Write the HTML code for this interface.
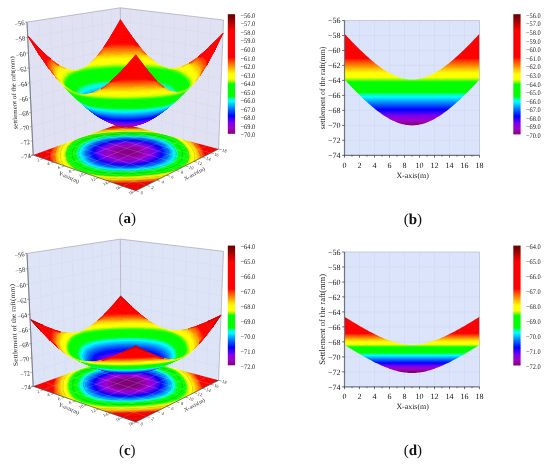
<!DOCTYPE html>
<html><head><meta charset="utf-8"><style>
html,body{margin:0;padding:0;background:#fff;}
svg{display:block;}
text{font-family:"Liberation Serif",serif;fill:#1e1e1e;text-rendering:geometricPrecision;}
.tl{font-size:8px;fill:#141414;}
.al{font-size:7.9px;}
.cl{font-size:7px;fill:#222;}
.t3{font-size:7px;}
.t4{font-size:4.5px;fill:#333;}
.t5{font-size:5.5px;}
.cap{font-size:15px;fill:#111;}
.s path{fill:currentColor;stroke:currentColor;stroke-width:.8;stroke-linejoin:round;}
</style></head><body>
<svg width="550" height="464" viewBox="0 0 550 464">
<rect width="550" height="464" fill="#fff"/>
<polygon points="27,22.1 120.3,7.8 121.1,123 33.2,155" fill="#e1e1f4"/>
<polygon points="120.3,7.8 223.5,20 218.6,149 121.1,123" fill="#e1e1f4"/>
<path d="M38.9 20.3L44.4 151M130.5 9.1L130.8 125.6M50.4 18.5L55.1 147M141.1 10.3L140.8 128.2M61.5 16.8L65.5 143.3M151.9 11.6L151.1 131M72.1 15.2L75.5 139.6M163 12.9L161.6 133.8M82.4 13.6L85.3 136.1M174.4 14.2L172.4 136.7M92.4 12.1L94.6 132.6M186.1 15.6L183.5 139.6M102 10.6L103.7 129.3M198.2 17L194.9 142.7M111.3 9.2L112.5 126.1M210.7 18.5L206.6 145.8M27.7 37.6L120.4 21.2 222.9 35.1M28.5 53L120.5 34.4 222.3 49.9M29.2 68.1L120.6 47.5 221.8 64.6M29.9 83.1L120.7 60.5 221.3 79.1M30.6 97.9L120.7 73.2 220.7 93.5M31.2 112.4L120.8 85.9 220.2 107.6M31.9 126.8L120.9 98.4 219.7 121.6M32.6 141L121 110.8 219.1 135.4" fill="none" stroke="#d6d6eb" stroke-width=".5"/>
<polyline points="33.2,155 27,22.1 120.3,7.8 223.5,20 218.6,149" fill="none" stroke="#9a9aae" stroke-width=".6"/>
<path d="M120.3 7.8L121.1 123" stroke="#9a9aae" stroke-width=".6"/>
<mask id="fca" maskUnits="userSpaceOnUse" x="0" y="0" width="550" height="464"><polygon points="33.2,155 121.1,123 218.6,149 135.8,190.7" fill="#fff"/></mask><g mask="url(#fca)">
<polygon points="26.9,155.2 120.7,121.3 224.6,148.8 136.5,193.7" fill="#ef0000"/>
<polygon points="169.4,134.2 176.3,136 183.5,137.9 191.4,140 200.4,142.4 211.1,145.2 217.5,149 215.9,153.2 208.5,157 202,160.3 196,163.4 190.2,166.3 184.6,169.2 178.7,172.2 172.6,175.3 165.7,178.8 157.9,182.8 148.5,187.6 135.7,190.1 121.9,188.6 110.4,184.6 100.9,181.2 92.5,178.3 84.8,175.6 77.6,173 70.5,170.6 63.2,168 55.7,165.4 47.4,162.5 38,159.2 34.5,155 39.4,150.7 49.3,147.1 57.5,144.1 64.7,141.5 71.3,139.2 77.5,136.9 83.6,134.7 89.7,132.5 96.2,130.2 103.3,127.6 111.2,124.7 121.1,123.3 131.5,124.2 140.6,126.6 148.5,128.7 155.8,130.6 162.6,132.4" fill="#ff0000"/>
<polygon points="169.4,134.2 176.3,136 183.5,137.9 191.4,140 200.4,142.4 211.1,145.2 216.3,149.1 215.9,153.2 208.5,157 202,160.3 196,163.4 190.2,166.3 184.6,169.2 178.7,172.2 172.6,175.3 165.7,178.8 157.9,182.8 148.5,187.6 135.5,189.5 121.9,188.6 110.4,184.6 100.9,181.2 92.5,178.3 84.8,175.6 77.6,173 70.5,170.6 63.2,168 55.7,165.4 47.4,162.5 38,159.2 35.7,155 39.4,150.7 49.3,147.1 57.5,144.1 64.7,141.5 71.3,139.2 77.5,136.9 83.6,134.7 89.7,132.5 96.2,130.2 103.3,127.6 111.2,124.7 121.2,123.7 131.5,124.2 140.6,126.6 148.5,128.7 155.8,130.6 162.6,132.4" fill="#ff0000"/>
<polygon points="169.4,134.2 176.3,136 183.5,137.9 191.4,140 200.4,142.4 211.1,145.2 215.1,149.1 215.9,153.2 208.5,157 202,160.3 196,163.4 190.2,166.3 184.6,169.2 178.7,172.2 172.6,175.3 165.7,178.8 157.9,182.8 148.5,187.6 135.4,188.9 121.9,188.6 110.4,184.6 100.9,181.2 92.5,178.3 84.8,175.6 77.6,173 70.5,170.6 63.2,168 55.7,165.4 47.4,162.5 38,159.2 37,154.9 39.4,150.7 49.3,147.1 57.5,144.1 64.7,141.5 71.3,139.2 77.5,136.9 83.6,134.7 89.7,132.5 96.2,130.2 103.3,127.6 111.2,124.7 121.3,124 131.5,124.2 140.6,126.6 148.5,128.7 155.8,130.6 162.6,132.4" fill="#ff0000"/>
<polygon points="169.4,134.2 176.3,136 183.5,137.9 191.4,140 200.4,142.4 211.1,145.2 213.9,149.1 215.9,153.2 208.5,157 202,160.3 196,163.4 190.2,166.3 184.6,169.2 178.7,172.2 172.6,175.3 165.7,178.8 157.9,182.8 148.5,187.6 135.3,188.3 121.9,188.6 110.4,184.6 100.9,181.2 92.5,178.3 84.8,175.6 77.6,173 70.5,170.6 63.2,168 55.7,165.4 47.4,162.5 38,159.2 38.3,154.9 39.4,150.7 49.3,147.1 57.5,144.1 64.7,141.5 71.3,139.2 77.5,136.9 83.6,134.7 89.7,132.5 96.2,130.2 103.3,127.6 111.2,124.7 121.4,124.3 131.5,124.2 140.6,126.6 148.5,128.7 155.8,130.6 162.6,132.4" fill="#ff0000"/>
<polygon points="169.4,134.2 176.3,136 183.5,137.9 191.4,140 200.4,142.4 210.1,145.3 212.7,149.2 214.8,153.2 208.5,157 202,160.3 196,163.4 190.2,166.3 184.6,169.2 178.7,172.2 172.6,175.3 165.7,178.8 157.9,182.8 148.2,187.1 135.2,187.7 122,188.1 110.4,184.6 100.9,181.2 92.5,178.3 84.8,175.6 77.6,173 70.5,170.6 63.2,168 55.7,165.4 47.4,162.5 39.2,159.1 39.5,154.8 40.5,150.7 49.3,147.1 57.5,144.1 64.7,141.5 71.3,139.2 77.5,136.9 83.6,134.7 89.7,132.5 96.2,130.2 103.3,127.6 111.4,125 121.4,124.7 131.5,124.5 140.6,126.6 148.5,128.7 155.8,130.6 162.6,132.4" fill="#ff0000"/>
<polygon points="169.4,134.2 176.3,136 183.5,137.9 191.4,140 200.4,142.4 209,145.4 211.5,149.2 213.5,153.2 208.5,157 202,160.3 196,163.4 190.2,166.3 184.6,169.2 178.7,172.2 172.6,175.3 165.7,178.8 157.9,182.8 147.8,186.5 135,187.1 122.1,187.5 110.4,184.6 100.9,181.2 92.5,178.3 84.8,175.6 77.6,173 70.5,170.6 63.2,168 55.7,165.4 47.4,162.5 40.5,159 40.8,154.8 41.7,150.7 49.3,147.1 57.5,144.1 64.7,141.5 71.3,139.2 77.5,136.9 83.6,134.7 89.7,132.5 96.2,130.2 103.3,127.6 111.6,125.4 121.5,125 131.4,124.8 140.6,126.6 148.5,128.7 155.8,130.6 162.6,132.4" fill="#ff0000"/>
<polygon points="169.4,134.2 176.3,136 183.5,137.9 191.4,140 200.4,142.4 207.8,145.5 210.3,149.3 212.3,153.2 208.5,157 202,160.3 196,163.4 190.2,166.3 184.6,169.2 178.7,172.2 172.6,175.3 165.7,178.8 157.9,182.8 147.5,185.9 134.9,186.5 122.2,186.9 110.4,184.6 100.9,181.2 92.5,178.3 84.8,175.6 77.6,173 70.5,170.6 63.2,168 55.7,165.4 47.4,162.5 41.8,158.9 42.1,154.7 43,150.8 49.3,147.1 57.5,144.1 64.7,141.5 71.3,139.2 77.5,136.9 83.6,134.7 89.7,132.5 96.2,130.2 103.3,127.6 111.8,125.7 121.6,125.4 131.4,125.2 140.6,126.6 148.5,128.7 155.8,130.6 162.6,132.4" fill="#ff0000"/>
<polygon points="169.4,134.2 176.3,136 183.5,137.9 191.4,140 200.4,142.4 206.6,145.6 209.1,149.3 211,153.2 208.5,157 202,160.3 196,163.4 190.2,166.3 184.6,169.2 178.7,172.2 172.6,175.3 165.7,178.8 157.9,182.8 147.2,185.3 134.8,186 122.3,186.3 110.4,184.6 100.9,181.2 92.5,178.3 84.8,175.6 77.6,173 70.5,170.6 63.2,168 55.7,165.4 47.4,162.5 43.1,158.8 43.4,154.7 44.3,150.8 49.3,147.1 57.5,144.1 64.7,141.5 71.3,139.2 77.5,136.9 83.6,134.7 89.7,132.5 96.2,130.2 103.3,127.6 112,126.1 121.7,125.7 131.3,125.5 140.6,126.6 148.5,128.7 155.8,130.6 162.6,132.4" fill="#ff0000"/>
<polygon points="169.4,134.2 176.3,136 183.5,137.9 191.4,140 200.4,142.4 205.4,145.7 207.8,149.3 209.7,153.1 208.5,157 202,160.3 196,163.4 190.2,166.3 184.6,169.2 178.7,172.2 172.6,175.3 165.7,178.8 157.9,182.8 146.8,184.8 134.6,185.4 122.4,185.7 110.4,184.6 100.9,181.2 92.5,178.3 84.8,175.6 77.6,173 70.5,170.6 63.2,168 55.7,165.4 47.4,162.5 44.4,158.6 44.7,154.7 45.5,150.8 49.3,147.1 57.5,144.1 64.7,141.5 71.3,139.2 77.5,136.9 83.6,134.7 89.7,132.5 96.2,130.2 103.3,127.6 112.2,126.4 121.7,126.1 131.3,125.9 140.6,126.6 148.5,128.7 155.8,130.6 162.6,132.4" fill="#ff0000"/>
<polygon points="169.4,134.2 176.3,136 183.5,137.9 191.4,140 200.4,142.4 204.3,145.8 206.6,149.4 208.4,153.1 208.5,157 202,160.3 196,163.4 190.2,166.3 184.6,169.2 178.7,172.2 172.6,175.3 165.7,178.8 157.9,182.8 146.5,184.2 134.5,184.8 122.4,185.1 110.4,184.6 100.9,181.2 92.5,178.3 84.8,175.6 77.6,173 70.5,170.6 63.2,168 55.7,165.4 47.4,162.5 45.8,158.5 46,154.6 46.8,150.8 49.3,147.1 57.5,144.1 64.7,141.5 71.3,139.2 77.5,136.9 83.6,134.7 89.7,132.5 96.2,130.2 103.3,127.6 112.4,126.8 121.8,126.4 131.2,126.3 140.6,126.6 148.5,128.7 155.8,130.6 162.6,132.4" fill="#ff0000"/>
<polygon points="169.4,134.2 176.3,136 183.5,137.9 191.4,140 200.2,142.4 203.1,145.9 205.3,149.4 207.1,153.1 208.3,157 202,160.3 196,163.4 190.2,166.3 184.6,169.2 178.7,172.2 172.6,175.3 165.7,178.8 157.8,182.7 146.1,183.6 134.4,184.2 122.5,184.5 110.5,184.5 100.9,181.2 92.5,178.3 84.8,175.6 77.6,173 70.5,170.6 63.2,168 55.7,165.4 47.6,162.4 47.1,158.4 47.3,154.6 48.1,150.8 49.5,147.1 57.5,144.1 64.7,141.5 71.3,139.2 77.5,136.9 83.6,134.7 89.7,132.5 96.2,130.2 103.3,127.7 112.7,127.1 121.9,126.8 131.1,126.6 140.5,126.6 148.5,128.7 155.8,130.6 162.6,132.4" fill="#ff0000"/>
<polygon points="169.4,134.2 176.3,136 183.5,137.9 191.4,140 199,142.6 201.9,146 204.1,149.5 205.8,153.1 206.9,156.9 202,160.3 196,163.4 190.2,166.3 184.6,169.2 178.7,172.2 172.6,175.3 165.7,178.8 157.2,182.1 145.8,183 134.3,183.6 122.6,183.9 110.8,183.9 100.9,181.2 92.5,178.3 84.8,175.6 77.6,173 70.5,170.6 63.2,168 55.7,165.4 49,162.2 48.5,158.3 48.6,154.5 49.4,150.8 50.8,147.2 57.5,144.1 64.7,141.5 71.3,139.2 77.5,136.9 83.6,134.7 89.7,132.5 96.2,130.2 103.7,128 112.9,127.5 122,127.2 131.1,127 140.3,127 148.5,128.7 155.8,130.6 162.6,132.4" fill="#ff0000"/>
<polygon points="169.4,134.2 176.3,136 183.5,137.9 191.4,140 197.9,142.7 200.6,146.1 202.8,149.5 204.5,153.1 205.6,156.8 202,160.3 196,163.4 190.2,166.3 184.6,169.2 178.7,172.2 172.6,175.3 165.7,178.8 156.7,181.5 145.4,182.4 134.1,183 122.7,183.3 111.1,183.3 100.9,181.2 92.5,178.3 84.8,175.6 77.6,173 70.5,170.6 63.2,168 55.7,165.4 50.4,162.1 49.8,158.2 50,154.5 50.7,150.9 52.1,147.3 57.5,144.1 64.7,141.5 71.3,139.2 77.5,136.9 83.6,134.7 89.7,132.5 96.2,130.2 104,128.4 113.1,127.9 122.1,127.5 131,127.4 140.1,127.4 148.5,128.7 155.8,130.6 162.6,132.4" fill="#ff1c00"/>
<polygon points="169.4,134.2 176.3,136 183.5,137.9 191.4,140 196.7,142.9 199.4,146.2 201.5,149.5 203.1,153.1 204.2,156.7 202,160.3 196,163.4 190.2,166.3 184.6,169.2 178.7,172.2 172.6,175.3 165.7,178.8 156.1,181 145.1,181.8 134,182.4 122.8,182.7 111.5,182.6 100.9,181.2 92.5,178.3 84.8,175.6 77.6,173 70.5,170.6 63.2,168 55.7,165.4 51.8,161.9 51.2,158.1 51.3,154.4 52,150.9 53.3,147.4 57.5,144.1 64.7,141.5 71.3,139.2 77.5,136.9 83.6,134.7 89.7,132.5 96.2,130.2 104.4,128.8 113.3,128.2 122.1,127.9 131,127.7 139.9,127.8 148.5,128.7 155.8,130.6 162.6,132.4" fill="#ff4100"/>
<polygon points="169.4,134.2 176.3,136 183.5,137.9 191.4,140 195.5,143 198.2,146.3 200.3,149.6 201.8,153 202.8,156.6 202,160.3 196,163.4 190.2,166.3 184.6,169.2 178.7,172.2 172.6,175.3 165.7,178.8 155.5,180.4 144.7,181.2 133.9,181.8 122.9,182 111.8,182 100.9,181.2 92.5,178.3 84.8,175.6 77.6,173 70.5,170.6 63.2,168 55.7,165.4 53.2,161.7 52.6,158 52.7,154.4 53.3,150.9 54.7,147.5 57.5,144.1 64.7,141.5 71.3,139.2 77.5,136.9 83.6,134.7 89.7,132.5 96.2,130.2 104.8,129.2 113.5,128.6 122.2,128.3 130.9,128.1 139.7,128.2 148.5,128.7 155.8,130.6 162.6,132.4" fill="#ff6200"/>
<polygon points="169.4,134.2 176.3,136 183.5,137.9 191,140.1 194.3,143.2 196.9,146.4 199,149.6 200.5,153 201.4,156.5 201.5,160.3 196,163.4 190.2,166.3 184.6,169.2 178.7,172.2 172.6,175.3 165.4,178.6 154.9,179.8 144.4,180.6 133.7,181.2 123,181.4 112.1,181.4 101.1,181 92.5,178.3 84.8,175.6 77.6,173 70.5,170.6 63.2,168 56.2,165.3 54.7,161.5 54,157.9 54,154.4 54.7,150.9 56,147.5 58,144.2 64.7,141.5 71.3,139.2 77.5,136.9 83.6,134.7 89.7,132.5 96.4,130.3 105.1,129.5 113.8,129 122.3,128.7 130.9,128.5 139.5,128.5 148.4,128.8 155.8,130.6 162.6,132.4" fill="#ff8200"/>
<polygon points="169.4,134.2 176.3,136 183.5,137.9 189.8,140.3 193.1,143.3 195.7,146.5 197.6,149.7 199.1,153 199.9,156.5 200,160.1 196,163.4 190.2,166.3 184.6,169.2 178.7,172.2 172.6,175.3 164.6,178 154.4,179.2 144,180 133.6,180.5 123.1,180.8 112.4,180.8 101.6,180.4 92.5,178.3 84.8,175.6 77.6,173 70.5,170.6 63.2,168 57.7,165 56.1,161.3 55.4,157.8 55.4,154.3 56,150.9 57.3,147.6 59.3,144.3 64.7,141.5 71.3,139.2 77.5,136.9 83.6,134.7 89.7,132.5 97,130.7 105.5,129.9 114,129.4 122.4,129.1 130.8,128.9 139.3,128.9 148,129.2 155.8,130.6 162.6,132.4" fill="#ffa400"/>
<polygon points="169.4,134.2 176.3,136 183.5,137.9 188.6,140.5 191.9,143.5 194.4,146.6 196.3,149.7 197.7,153 198.5,156.4 198.5,159.9 196,163.4 190.2,166.3 184.6,169.2 178.7,172.2 172.6,175.3 163.8,177.4 153.8,178.6 143.6,179.4 133.5,179.9 123.2,180.2 112.8,180.1 102.2,179.7 92.5,178.3 84.8,175.6 77.6,173 70.5,170.6 63.2,168 59.1,164.7 57.5,161.1 56.8,157.6 56.8,154.3 57.4,151 58.6,147.7 60.6,144.5 64.7,141.5 71.3,139.2 77.5,136.9 83.6,134.7 89.7,132.5 97.5,131.1 105.9,130.3 114.2,129.8 122.5,129.5 130.7,129.3 139.1,129.3 147.6,129.6 155.8,130.6 162.6,132.4" fill="#ffc400"/>
<polygon points="169.4,134.2 176.3,136 183.4,137.9 187.4,140.7 190.6,143.7 193.1,146.7 195,149.8 196.3,153 197.1,156.3 197,159.8 195.8,163.4 190.2,166.3 184.6,169.2 178.7,172.2 172.4,175.3 163,176.9 153.2,178 143.3,178.8 133.3,179.3 123.3,179.6 113.1,179.5 102.8,179.1 92.6,178.2 84.8,175.6 77.6,173 70.5,170.6 63.4,168 60.6,164.4 59,160.9 58.2,157.5 58.2,154.2 58.8,151 60,147.8 61.9,144.6 64.9,141.6 71.3,139.2 77.5,136.9 83.6,134.7 89.8,132.5 98.1,131.5 106.3,130.7 114.5,130.2 122.6,129.9 130.7,129.7 138.9,129.8 147.3,130 155.7,130.6 162.6,132.4" fill="#ffe100"/>
<polygon points="169.4,134.2 176.3,136 182.2,138.2 186.2,141 189.4,143.8 191.8,146.8 193.6,149.8 194.9,152.9 195.6,156.2 195.5,159.6 194.3,163.1 190.2,166.3 184.6,169.2 178.7,172.2 171.4,174.7 162.2,176.3 152.6,177.4 142.9,178.2 133.2,178.7 123.4,178.9 113.4,178.9 103.4,178.5 93.4,177.6 84.8,175.6 77.6,173 70.5,170.6 64.9,167.6 62.1,164.2 60.4,160.7 59.7,157.4 59.6,154.2 60.2,151 61.3,147.9 63.3,144.8 66.2,141.8 71.3,139.2 77.5,136.9 83.6,134.7 90.6,132.9 98.6,131.9 106.7,131.1 114.7,130.6 122.7,130.3 130.6,130.1 138.7,130.2 146.9,130.4 155.1,131 162.6,132.4" fill="#fffe00"/>
<polygon points="169.4,134.2 176,136.1 181.1,138.5 185,141.2 188.1,144 190.5,146.9 192.3,149.9 193.5,152.9 194.1,156.1 194,159.4 192.7,162.8 189.9,166.2 184.6,169.2 178.5,172.1 170.3,174.2 161.3,175.7 152,176.8 142.6,177.6 133.1,178.1 123.5,178.3 113.7,178.2 103.9,177.8 94.2,176.9 85,175.5 77.6,173 70.8,170.5 66.4,167.2 63.6,163.9 61.9,160.6 61.1,157.3 61,154.1 61.6,151 62.7,148 64.6,144.9 67.5,142 71.6,139.2 77.5,136.9 83.8,134.8 91.3,133.3 99.2,132.2 107.1,131.5 114.9,131 122.7,130.7 130.6,130.5 138.5,130.6 146.5,130.9 154.6,131.5 162.5,132.5" fill="#ffff00"/>
<polygon points="168.8,134.4 175,136.4 179.9,138.8 183.8,141.4 186.8,144.2 189.1,147 190.9,149.9 192.1,152.9 192.6,156 192.4,159.2 191.2,162.6 188.4,165.9 183.7,169 177.2,171.6 169.2,173.6 160.5,175.1 151.4,176.2 142.2,177 132.9,177.5 123.6,177.7 114.1,177.6 104.5,177.2 95.1,176.3 86.1,174.9 78.3,172.7 72.2,170 67.9,166.9 65.1,163.6 63.4,160.4 62.6,157.2 62.5,154.1 63,151 64.1,148 66,145.1 68.8,142.2 72.8,139.5 78.2,137.1 84.7,135.2 92.1,133.7 99.8,132.7 107.5,131.9 115.2,131.4 122.8,131.1 130.5,131 138.3,131 146.1,131.3 154,131.9 161.7,132.9" fill="#ffff00"/>
<polygon points="167.9,134.8 173.9,136.8 178.8,139.1 182.6,141.7 185.5,144.3 187.8,147.1 189.5,149.9 190.6,152.9 191.1,155.9 190.9,159.1 189.6,162.3 186.8,165.5 182.2,168.5 175.9,171 168.1,173 159.6,174.5 150.8,175.6 141.8,176.4 132.8,176.8 123.6,177 114.4,177 105.1,176.5 95.9,175.7 87.2,174.2 79.6,172.2 73.6,169.5 69.4,166.5 66.6,163.3 64.9,160.2 64.1,157.1 64,154 64.4,151.1 65.5,148.1 67.4,145.2 70.1,142.4 74.1,139.8 79.3,137.5 85.7,135.6 92.9,134.1 100.4,133.1 107.9,132.3 115.4,131.8 122.9,131.5 130.4,131.4 138,131.4 145.7,131.7 153.4,132.3 161,133.3" fill="#beff00"/>
<polygon points="167,135.2 172.8,137.1 177.6,139.4 181.3,141.9 184.2,144.5 186.4,147.2 188.1,150 189.1,152.9 189.6,155.8 189.3,158.9 188,162.1 185.2,165.2 180.7,168.1 174.5,170.5 167,172.5 158.8,173.9 150.2,175 141.5,175.7 132.6,176.2 123.7,176.4 114.7,176.3 105.7,175.9 96.8,175 88.3,173.6 80.9,171.6 75.1,169 70.9,166.1 68.1,163 66.4,160 65.6,156.9 65.4,154 65.9,151.1 67,148.2 68.8,145.4 71.5,142.7 75.3,140.1 80.4,137.8 86.7,135.9 93.6,134.5 100.9,133.5 108.3,132.7 115.7,132.2 123,131.9 130.4,131.8 137.8,131.9 145.3,132.2 152.8,132.8 160.2,133.8" fill="#53ff00"/>
<polygon points="166,135.6 171.7,137.5 176.4,139.7 180,142.1 182.9,144.7 185,147.3 186.6,150 187.6,152.8 188.1,155.7 187.7,158.7 186.4,161.8 183.6,164.8 179.3,167.6 173.2,170 166,171.9 158,173.4 149.6,174.4 141.1,175.1 132.5,175.6 123.8,175.7 115.1,175.7 106.3,175.2 97.6,174.4 89.4,173 82.3,171.1 76.5,168.6 72.4,165.7 69.6,162.7 68,159.8 67.1,156.8 66.9,153.9 67.4,151.1 68.4,148.3 70.2,145.6 72.9,142.9 76.6,140.4 81.6,138.2 87.7,136.3 94.4,134.9 101.6,133.9 108.8,133.2 115.9,132.7 123.1,132.4 130.3,132.3 137.6,132.3 144.9,132.6 152.2,133.2 159.4,134.2" fill="#00ff00"/>
<polygon points="165,136 170.6,137.9 175.1,140 178.7,142.4 181.5,144.9 183.6,147.4 185.2,150.1 186.1,152.8 186.5,155.6 186.1,158.5 184.8,161.5 182,164.4 177.8,167.2 171.9,169.5 164.9,171.3 157.1,172.8 149,173.8 140.7,174.5 132.4,174.9 123.9,175.1 115.4,175 106.9,174.6 98.5,173.7 90.6,172.4 83.6,170.5 78,168.1 73.9,165.3 71.2,162.5 69.5,159.6 68.7,156.7 68.5,153.9 68.9,151.1 69.9,148.4 71.6,145.7 74.2,143.1 77.9,140.7 82.8,138.5 88.7,136.7 95.2,135.3 102.2,134.3 109.2,133.6 116.2,133.1 123.2,132.8 130.2,132.7 137.3,132.8 144.5,133.1 151.6,133.7 158.6,134.6" fill="#00ff00"/>
<polygon points="164,136.5 169.4,138.2 173.9,140.3 177.4,142.6 180.1,145 182.2,147.6 183.7,150.1 184.6,152.8 184.9,155.5 184.5,158.4 183.1,161.2 180.4,164.1 176.2,166.7 170.6,169 163.7,170.8 156.2,172.1 148.4,173.1 140.3,173.8 132.2,174.3 124,174.4 115.8,174.3 107.5,173.9 99.3,173.1 91.7,171.8 84.9,169.9 79.5,167.6 75.5,165 72.8,162.2 71.1,159.3 70.2,156.6 70,153.8 70.4,151.1 71.4,148.5 73.1,145.9 75.6,143.4 79.2,141 84,138.9 89.7,137.1 96.1,135.8 102.8,134.8 109.6,134.1 116.5,133.6 123.3,133.3 130.2,133.2 137.1,133.3 144.1,133.6 151,134.1 157.8,135.1" fill="#00ff00"/>
<polygon points="163,136.9 168.3,138.6 172.6,140.6 176.1,142.9 178.7,145.2 180.7,147.7 182.2,150.2 183,152.8 183.3,155.4 182.9,158.2 181.5,161 178.8,163.7 174.7,166.2 169.2,168.4 162.6,170.2 155.3,171.5 147.7,172.5 140,173.2 132.1,173.6 124.1,173.8 116.1,173.7 108.1,173.2 100.2,172.4 92.8,171.2 86.3,169.4 81,167.1 77.1,164.6 74.4,161.9 72.7,159.1 71.8,156.4 71.6,153.8 71.9,151.2 72.9,148.6 74.6,146.1 77.1,143.6 80.6,141.3 85.2,139.2 90.7,137.5 96.9,136.2 103.4,135.2 110.1,134.5 116.8,134 123.4,133.8 130.1,133.6 136.8,133.7 143.6,134 150.4,134.6 157,135.5" fill="#00ff00"/>
<polygon points="162,137.3 167.1,139 171.3,141 174.7,143.1 177.3,145.4 179.2,147.8 180.6,150.2 181.5,152.7 181.7,155.3 181.2,158 179.8,160.7 177.2,163.3 173.2,165.8 167.9,167.9 161.5,169.6 154.5,170.9 147.1,171.9 139.6,172.5 131.9,172.9 124.2,173.1 116.5,173 108.7,172.6 101.1,171.8 93.9,170.5 87.6,168.8 82.5,166.6 78.6,164.2 76,161.6 74.3,158.9 73.4,156.3 73.2,153.7 73.5,151.2 74.4,148.7 76.1,146.2 78.5,143.8 81.9,141.6 86.4,139.6 91.8,137.9 97.8,136.6 104.1,135.7 110.5,135 117,134.5 123.5,134.2 130,134.1 136.6,134.2 143.2,134.5 149.8,135.1 156.1,136" fill="#00ff00"/>
<polygon points="161,137.8 165.9,139.4 170,141.3 173.3,143.4 175.8,145.6 177.7,147.9 179.1,150.3 179.8,152.7 180,155.2 179.5,157.8 178.1,160.4 175.5,163 171.6,165.3 166.5,167.4 160.3,169 153.6,170.3 146.5,171.2 139.2,171.9 131.8,172.3 124.3,172.4 116.8,172.3 109.3,171.9 102,171.1 95.1,169.9 89,168.2 84,166.1 80.2,163.8 77.6,161.3 76,158.7 75.1,156.2 74.8,153.7 75.1,151.2 76,148.8 77.6,146.4 80,144.1 83.3,141.9 87.6,140 92.8,138.4 98.6,137.1 104.8,136.1 111,135.5 117.3,135 123.6,134.7 130,134.6 136.3,134.7 142.7,135 149.1,135.6 155.3,136.5" fill="#00ff00"/>
<polygon points="159.9,138.2 164.7,139.8 168.7,141.6 171.9,143.7 174.3,145.8 176.2,148 177.5,150.3 178.2,152.7 178.4,155.1 177.8,157.6 176.4,160.1 173.8,162.6 170.1,164.8 165.1,166.8 159.2,168.4 152.7,169.7 145.8,170.6 138.8,171.2 131.6,171.6 124.4,171.7 117.2,171.6 110,171.2 102.9,170.4 96.2,169.2 90.4,167.6 85.5,165.6 81.9,163.4 79.3,160.9 77.6,158.5 76.7,156 76.4,153.6 76.7,151.2 77.6,148.9 79.2,146.6 81.5,144.3 84.7,142.2 88.9,140.4 93.9,138.8 99.5,137.6 105.4,136.6 111.5,135.9 117.6,135.5 123.7,135.2 129.9,135.1 136.1,135.2 142.3,135.5 148.5,136.1 154.4,137" fill="#00ff8a"/>
<polygon points="158.8,138.7 163.5,140.2 167.3,142 170.4,143.9 172.8,146 174.6,148.2 175.8,150.4 176.5,152.7 176.6,155 176.1,157.4 174.6,159.8 172.1,162.2 168.5,164.4 163.7,166.3 158,167.8 151.7,169 145.1,169.9 138.4,170.5 131.5,170.9 124.5,171 117.6,170.9 110.6,170.5 103.8,169.7 97.4,168.6 91.8,167 87.1,165.1 83.5,162.9 81,160.6 79.3,158.3 78.4,155.9 78.1,153.6 78.4,151.3 79.3,149 80.8,146.7 83,144.6 86.2,142.6 90.2,140.8 95,139.2 100.4,138 106.1,137.1 112,136.4 117.9,136 123.8,135.7 129.8,135.6 135.8,135.7 141.8,136 147.8,136.6 153.5,137.5" fill="#00ffd7"/>
<polygon points="157.7,139.1 162.2,140.6 165.9,142.3 168.9,144.2 171.2,146.2 173,148.3 174.2,150.4 174.8,152.6 174.9,154.9 174.3,157.2 172.8,159.5 170.4,161.8 166.9,163.9 162.3,165.7 156.8,167.2 150.8,168.4 144.5,169.2 137.9,169.8 131.3,170.2 124.7,170.3 117.9,170.2 111.2,169.8 104.7,169 98.6,167.9 93.2,166.4 88.7,164.6 85.2,162.5 82.7,160.3 81.1,158 80.2,155.8 79.9,153.5 80.1,151.3 80.9,149.1 82.4,146.9 84.6,144.8 87.6,142.9 91.5,141.2 96.2,139.7 101.3,138.5 106.8,137.6 112.5,137 118.2,136.5 124,136.3 129.7,136.2 135.5,136.3 141.3,136.6 147.1,137.1 152.6,138" fill="#00ecff"/>
<polygon points="156.6,139.6 160.9,141 164.5,142.7 167.4,144.5 169.6,146.4 171.3,148.4 172.4,150.5 173,152.6 173.1,154.8 172.5,157 171,159.2 168.7,161.4 165.2,163.4 160.8,165.1 155.6,166.6 149.9,167.7 143.8,168.5 137.5,169.1 131.2,169.4 124.8,169.5 118.3,169.4 111.9,169 105.7,168.3 99.8,167.3 94.6,165.8 90.3,164.1 86.9,162.1 84.5,160 82.9,157.8 81.9,155.6 81.6,153.5 81.9,151.3 82.7,149.2 84.1,147.1 86.2,145.1 89.1,143.2 92.9,141.6 97.3,140.1 102.3,139 107.6,138.1 113,137.5 118.5,137 124.1,136.8 129.6,136.7 135.2,136.8 140.8,137.1 146.4,137.7 151.7,138.5" fill="#00c4ff"/>
<polygon points="155.4,140.1 159.6,141.5 163,143 165.8,144.8 168,146.6 169.6,148.6 170.7,150.6 171.2,152.6 171.2,154.7 170.6,156.8 169.2,158.9 166.9,161 163.6,162.9 159.3,164.5 154.4,165.9 148.9,167 143.1,167.8 137.1,168.4 131,168.7 124.9,168.8 118.7,168.7 112.6,168.3 106.6,167.6 101,166.6 96.1,165.2 91.9,163.6 88.6,161.7 86.3,159.6 84.7,157.6 83.8,155.5 83.4,153.4 83.7,151.3 84.4,149.3 85.8,147.3 87.9,145.4 90.7,143.6 94.3,142 98.5,140.6 103.3,139.5 108.3,138.6 113.6,138 118.9,137.6 124.2,137.4 129.6,137.3 134.9,137.4 140.3,137.7 145.6,138.2 150.7,139" fill="#009cff"/>
<polygon points="154.2,140.6 158.2,141.9 161.5,143.4 164.2,145.1 166.3,146.9 167.8,148.7 168.9,150.6 169.4,152.6 169.3,154.6 168.7,156.6 167.3,158.6 165,160.6 161.9,162.4 157.8,164 153.1,165.3 147.9,166.3 142.4,167.1 136.7,167.6 130.9,167.9 125,168 119.1,167.9 113.3,167.5 107.6,166.9 102.3,165.9 97.5,164.6 93.6,163 90.4,161.2 88.1,159.3 86.6,157.3 85.7,155.3 85.3,153.3 85.5,151.4 86.3,149.4 87.6,147.5 89.6,145.7 92.3,144 95.7,142.4 99.7,141.1 104.3,140 109.1,139.2 114.1,138.6 119.2,138.2 124.3,137.9 129.5,137.9 134.6,138 139.8,138.3 144.9,138.8 149.7,139.6" fill="#0075ff"/>
<polygon points="153,141.1 156.8,142.4 160,143.8 162.5,145.4 164.5,147.1 166,148.9 167,150.7 167.4,152.5 167.4,154.4 166.7,156.4 165.3,158.3 163.2,160.1 160.1,161.8 156.3,163.4 151.8,164.6 146.9,165.6 141.6,166.3 136.2,166.9 130.7,167.2 125.1,167.3 119.5,167.1 114,166.8 108.6,166.1 103.6,165.2 99.1,164 95.3,162.5 92.2,160.8 90,158.9 88.5,157.1 87.6,155.2 87.2,153.3 87.4,151.4 88.1,149.5 89.4,147.7 91.3,146 93.9,144.3 97.2,142.9 101,141.6 105.3,140.6 109.9,139.8 114.7,139.2 119.6,138.8 124.5,138.5 129.4,138.5 134.3,138.6 139.2,138.9 144.1,139.4 148.7,140.1" fill="#0051ff"/>
<polygon points="151.7,141.7 155.3,142.8 158.3,144.2 160.8,145.7 162.7,147.3 164.1,149 165,150.7 165.4,152.5 165.4,154.3 164.7,156.1 163.3,157.9 161.2,159.7 158.4,161.3 154.7,162.7 150.5,163.9 145.8,164.9 140.9,165.6 135.7,166.1 130.5,166.4 125.2,166.4 119.9,166.3 114.7,166 109.6,165.3 104.9,164.5 100.6,163.3 97,161.9 94.1,160.3 92,158.6 90.5,156.8 89.6,155 89.2,153.2 89.4,151.4 90.1,149.7 91.3,147.9 93.1,146.3 95.6,144.7 98.7,143.3 102.3,142.1 106.4,141.1 110.8,140.3 115.3,139.8 119.9,139.4 124.6,139.2 129.3,139.1 134,139.2 138.7,139.5 143.3,140 147.7,140.7" fill="#002dff"/>
<polygon points="150.4,142.2 153.8,143.3 156.6,144.6 159,146.1 160.8,147.6 162.1,149.2 163,150.8 163.4,152.5 163.2,154.2 162.6,155.9 161.3,157.6 159.3,159.2 156.5,160.8 153.1,162.1 149.1,163.2 144.7,164.1 140.1,164.8 135.3,165.3 130.3,165.5 125.3,165.6 120.4,165.5 115.4,165.1 110.7,164.5 106.2,163.7 102.2,162.6 98.8,161.3 96.1,159.8 94,158.2 92.6,156.5 91.7,154.8 91.3,153.1 91.5,151.5 92.1,149.8 93.3,148.1 95,146.6 97.3,145.1 100.3,143.8 103.7,142.6 107.5,141.7 111.6,141 115.9,140.4 120.3,140 124.7,139.8 129.2,139.8 133.7,139.9 138.1,140.2 142.4,140.6 146.6,141.3" fill="#0009ff"/>
<polygon points="149,142.8 152.2,143.9 154.9,145.1 157.1,146.4 158.8,147.8 160.1,149.3 160.9,150.9 161.2,152.5 161,154.1 160.4,155.7 159.1,157.2 157.2,158.8 154.6,160.2 151.4,161.4 147.7,162.5 143.6,163.3 139.3,164 134.8,164.4 130.1,164.7 125.5,164.7 120.8,164.6 116.2,164.3 111.8,163.7 107.6,162.9 103.9,161.9 100.7,160.7 98.1,159.3 96.1,157.8 94.7,156.2 93.9,154.7 93.5,153.1 93.6,151.5 94.2,149.9 95.4,148.4 97,146.9 99.2,145.5 101.9,144.3 105.1,143.2 108.7,142.3 112.6,141.6 116.6,141.1 120.7,140.7 124.9,140.5 129.1,140.5 133.3,140.6 137.5,140.8 141.5,141.3 145.4,142" fill="#1d00fb"/>
<polygon points="147.5,143.4 150.5,144.4 153,145.5 155.1,146.8 156.7,148.1 157.9,149.5 158.6,150.9 158.9,152.4 158.7,153.9 158.1,155.4 156.8,156.9 155,158.3 152.6,159.6 149.7,160.7 146.2,161.7 142.5,162.5 138.4,163.1 134.2,163.5 129.9,163.8 125.6,163.8 121.3,163.7 117,163.4 112.9,162.9 109.1,162.1 105.6,161.2 102.6,160.1 100.2,158.8 98.3,157.4 97,156 96.2,154.5 95.8,153 95.9,151.5 96.5,150.1 97.5,148.6 99.1,147.3 101.1,146 103.7,144.8 106.6,143.8 110,143 113.6,142.3 117.3,141.8 121.1,141.5 125,141.3 129,141.2 132.9,141.3 136.8,141.6 140.6,142 144.2,142.6" fill="#4500f6"/>
<polygon points="146,144.1 148.7,145 151,146 153,147.2 154.5,148.4 155.5,149.7 156.2,151 156.5,152.4 156.3,153.8 155.6,155.1 154.5,156.5 152.8,157.8 150.6,159 147.8,160 144.7,160.9 141.2,161.6 137.5,162.2 133.7,162.6 129.7,162.8 125.8,162.9 121.8,162.7 117.9,162.5 114.1,162 110.6,161.3 107.4,160.4 104.7,159.4 102.4,158.2 100.6,157 99.4,155.6 98.6,154.3 98.3,152.9 98.4,151.5 98.9,150.2 99.8,148.9 101.3,147.6 103.2,146.4 105.5,145.4 108.2,144.4 111.3,143.7 114.6,143 118.1,142.6 121.6,142.2 125.2,142.1 128.9,142 132.5,142.1 136.1,142.4 139.6,142.8 142.9,143.4" fill="#6d00f1"/>
<polygon points="144.3,144.8 146.8,145.6 148.9,146.6 150.7,147.6 152,148.7 153,149.9 153.6,151.1 153.8,152.3 153.6,153.6 153,154.8 151.9,156.1 150.4,157.2 148.3,158.3 145.9,159.2 143,160.1 139.9,160.7 136.6,161.2 133.1,161.6 129.5,161.8 125.9,161.8 122.3,161.7 118.8,161.5 115.4,161 112.2,160.4 109.3,159.6 106.8,158.7 104.8,157.6 103.1,156.5 102,155.3 101.2,154.1 100.9,152.8 101,151.6 101.5,150.4 102.3,149.2 103.6,148 105.4,146.9 107.5,146 110,145.1 112.7,144.4 115.7,143.8 118.9,143.4 122.1,143.1 125.4,142.9 128.7,142.9 132,143 135.3,143.2 138.5,143.6 141.5,144.1" fill="#8400e4"/>
<polygon points="142.5,145.6 144.7,146.3 146.6,147.2 148.1,148.1 149.4,149.1 150.2,150.1 150.8,151.2 150.9,152.3 150.7,153.4 150.2,154.5 149.2,155.6 147.8,156.6 145.9,157.6 143.8,158.4 141.2,159.1 138.5,159.7 135.5,160.2 132.4,160.5 129.3,160.7 126.1,160.7 122.9,160.6 119.8,160.4 116.8,160 113.9,159.4 111.4,158.7 109.2,157.9 107.3,157 105.9,156 104.8,154.9 104.1,153.8 103.8,152.7 103.8,151.6 104.3,150.5 105.1,149.5 106.2,148.4 107.8,147.5 109.6,146.6 111.8,145.9 114.3,145.2 117,144.7 119.8,144.3 122.7,144 125.6,143.9 128.6,143.8 131.6,143.9 134.5,144.1 137.3,144.5 140,145" fill="#9400d4"/>
<polygon points="140.4,146.5 142.3,147.1 144,147.8 145.3,148.6 146.4,149.5 147.1,150.4 147.6,151.3 147.7,152.3 147.5,153.2 147,154.2 146.1,155.1 144.9,156 143.3,156.8 141.4,157.5 139.3,158.1 136.9,158.6 134.4,159 131.7,159.3 129,159.5 126.3,159.5 123.5,159.4 120.8,159.2 118.3,158.8 115.9,158.4 113.7,157.8 111.8,157.1 110.2,156.3 108.9,155.4 107.9,154.5 107.3,153.6 107,152.6 107.1,151.7 107.4,150.7 108.1,149.8 109.1,148.9 110.5,148.1 112.1,147.4 114,146.7 116.1,146.1 118.4,145.7 120.8,145.3 123.3,145.1 125.8,144.9 128.4,144.9 131,145 133.5,145.2 136,145.5 138.3,145.9" fill="#9d00c1"/>
<polygon points="138,147.5 139.5,148 140.9,148.6 142,149.2 142.9,149.9 143.5,150.7 143.8,151.4 143.9,152.2 143.7,153 143.3,153.7 142.5,154.5 141.5,155.2 140.2,155.8 138.7,156.4 137,156.9 135.1,157.4 133,157.7 130.9,157.9 128.7,158 126.5,158 124.3,158 122.1,157.8 120,157.5 118.1,157.1 116.3,156.6 114.8,156.1 113.4,155.5 112.4,154.8 111.6,154 111.1,153.3 110.8,152.5 110.9,151.7 111.1,151 111.7,150.2 112.5,149.5 113.6,148.8 114.9,148.2 116.4,147.7 118.2,147.2 120,146.8 122,146.5 124,146.3 126.1,146.2 128.2,146.2 130.3,146.3 132.4,146.4 134.4,146.7 136.3,147" fill="#9100a5"/>
<polygon points="134.9,148.8 136,149.2 136.9,149.6 137.7,150 138.3,150.5 138.7,151.1 139,151.6 139,152.1 138.9,152.7 138.5,153.2 138,153.7 137.3,154.2 136.4,154.7 135.3,155.1 134.1,155.4 132.8,155.7 131.3,156 129.8,156.1 128.3,156.2 126.7,156.2 125.2,156.2 123.7,156 122.2,155.8 120.9,155.6 119.7,155.2 118.6,154.8 117.6,154.4 116.9,153.9 116.3,153.4 115.9,152.9 115.7,152.3 115.7,151.8 115.9,151.3 116.3,150.7 116.9,150.2 117.7,149.7 118.6,149.3 119.7,148.9 120.9,148.6 122.2,148.3 123.6,148.1 125,148 126.5,147.9 128,147.9 129.5,147.9 130.9,148 132.3,148.2 133.7,148.5" fill="#860088"/>
<path d="M142.3 145.6 144.5 146.4 146.4 147.2 147.9 148.1 149.2 149.1 150 150.1 150.5 151.2 150.7 152.3 150.5 153.4 149.9 154.5 148.9 155.6 147.5 156.6 145.8 157.5 143.6 158.3 141.1 159.1 138.4 159.7 135.4 160.1 132.4 160.4 129.3 160.6 126.1 160.6 122.9 160.5 119.8 160.3 116.9 159.9 114.1 159.3 111.6 158.7 109.4 157.8 107.5 156.9 106.1 155.9 105 154.9 104.3 153.8 104 152.7 104.1 151.6 104.5 150.5 105.3 149.5 106.4 148.5 108 147.5 109.8 146.7 112 145.9 114.4 145.3 117.1 144.8 119.8 144.4 122.7 144.1 125.6 143.9 128.6 143.9 131.5 144 134.4 144.2 137.2 144.6 139.9 145zM148.8 142.9 151.9 144 154.6 145.2 156.8 146.5 158.5 147.9 159.7 149.4 160.5 150.9 160.8 152.4 160.7 154 160 155.6 158.8 157.2 156.9 158.7 154.3 160.1 151.2 161.3 147.5 162.4 143.4 163.2 139.1 163.8 134.7 164.3 130.1 164.5 125.5 164.6 120.9 164.5 116.3 164.1 111.9 163.6 107.8 162.8 104.1 161.8 101 160.6 98.4 159.2 96.4 157.7 95.1 156.2 94.2 154.6 93.9 153.1 94 151.5 94.6 149.9 95.7 148.4 97.3 147 99.5 145.6 102.2 144.4 105.4 143.3 108.9 142.4 112.7 141.7 116.7 141.2 120.8 140.8 124.9 140.6 129.1 140.6 133.2 140.7 137.4 141 141.4 141.4 145.2 142.1zM153.9 140.7 157.9 142 161.2 143.5 163.8 145.2 165.9 146.9 167.4 148.7 168.4 150.6 168.9 152.6 168.9 154.5 168.2 156.5 166.8 158.5 164.6 160.5 161.5 162.2 157.5 163.8 152.8 165.1 147.7 166.1 142.2 166.9 136.6 167.4 130.8 167.8 125 167.9 119.2 167.7 113.4 167.4 107.8 166.7 102.6 165.7 97.9 164.4 94 162.9 90.8 161.1 88.6 159.2 87 157.3 86.1 155.3 85.8 153.3 86 151.4 86.7 149.4 88 147.6 90 145.7 92.6 144 96 142.5 100 141.2 104.5 140.1 109.3 139.3 114.3 138.7 119.3 138.3 124.4 138.1 129.5 138 134.6 138.1 139.7 138.4 144.7 138.9 149.5 139.7zM158.5 138.8 163.1 140.3 166.9 142.1 170 144 172.3 146.1 174.1 148.2 175.3 150.4 176 152.7 176.1 155 175.5 157.4 174.1 159.7 171.6 162.1 168 164.2 163.2 166.1 157.6 167.6 151.4 168.8 144.9 169.7 138.2 170.3 131.4 170.6 124.6 170.8 117.7 170.7 110.8 170.2 104.1 169.5 97.8 168.4 92.2 166.9 87.6 165 84 162.8 81.5 160.5 79.9 158.2 79 155.9 78.7 153.6 78.9 151.3 79.8 149 81.3 146.8 83.5 144.7 86.6 142.7 90.6 140.9 95.4 139.4 100.7 138.2 106.4 137.3 112.2 136.6 118 136.2 123.9 135.9 129.8 135.8 135.7 135.9 141.7 136.2 147.6 136.8 153.2 137.6zM162.6 137 167.8 138.8 172.1 140.8 175.5 143 178.2 145.3 180.1 147.7 181.6 150.2 182.4 152.8 182.7 155.4 182.2 158.1 180.8 160.9 178.2 163.6 174.1 166.1 168.7 168.2 162.2 170 155 171.3 147.5 172.3 139.8 172.9 132 173.3 124.2 173.5 116.3 173.4 108.3 173 100.6 172.2 93.2 170.9 86.8 169.1 81.6 166.9 77.7 164.4 75 161.7 73.3 159.1 72.4 156.4 72.2 153.8 72.5 151.2 73.5 148.6 75.2 146.1 77.6 143.7 81.1 141.4 85.6 139.4 91.1 137.7 97.2 136.4 103.7 135.4 110.3 134.7 116.9 134.2 123.5 133.9 130.1 133.8 136.7 133.9 143.5 134.2 150.2 134.8 156.6 135.7zM166.5 135.4 172.3 137.3 177 139.5 180.7 142 183.6 144.6 185.8 147.3 187.4 150 188.4 152.8 188.9 155.8 188.6 158.8 187.2 161.9 184.5 165 180 167.8 173.9 170.3 166.5 172.2 158.4 173.7 149.9 174.7 141.3 175.4 132.6 175.9 123.8 176.1 114.9 176 106 175.6 97.2 174.7 88.9 173.3 81.6 171.4 75.8 168.8 71.6 165.9 68.8 162.9 67.2 159.9 66.3 156.9 66.1 154 66.6 151.1 67.6 148.3 69.4 145.5 72.1 142.8 75.9 140.2 81 138 87.1 136.1 94 134.7 101.2 133.7 108.5 132.9 115.8 132.5 123.1 132.2 130.3 132 137.7 132.1 145.1 132.4 152.6 133 159.8 134zM169.4 134.2 176.3 136 181.6 138.4 185.6 141.1 188.7 143.9 191.1 146.8 192.9 149.8 194.1 152.9 194.8 156.1 194.7 159.5 193.4 163 190.2 166.3 184.6 169.2 178.7 172.2 170.8 174.4 161.7 176 152.3 177.1 142.7 177.9 133.1 178.4 123.4 178.6 113.6 178.5 103.7 178.1 93.9 177.2 84.8 175.6 77.6 173 70.5 170.6 65.7 167.4 62.9 164 61.2 160.6 60.5 157.4 60.4 154.1 60.9 151 62.1 147.9 64 144.9 66.9 141.9 71.3 139.2 77.5 136.9 83.6 134.7 91 133.1 98.9 132.1 106.9 131.3 114.8 130.8 122.7 130.5 130.6 130.3 138.6 130.4 146.7 130.7 154.8 131.3 162.6 132.4zM169.4 134.2 176.3 136 183.5 137.9 190.2 140.2 193.5 143.3 196.1 146.4 198.1 149.7 199.6 153 200.5 156.5 200.5 160.2 196 163.4 190.2 166.3 184.6 169.2 178.7 172.2 172.6 175.3 164.9 178.2 154.6 179.4 144.1 180.2 133.6 180.8 123.1 181 112.3 181 101.4 180.6 92.5 178.3 84.8 175.6 77.6 173 70.5 170.6 63.2 168 57.1 165.1 55.5 161.4 54.9 157.8 54.9 154.3 55.5 150.9 56.8 147.6 58.8 144.3 64.7 141.5 71.3 139.2 77.5 136.9 83.6 134.7 89.7 132.5 96.7 130.5 105.4 129.8 113.9 129.2 122.4 128.9 130.8 128.8 139.4 128.8 148.1 129.1 155.8 130.6 162.6 132.4zM169.4 134.2 176.3 136 183.5 137.9 191.4 140 198.2 142.7 201 146 203.2 149.5 204.9 153.1 206 156.8 202 160.3 196 163.4 190.2 166.3 184.6 169.2 178.7 172.2 172.6 175.3 165.7 178.8 156.8 181.7 145.5 182.6 134.2 183.1 122.7 183.4 111 183.4 100.9 181.2 92.5 178.3 84.8 175.6 77.6 173 70.5 170.6 63.2 168 55.7 165.4 50 162.1 49.4 158.2 49.6 154.5 50.3 150.9 51.7 147.3 57.5 144.1 64.7 141.5 71.3 139.2 77.5 136.9 83.6 134.7 89.7 132.5 96.2 130.2 103.9 128.3 113 127.8 122 127.4 131.1 127.3 140.2 127.3 148.5 128.7 155.8 130.6 162.6 132.4zM169.4 134.2 176.3 136 183.5 137.9 191.4 140 200.4 142.4 205.7 145.7 208.1 149.3 210 153.2 208.5 157 202 160.3 196 163.4 190.2 166.3 184.6 169.2 178.7 172.2 172.6 175.3 165.7 178.8 157.9 182.8 146.9 184.9 134.7 185.5 122.3 185.8 110.4 184.6 100.9 181.2 92.5 178.3 84.8 175.6 77.6 173 70.5 170.6 63.2 168 55.7 165.4 47.4 162.5 44.2 158.7 44.4 154.7 45.3 150.8 49.3 147.1 57.5 144.1 64.7 141.5 71.3 139.2 77.5 136.9 83.6 134.7 89.7 132.5 96.2 130.2 103.3 127.6 112.2 126.3 121.7 126 131.3 125.8 140.6 126.6 148.5 128.7 155.8 130.6 162.6 132.4zM169.4 134.2 176.3 136 183.5 137.9 191.4 140 200.4 142.4 210.3 145.3 212.9 149.2 215 153.2 208.5 157 202 160.3 196 163.4 190.2 166.3 184.6 169.2 178.7 172.2 172.6 175.3 165.7 178.8 157.9 182.8 148.2 187.2 135.2 187.8 122 188.2 110.4 184.6 100.9 181.2 92.5 178.3 84.8 175.6 77.6 173 70.5 170.6 63.2 168 55.7 165.4 47.4 162.5 39 159.1 39.4 154.8 40.3 150.7 49.3 147.1 57.5 144.1 64.7 141.5 71.3 139.2 77.5 136.9 83.6 134.7 89.7 132.5 96.2 130.2 103.3 127.6 111.4 125 121.4 124.6 131.5 124.4 140.6 126.6 148.5 128.7 155.8 130.6 162.6 132.4z" fill="none" stroke="#203020" stroke-opacity=".5" stroke-width=".4"/>
<path d="M44.4 151L146.5 185.3M43.3 158.5L130.8 125.6M55.1 147L156.8 180.1M53.6 162.1L140.8 128.2M65.5 143.3L166.6 175.2M64.3 165.8L151.1 131M75.5 139.6L176.1 170.4M75.3 169.7L161.6 133.8M85.3 136.1L185.3 165.8M86.7 173.6L172.4 136.7M94.6 132.6L194.1 161.4M98.4 177.7L183.5 139.6M103.7 129.3L202.6 157.1M110.4 181.9L194.9 142.7M112.5 126.1L210.7 153M122.9 186.2L206.6 145.8" fill="none" stroke="#fff" stroke-opacity=".35" stroke-width=".4"/>
</g>
<g class="s"><path color="#f70000" d="M111.2 35.8l9.2-16.2 10.7 16-10.7-14.5z"/><path color="#ff0000" d="M111.2 35.8l9.2-14.7 10.7 14.5-10.6-13z"/><path color="#ff0000" d="M111.2 35.8l9.3-13.2 10.6 13-10.5-11.6z"/><path color="#ff0000" d="M111.2 35.8l9.4-11.8 10.5 11.6-10.5-10.1z"/><path color="#ff0000" d="M111.2 35.8l9.4-10.3 10.5 10.1-10.4-8.6z"/><path color="#ff0000" d="M111.2 35.8l9.5-8.8 10.4 8.6-10.3-7.1z"/><path color="#ff0000" d="M111.2 35.8l9.6-7.3 10.3 7.1-10.2-5.6z"/><path color="#ff0000" d="M111.2 35.8l9.7-5.8 10.2 5.6-10.2-4.1z"/><path color="#ff0000" d="M111.2 35.8l9.7-4.3 10.2 4.1-10.1-2.6z"/><path color="#ff0000" d="M111.2 35.8l9.8-2.8 10.1 2.6-10-1.1z"/><path color="#ff0000" d="M131.1 35.6l8.9 11.7-8.9-11.4z"/><path color="#ff0000" d="M131.1 35.9l8.9 11.4-9-9.9z"/><path color="#ff0000" d="M103.5 47.9l7.7-12.1 9.9-1.3 10 1.1 0 .3-10 .1-9.9 .1z"/><path color="#ff0000" d="M131 37.4l9 9.9-9-8.4z"/><path color="#ff0000" d="M103.5 47.9l7.7-11.8 9.9-.1 10-.1-.1 1.5-9.8 .1-9.8 .1z"/><path color="#ff0000" d="M131 38.9l9 8.4-9-6.9z"/><path color="#ff0000" d="M103.5 47.9l7.9-10.3 9.8-.1 9.8-.1 0 1.5-9.7 .1-9.7 .2z"/><path color="#ff0000" d="M131 40.4l9 6.9-9.1-5.4z"/><path color="#ff0000" d="M130.9 41.9l9.1 5.4-9.1-3.9z"/><path color="#ff0000" d="M103.5 47.9l8.1-8.7 9.7-.2 9.7-.1 0 1.5-9.6 .1-9.6 .2z"/><path color="#ff0500" d="M130.9 43.4l9.1 3.9-9.2-2.3z"/><path color="#ff0000" d="M103.5 47.9l8.3-7.2 9.6-.2 9.6-.1-.1 1.5-9.5 .1-9.5 .2z"/><path color="#ff2800" d="M130.8 45l9.2 2.3-9.2-.8z"/><path color="#ff0000" d="M103.5 47.9l8.4-5.7 9.5-.2 9.5-.1 0 1.5-9.4 .1-9.4 .2z"/><path color="#ff0500" d="M103.5 47.9l8.6-4.2 9.4-.2 9.4-.1-.1 1.6-9.2 0-9.3 .2z"/><path color="#ff2800" d="M103.5 47.9l8.8-2.7 9.3-.2 9.2 0 0 1.5-9.2 .1-9.1 .2z"/><path color="#ff4300" d="M121.6 46.6l9.2-.1 9.2 .8 7.7 8.7-7.8-8-9.2 0-9 .1z"/><path color="#ff5d00" d="M121.7 48.1l9-.1 9.2 0 7.8 8-8-6.4-9-.1-8.9 .1z"/><path color="#ff7600" d="M121.8 49.6l8.9-.1 9 .1 8 6.4-8.2-4.9-8.8 0-8.8 .1z"/><path color="#ff9000" d="M121.9 51.2l8.8-.1 8.8 0 8.2 4.9-8.3-3.3-8.8-.1-8.7 .1z"/><path color="#ffaa00" d="M121.9 52.7l8.7-.1 8.8 .1 8.3 3.3-8.5-1.8-8.6 0-8.6 .1z"/><path color="#ff4300" d="M96.7 56.8l6.8-8.9 9-1.1 9.1-.2 .1 1.5-9 .2-9.1 .3z"/><path color="#ffc400" d="M113.5 54.4l8.5-.1 8.6-.1 8.6 0-.2 1.6-8.5-.1-8.4 .1-8.4 .2z"/><path color="#ff5d00" d="M96.7 56.8l6.9-8.2 9.1-.3 9-.2 .1 1.5-8.9 .2-9 .3z"/><path color="#ff7600" d="M96.7 56.8l7.2-6.7 9-.3 8.9-.2 .1 1.6-8.8 .2-8.8 .3z"/><path color="#ffdb00" d="M113.7 56l8.4-.2 8.4-.1 8.5 .1-.2 1.5-8.3 0-8.3 .1-8.3 .2z"/><path color="#ffc400" d="M139.2 54.2l8.5 1.8 7 6.2-7-6.2-8.7-.2z"/><path color="#ff9000" d="M96.7 56.8l7.6-5.1 8.8-.3 8.8-.2 0 1.5-8.6 .2-8.7 .3z"/><path color="#ffdb00" d="M139 55.8l8.7 .2 7 6.2-7.3-4.7-8.6-.2z"/><path color="#fff100" d="M113.9 57.6l8.3-.2 8.3-.1 8.3 0-.1 1.6-8.3-.1-8.1 .1-8.2 .2z"/><path color="#ffaa00" d="M96.7 56.8l7.9-3.6 8.7-.3 8.6-.2 .1 1.6-8.5 .1-8.6 .4z"/><path color="#fff100" d="M138.8 57.3l8.6 .2 7.3 4.7-7.7-3.1-8.3-.2z"/><path color="#ffff00" d="M114.1 59.1l8.2-.2 8.1-.1 8.3 .1-.2 1.6-8.1-.1-8.1 .1-8 .2z"/><path color="#ffff00" d="M138.7 58.9l8.3 .2 7.7 3.1-8-1.5-8.2-.2z"/><path color="#ffff00" d="M130.4 60.4l8.1 .1 8.2 .2 8 1.5-.2 .5-8.1-.4-8.1-.3-8 0z"/><path color="#ffff00" d="M106.3 61l8-.3 8-.2 8.1-.1-.1 1.6-7.9 .1-7.9 .2-7.9 .3z"/><path color="#ffff00" d="M130.3 62l8 0 8.1 .3 8.1 .4-.4 1.6-8-.5-8-.2-7.8 0z"/><path color="#dbff00" d="M122.5 63.6l7.8 0 7.8 0 8 .2-.3 1.6-7.9-.2-7.7-.1-7.6 .1z"/><path color="#ffff00" d="M106.6 62.6l7.9-.3 7.9-.2 7.9-.1 0 1.6-7.8 0-7.7 .2-7.8 .4z"/><path color="#8cff00" d="M122.6 65.2l7.6-.1 7.7 .1 7.9 .2-.4 1.6-7.6-.2-7.6-.1-7.5 .1z"/><path color="#ffc400" d="M90.5 63.3l6.2-6.5 8.2-2 8.6-.4 .2 1.6-8.4 .3-8.6 .5z"/><path color="#ffdb00" d="M90.5 63.3l6.2-6.5 8.6-.5 8.4-.3 .2 1.6-8.3 .3-8.4 .5z"/><path color="#32ff00" d="M122.7 66.8l7.5-.1 7.6 .1 7.6 .2-.3 1.6-7.5-.2-7.5-.1-7.3 .1z"/><path color="#fff100" d="M90.5 63.3l6.7-4.9 8.4-.5 8.3-.3 .2 1.5-8.2 .4-8.2 .4z"/><path color="#00ff00" d="M122.8 68.4l7.3-.1 7.5 .1 7.5 .2-.4 1.6-7.3-.2-7.3-.1-7.3 .1z"/><path color="#ffff00" d="M90.5 63.3l7.2-3.4 8.2-.4 8.2-.4 .2 1.6-8 .3-8.1 .5z"/><path color="#ffff00" d="M154.7 62.2l6.6 4.1-6.8-3.6z"/><path color="#dbff00" d="M99.1 64.7l7.9-.5 7.8-.4 7.7-.2 .1 1.6-7.6 .2-7.7 .4-7.7 .5z"/><path color="#ffff00" d="M154.5 62.7l6.8 3.6-7.2-2z"/><path color="#00ff00" d="M122.8 70l7.3-.1 7.3 .1 7.3 .2-.3 1.6-7.2-.2-7.2-.1-7.1 .1z"/><path color="#8cff00" d="M99.6 66.3l7.7-.5 7.7-.4 7.6-.2 .1 1.6-7.5 .2-7.5 .3-7.5 .6z"/><path color="#00ff00" d="M122.9 71.6l7.1-.1 7.2 .1 7.2 .2-.4 1.7-7-.3-7 0-7 0z"/><path color="#dbff00" d="M146.1 63.8l8 .5 7.2 2 6.6 2.1-6.7-1.8-7.6-.7-7.8-.5z"/><path color="#32ff00" d="M100.2 67.9l7.5-.6 7.5-.3 7.5-.2 .1 1.6-7.4 .2-7.4 .3-7.3 .5z"/><path color="#00ff00" d="M123 73.2l7 0 7 0 7 .3-.3 1.6-6.9-.2-6.9-.1-6.8 0z"/><path color="#00ff00" d="M100.7 69.4l7.3-.5 7.4-.3 7.4-.2 0 1.6-7.2 .2-7.2 .3-7.2 .6z"/><path color="#8cff00" d="M145.8 65.4l7.8 .5 7.6 .7 6.7 1.8-.4 .8-6.9-1-7.5-.7-7.7-.5z"/><path color="#00ff00" d="M101.2 71.1l7.2-.6 7.2-.3 7.2-.2 .1 1.6-7 .2-7.1 .4-7.1 .5z"/><path color="#00ff00" d="M123.1 74.8l6.8 0 6.9 .1 6.9 .2-.4 1.6-6.7-.2-6.7-.1-6.7 .1z"/><path color="#32ff00" d="M145.4 67l7.7 .5 7.5 .7 6.9 1-.8 1.6-6.8-1-7.3-.7-7.5-.5z"/><path color="#ffff00" d="M84.6 67.7l5.9-4.4 7.7-1.8 8.1-.5 .3 1.6-8 .5-7.9 .7z"/><path color="#00ff00" d="M101.7 72.7l7.1-.5 7.1-.4 7-.2 .1 1.6-6.9 .2-6.9 .4-7 .5z"/><path color="#00ff00" d="M123.2 76.5l6.7-.1 6.7 .1 6.7 .2-.3 1.7-6.6-.3-6.6-.1-6.5 .1z"/><path color="#ffff00" d="M84.6 67.7l6.1-3.9 7.9-.7 8-.5 .4 1.6-7.9 .5-7.7 .7z"/><path color="#00ff00" d="M145.1 68.6l7.5 .5 7.3 .7 6.8 1-.8 1.6-6.6-1-7.2-.7-7.4-.5z"/><path color="#00ff00" d="M102.2 74.3l7-.5 6.9-.4 6.9-.2 .1 1.6-6.8 .2-6.8 .4-6.7 .5z"/><path color="#00ff00" d="M123.3 78.1l6.5-.1 6.6 .1 6.6 .3-.4 1.6-6.4-.2-6.4-.1-6.4 .1z"/><path color="#00ff00" d="M144.7 70.2l7.4 .5 7.2 .7 6.6 1-.8 1.6-6.5-1-7-.7-7.2-.5z"/><path color="#00ff00" d="M102.8 75.9l6.7-.5 6.8-.4 6.8-.2 .1 1.7-6.6 .2-6.7 .3-6.6 .5z"/><path color="#00ff32" d="M123.4 79.8l6.4-.1 6.4 .1 6.4 .2-.4 1.7-6.3-.3-6.2 0-6.2 0z"/><path color="#00ff00" d="M144.4 71.8l7.2 .5 7 .7 6.5 1-.9 1.6-6.3-1-6.8-.7-7.1-.4z"/><path color="#00ff00" d="M103.3 77.5l6.6-.5 6.7-.3 6.6-.2 .1 1.6-6.5 .2-6.5 .4-6.4 .5z"/><path color="#00ffa9" d="M123.5 81.4l6.2 0 6.2 0 6.3 .3-.4 1.6-6.1-.2-6.1-.1-6 .1z"/><path color="#00ff00" d="M144 73.5l7.1 .4 6.8 .7 6.3 1-.8 1.6-6.2-1-6.6-.7-6.9-.4z"/><path color="#00ff00" d="M103.9 79.2l6.4-.5 6.5-.4 6.5-.2 .1 1.7-6.3 .2-6.4 .3-6.3 .5z"/><path color="#00ff00" d="M143.7 75.1l6.9 .4 6.6 .7 6.2 1-.8 1.6-6-.9-6.6-.7-6.7-.5z"/><path color="#00ffe3" d="M123.6 83.1l6-.1 6.1 .1 6.1 .2-.4 1.7-5.9-.2-5.9-.1-5.9 .1z"/><path color="#00ff32" d="M104.4 80.8l6.3-.5 6.4-.3 6.3-.2 .1 1.6-6.2 .2-6.2 .4-6.1 .5z"/><path color="#00ff00" d="M143.3 76.7l6.7 .5 6.6 .7 6 .9-.9 1.7-5.8-1-6.4-.7-6.5-.4z"/><path color="#00efff" d="M123.7 84.8l5.9-.1 5.9 .1 5.9 .2-.4 1.7-5.7-.2-5.8-.1-5.7 0z"/><path color="#00ffa9" d="M105 82.5l6.1-.5 6.2-.4 6.2-.2 .1 1.7-6 .2-6 .3-6 .5z"/><path color="#dbff00" d="M78.7 70.1l5.9-2.4 6.8-2.3 7.7-.7 .5 1.6-7.6 .7-7.2 1z"/><path color="#00ff00" d="M143 78.4l6.5 .4 6.4 .7 5.8 1-.9 1.6-5.7-1-6.1-.6-6.4-.5z"/><path color="#00cfff" d="M123.8 86.4l5.7 0 5.8 .1 5.7 .2-.4 1.7-5.6-.2-5.6-.1-5.5 0z"/><path color="#00ffe3" d="M105.6 84.1l6-.5 6-.3 6-.2 .1 1.7-5.9 .2-5.8 .3-5.8 .5z"/><path color="#00ff32" d="M142.6 80l6.4 .5 6.1 .6 5.7 1-.8 1.6-5.6-.9-6-.7-6.2-.4z"/><path color="#00efff" d="M106.2 85.8l5.8-.5 5.8-.3 5.9-.2 .1 1.6-5.7 .2-5.7 .4-5.6 .5z"/><path color="#00afff" d="M123.9 88.1l5.5 0 5.6 .1 5.6 .2-.4 1.7-5.4-.2-5.4-.1-5.4 .1z"/><path color="#8cff00" d="M78.7 70.1l6.1-2.1 7.2-1 7.6-.7 .6 1.6-7.5 .7-7.1 1-6.4 1.3z"/><path color="#00ffa9" d="M142.2 81.7l6.2 .4 6 .7 5.6 .9-.9 1.7-5.4-.9-5.8-.7-6.1-.5z"/><path color="#32ff00" d="M79.2 70.9l6.4-1.3 7.1-1 7.5-.7 .5 1.5-7.3 .8-7 1-6.2 1.3z"/><path color="#00cfff" d="M106.8 87.5l5.6-.5 5.7-.4 5.7-.2 .1 1.7-5.5 .2-5.5 .4-5.5 .5z"/><path color="#0090ff" d="M124 89.9l5.4-.1 5.4 .1 5.4 .2-.4 1.8-5.3-.3-5.2-.1-5.2 .1z"/><path color="#00ffe3" d="M141.8 83.3l6.1 .5 5.8 .7 5.4 .9-.9 1.6-5.2-.9-5.7-.6-5.9-.5z"/><path color="#00ff00" d="M80.2 72.5l6.2-1.3 7-1 7.3-.8 .5 1.7-7.2 .7-6.7 1-6.1 1.2z"/><path color="#00ff00" d="M81.2 74l6.1-1.2 6.7-1 7.2-.7 .5 1.6-7 .7-6.6 1-5.9 1.2z"/><path color="#00afff" d="M107.4 89.2l5.5-.5 5.5-.4 5.5-.2 .1 1.8-5.4 .1-5.3 .4-5.2 .5z"/><path color="#00efff" d="M141.4 85l5.9 .5 5.7 .6 5.2 .9-1 1.7-5-.9-5.5-.6-5.7-.5z"/><path color="#0072ff" d="M124.1 91.6l5.2-.1 5.2 .1 5.3 .3-.5 1.7-5-.2-5.1-.1-5 0z"/><path color="#00ff00" d="M82.2 75.6l5.9-1.2 6.6-1 7-.7 .5 1.6-6.8 .7-6.4 1-5.8 1.2z"/><path color="#0090ff" d="M108.1 90.9l5.2-.5 5.3-.4 5.4-.1 .1 1.7-5.2 .2-5.1 .3-5.1 .5z"/><path color="#00cfff" d="M141 86.7l5.7 .5 5.5 .6 5 .9-.9 1.7-4.9-.9-5.3-.6-5.5-.5z"/><path color="#00ff00" d="M83.2 77.2l5.8-1.2 6.4-1 6.8-.7 .6 1.6-6.7 .7-6.3 1-5.6 1.2z"/><path color="#0056ff" d="M124.2 93.3l5 0 5.1 .1 5 .2-.4 1.8-4.9-.3-4.8-.1-4.9 .1z"/><path color="#00ff00" d="M84.2 78.8l5.6-1.2 6.3-1 6.7-.7 .5 1.6-6.5 .7-6.1 1-5.5 1.2z"/><path color="#0072ff" d="M108.7 92.6l5.1-.5 5.1-.3 5.2-.2 .1 1.7-5 .2-5 .3-4.8 .5z"/><path color="#00afff" d="M140.6 88.4l5.5 .5 5.3 .6 4.9 .9-1 1.7-4.7-.9-5.1-.6-5.3-.5z"/><path color="#00ff00" d="M85.2 80.4l5.5-1.2 6.1-1 6.5-.7 .6 1.7-6.3 .7-6 .9-5.4 1.2z"/><path color="#0039ff" d="M124.3 95.1l4.9-.1 4.8 .1 4.9 .3-.5 1.7-4.6-.2-4.7-.1-4.6 .1z"/><path color="#0090ff" d="M140.2 90.1l5.3 .5 5.1 .6 4.7 .9-.9 1.6-4.6-.8-4.9-.6-5.1-.4z"/><path color="#0056ff" d="M109.4 94.3l4.8-.5 5-.3 5-.2 .1 1.8-4.8 .2-4.8 .3-4.6 .4z"/><path color="#00ff00" d="M86.2 82l5.4-1.2 6-.9 6.3-.7 .5 1.6-6.1 .7-5.8 .9-5.2 1.2z"/><path color="#00ff32" d="M87.3 83.6l5.2-1.2 5.8-.9 6.1-.7 .6 1.7-6 .7-5.6 .9-5.1 1.2z"/><path color="#001dff" d="M124.5 96.9l4.6-.1 4.7 .1 4.6 .2-.5 1.8-4.4-.2-4.5-.1-4.4 .1z"/><path color="#0072ff" d="M139.8 91.9l5.1 .4 4.9 .6 4.6 .8-1 1.8-4.4-.9-4.7-.6-5-.4z"/><path color="#0039ff" d="M110.1 96l4.6-.4 4.8-.3 4.8-.2 .2 1.8-4.7 .1-4.5 .3-4.5 .5z"/><path color="#00ffa9" d="M88.3 85.3l5.1-1.2 5.6-.9 6-.7 .6 1.6-5.8 .7-5.5 .9-4.9 1.2z"/><path color="#0056ff" d="M139.3 93.6l5 .4 4.7 .6 4.4 .9-1.1 1.7-4.2-.8-4.5-.6-4.7-.4z"/><path color="#0001ff" d="M124.6 98.7l4.4-.1 4.5 .1 4.4 .2-.5 1.9-4.2-.3-4.3-.1-4.2 .1z"/><path color="#00ffe3" d="M89.4 86.9l4.9-1.2 5.5-.9 5.8-.7 .6 1.7-5.6 .7-5.3 .9-4.8 1.1z"/><path color="#001dff" d="M110.8 97.8l4.5-.5 4.5-.3 4.7-.1 .1 1.8-4.4 .1-4.4 .3-4.3 .5z"/><path color="#00efff" d="M90.5 88.5l4.8-1.1 5.3-.9 5.6-.7 .6 1.7-5.4 .6-5.2 .9-4.6 1.2z"/><path color="#8cff00" d="M167.9 68.4l6.5 .6 4.9 1.6 3.9 1.8-1 1.5-3.9-1.7-4.8-1.6-6-1.4z"/><path color="#0039ff" d="M138.9 95.4l4.7 .4 4.5 .6 4.2 .8-1 1.7-4-.8-4.4-.6-4.5-.4z"/><path color="#32ff00" d="M167.5 69.2l6 1.4 4.8 1.6 3.9 1.7-1.1 1.6-3.8-1.8-4.8-1.6-5.8-1.3z"/><path color="#1e00fb" d="M124.7 100.5l4.2-.1 4.3 .1 4.2 .3-.5 1.8-4-.2-4-.1-4.1 0z"/><path color="#0001ff" d="M111.5 99.6l4.3-.5 4.4-.3 4.4-.1 .1 1.8-4.2 .2-4.2 .2-4 .5z"/><path color="#00cfff" d="M91.6 90.2l4.6-1.2 5.2-.9 5.4-.6 .6 1.7-5.2 .6-5 .9-4.4 1.1z"/><path color="#00ff00" d="M166.7 70.8l5.8 1.3 4.8 1.6 3.8 1.8-1.1 1.5-3.7-1.7-4.7-1.6-5.7-1.3z"/><path color="#dbff00" d="M167.9 68.4l6.7 .3 5.7 .4 4 1.8-1.1 1.5-3.9-1.8-4.9-1.6z"/><path color="#001dff" d="M138.4 97.1l4.5 .4 4.4 .6 4 .8-1.1 1.7-3.8-.7-4.2-.6-4.3-.4z"/><path color="#00ff00" d="M165.9 72.4l5.7 1.3 4.7 1.6 3.7 1.7-1.1 1.6-3.6-1.7-4.6-1.6-5.6-1.3z"/><path color="#00afff" d="M92.8 91.8l4.4-1.1 5-.9 5.2-.6 .7 1.7-5.1 .6-4.8 .9-4.3 1z"/><path color="#00ff00" d="M165.1 74l5.6 1.3 4.6 1.6 3.6 1.7-1.1 1.5-3.6-1.7-4.5-1.5-5.5-1.3z"/><path color="#1e00fb" d="M112.3 101.4l4-.5 4.2-.2 4.2-.2 .1 1.8-4 .2-3.9 .3-3.8 .4z"/><path color="#3d00f7" d="M124.8 102.3l4.1 0 4 .1 4 .2-.6 1.9-3.7-.2-3.8-.1-3.8 0z"/><path color="#0090ff" d="M93.9 93.4l4.3-1 4.8-.9 5.1-.6 .6 1.7-4.9 .6-4.6 .9-4.1 1z"/><path color="#00ff00" d="M164.2 75.6l5.5 1.3 4.5 1.5 3.6 1.7-1.1 1.5-3.5-1.6-4.4-1.5-5.4-1.3z"/><path color="#0001ff" d="M137.9 98.9l4.3 .4 4.2 .6 3.8 .7-1.2 1.8-3.6-.7-3.9-.5-4.1-.4z"/><path color="#00ff00" d="M163.4 77.2l5.4 1.3 4.4 1.5 3.5 1.6-1.1 1.6-3.5-1.6-4.3-1.5-5.2-1.3z"/><path color="#0072ff" d="M95.1 95.1l4.1-1 4.6-.9 4.9-.6 .7 1.7-4.7 .6-4.4 .9-4 1z"/><path color="#00ff00" d="M162.6 78.8l5.2 1.3 4.3 1.5 3.5 1.6-1.2 1.6-3.3-1.6-4.3-1.5-5.1-1.2z"/><path color="#3d00f7" d="M113.1 103.2l3.8-.4 3.9-.3 4-.2 .2 1.9-3.8 .2-3.7 .2-3.6 .4z"/><path color="#5d00f3" d="M125 104.2l3.8 0 3.8 .1 3.7 .2-.6 1.9-3.5-.2-3.5-.1-3.6 0z"/><path color="#1e00fb" d="M137.4 100.8l4.1 .4 3.9 .5 3.6 .7-1.1 1.8-3.5-.7-3.7-.5-3.8-.4z"/><path color="#00ff00" d="M161.7 80.5l5.1 1.2 4.3 1.5 3.3 1.6-1.1 1.5-3.3-1.6-4.2-1.4-5-1.2z"/><path color="#0056ff" d="M96.3 96.8l4-1 4.4-.9 4.7-.6 .7 1.7-4.5 .7-4.3 .8-3.7 1z"/><path color="#00ff32" d="M160.8 82.1l5 1.2 4.2 1.4 3.3 1.6-1.2 1.6-3.3-1.6-4-1.4-4.8-1.2z"/><path color="#5d00f3" d="M113.9 105l3.6-.4 3.7-.2 3.8-.2 .1 1.9-3.5 .2-3.4 .3-3.4 .3z"/><path color="#00ffa9" d="M160 83.7l4.8 1.2 4 1.4 3.3 1.6-1.2 1.5-3.2-1.5-3.9-1.3-4.7-1.2z"/><path color="#0039ff" d="M97.6 98.5l3.7-1 4.3-.8 4.5-.7 .7 1.8-4.3 .6-4.1 .8-3.6 .9z"/><path color="#3d00f7" d="M136.9 102.6l3.8 .4 3.7 .5 3.5 .7-1.3 1.8-3.2-.6-3.5-.5-3.6-.4z"/><path color="#7a00ee" d="M125.1 106.1l3.6 0 3.5 .1 3.5 .2-.6 2-3.3-.2-3.2-.1-3.3 0z"/><path color="#00ffe3" d="M159.1 85.4l4.7 1.2 3.9 1.3 3.2 1.5-1.3 1.6-3-1.5-3.8-1.3-4.6-1.2z"/><path color="#001dff" d="M98.8 100.1l3.6-.9 4.1-.8 4.3-.6 .7 1.8-4.1 .6-3.8 .7-3.5 1z"/><path color="#00efff" d="M158.2 87l4.6 1.2 3.8 1.3 3 1.5-1.2 1.6-3-1.5-3.7-1.3-4.5-1.1z"/><path color="#7a00ee" d="M114.8 106.9l3.4-.3 3.4-.3 3.5-.2 .2 2-3.3 .1-3.2 .3-3.1 .4z"/><path color="#5d00f3" d="M136.3 104.5l3.6 .4 3.5 .5 3.2 .6-1.3 1.8-3-.6-3.2-.4-3.4-.4z"/><path color="#00cfff" d="M157.2 88.7l4.5 1.1 3.7 1.3 3 1.5-1.3 1.6-2.9-1.5-3.6-1.2-4.3-1.1z"/><path color="#0001ff" d="M100.1 101.9l3.5-1 3.8-.7 4.1-.6 .8 1.8-3.9 .5-3.6 .8-3.3 .9z"/><path color="#00afff" d="M156.3 90.4l4.3 1.1 3.6 1.2 2.9 1.5-1.3 1.5-2.8-1.3-3.5-1.3-4.2-1z"/><path color="#8600e2" d="M125.3 108.1l3.3 0 3.2 .1 3.3 .2-.7 2-3-.2-2.9-.1-3 0z"/><path color="#0090ff" d="M155.3 92.1l4.2 1 3.5 1.3 2.8 1.3-1.3 1.6-2.7-1.3-3.4-1.2-4-1.1z"/><path color="#1e00fb" d="M101.5 103.6l3.3-.9 3.6-.8 3.9-.5 .8 1.8-3.7 .6-3.4 .7-3.1 .8z"/><path color="#7a00ee" d="M135.7 106.4l3.4 .4 3.2 .4 3 .6-1.4 1.9-2.7-.6-3-.4-3.1-.3z"/><path color="#8600e2" d="M115.7 108.9l3.1-.4 3.2-.3 3.3-.1 .2 2-3 .2-2.9 .2-2.8 .3z"/><path color="#0072ff" d="M154.4 93.7l4 1.1 3.4 1.2 2.7 1.3-1.4 1.6-2.6-1.3-3.3-1.1-3.8-1z"/><path color="#ffff00" d="M174.6 68.7l7-1.7 4.8 .8 3.1 1.9-1.1 1.5-3.1-1.9-4-1.8z"/><path color="#ffff00" d="M174.6 68.7l6.7-1.2 4 1.8 3.1 1.9-1 1.6-3.1-1.9-4-1.8z"/><path color="#3d00f7" d="M102.9 105.3l3.1-.8 3.4-.7 3.7-.6 .8 1.8-3.4 .6-3.2 .7-2.9 .8z"/><path color="#0056ff" d="M153.4 95.5l3.8 1 3.3 1.1 2.6 1.3-1.4 1.6-2.5-1.2-3.2-1.2-3.7-.9z"/><path color="#9300d5" d="M125.5 110.1l3 0 2.9 .1 3 .2-.8 2.1-2.6-.2-2.7-.1-2.6 0z"/><path color="#8600e2" d="M135.1 108.4l3.1 .3 3 .4 2.7 .6-1.5 1.9-2.5-.5-2.7-.4-2.8-.3z"/><path color="#0039ff" d="M152.3 97.2l3.7 .9 3.2 1.2 2.5 1.2-1.4 1.6-2.5-1.2-3-1.1-3.5-.9z"/><path color="#5d00f3" d="M104.4 107.1l2.9-.8 3.2-.7 3.4-.6 .9 1.9-3.2 .5-3 .7-2.6 .7z"/><path color="#9300d5" d="M116.8 110.8l2.8-.3 2.9-.2 3-.2 .2 2.1-2.7 .2-2.6 .2-2.5 .3z"/><path color="#001dff" d="M151.3 98.9l3.5 .9 3 1.1 2.5 1.2-1.5 1.7-2.4-1.2-2.8-1-3.4-1z"/><path color="#0001ff" d="M150.2 100.6l3.4 1 2.8 1 2.4 1.2-1.6 1.6-2.2-1.1-2.8-1-3.2-.9z"/><path color="#7a00ee" d="M106 108.8l2.6-.7 3-.7 3.2-.5 .9 2-2.9 .4-2.7 .6-2.5 .7z"/><path color="#a000c8" d="M125.7 112.2l2.6 0 2.7 .1 2.6 .2-.8 2.2-2.3-.2-2.3-.1-2.3 .1z"/><path color="#9300d5" d="M134.4 110.4l2.8 .3 2.7 .4 2.5 .5-1.6 2-2.2-.5-2.4-.4-2.6-.2z"/><path color="#8cff00" d="M66 74.7l2.9-2 4-1.8 5.8-.8 .5 .8-5.2 1.6-4 1.8-2.8 1.9z"/><path color="#32ff00" d="M67.2 76.2l2.8-1.9 4-1.8 5.2-1.6 1 1.6-5.1 1.5-3.9 1.8-2.8 1.9z"/><path color="#1e00fb" d="M149 102.4l3.2 .9 2.8 1 2.2 1.1-1.6 1.6-2.1-1-2.6-1-3-.8z"/><path color="#00ff00" d="M68.4 77.7l2.8-1.9 3.9-1.8 5.1-1.5 1 1.5-5 1.6-3.9 1.8-2.7 1.8z"/><path color="#a000c8" d="M117.9 112.9l2.5-.3 2.6-.2 2.7-.2 .2 2.3-2.3 .1-2.3 .1-2.2 .3z"/><path color="#00ff00" d="M69.6 79.2l2.7-1.8 3.9-1.8 5-1.6 1 1.6-4.9 1.6-3.8 1.7-2.6 1.9z"/><path color="#ffff00" d="M66.3 69.1l6.4 1.5-6.1-1z"/><path color="#00ff00" d="M70.9 80.8l2.6-1.9 3.8-1.7 4.9-1.6 1 1.6-4.8 1.5-3.7 1.8-2.6 1.8z"/><path color="#ffff00" d="M66.6 69.6l6.1 1-4.9 .6z"/><path color="#8600e2" d="M107.6 110.6l2.5-.7 2.7-.6 2.9-.4 1.1 1.9-2.7 .5-2.5 .5-2.2 .7z"/><path color="#3d00f7" d="M147.9 104.2l3 .8 2.6 1 2.1 1-1.7 1.7-2-1-2.4-.9-2.9-.8z"/><path color="#00ff00" d="M72.1 82.3l2.6-1.8 3.7-1.8 4.8-1.5 1 1.6-4.7 1.5-3.6 1.7-2.6 1.8z"/><path color="#00ff00" d="M73.3 83.8l2.6-1.8 3.6-1.7 4.7-1.5 1 1.6-4.6 1.5-3.5 1.7-2.5 1.7z"/><path color="#00ff00" d="M74.6 85.3l2.5-1.7 3.5-1.7 4.6-1.5 1 1.6-4.4 1.5-3.4 1.6-2.5 1.8z"/><path color="#dbff00" d="M64.9 73.2l2.9-2 4.9-.6 6-.5-5.8 .8-4 1.8-2.9 2z"/><path color="#a000c8" d="M133.6 112.5l2.6 .2 2.4 .4 2.2 .5-1.8 2.1-2-.5-2-.3-2.2-.2z"/><path color="#00ff00" d="M75.9 86.9l2.5-1.8 3.4-1.6 4.4-1.5 1.1 1.6-4.3 1.5-3.4 1.6-2.4 1.7z"/><path color="#5d00f3" d="M146.6 106l2.9 .8 2.4 .9 2 1-1.8 1.7-1.9-1-2.2-.8-2.7-.8z"/><path color="#00ff32" d="M77.2 88.4l2.4-1.7 3.4-1.6 4.3-1.5 1 1.7-4.2 1.4-3.2 1.5-2.4 1.7z"/><path color="#00ffa9" d="M78.5 89.9l2.4-1.7 3.2-1.5 4.2-1.4 1.1 1.6-4.1 1.4-3.2 1.5-2.3 1.7z"/><path color="#9300d5" d="M109.4 112.5l2.2-.7 2.5-.5 2.7-.5 1.1 2.1-2.4 .4-2.2 .5-2 .6z"/><path color="#9700b2" d="M125.9 114.5l2.3-.1 2.3 .1 2.3 .2-1 2.3-1.9-.1-1.9-.1-1.9 0z"/><path color="#00ffe3" d="M79.8 91.5l2.3-1.7 3.2-1.5 4.1-1.4 1.1 1.6-3.9 1.4-3.2 1.5-2.2 1.6z"/><path color="#00efff" d="M81.2 93l2.2-1.6 3.2-1.5 3.9-1.4 1.1 1.7-3.8 1.3-3 1.5-2.2 1.5z"/><path color="#7a00ee" d="M145.3 107.8l2.7 .8 2.2 .8 1.9 1-1.9 1.7-1.7-.9-2.1-.8-2.5-.7z"/><path color="#9700b2" d="M119.1 115l2.2-.3 2.3-.1 2.3-.1 .2 2.3-1.9 .1-1.8 .2-1.8 .2z"/><path color="#00cfff" d="M82.6 94.5l2.2-1.5 3-1.5 3.8-1.3 1.2 1.6-3.8 1.3-2.9 1.4-2.1 1.6z"/><path color="#00afff" d="M84 96.1l2.1-1.6 2.9-1.4 3.8-1.3 1.1 1.6-3.6 1.3-2.8 1.4-2.1 1.5z"/><path color="#0090ff" d="M85.4 97.6l2.1-1.5 2.8-1.4 3.6-1.3 1.2 1.7-3.5 1.2-2.7 1.4-2 1.5z"/><path color="#8600e2" d="M143.9 109.7l2.5 .7 2.1 .8 1.7 .9-2 1.7-1.6-.8-1.9-.7-2.3-.7z"/><path color="#a000c8" d="M111.3 114.4l2-.6 2.2-.5 2.4-.4 1.2 2.1-2 .4-1.9 .4-1.7 .5z"/><path color="#0072ff" d="M86.9 99.2l2-1.5 2.7-1.4 3.5-1.2 1.2 1.7-3.3 1.2-2.7 1.3-1.9 1.4z"/><path color="#9700b2" d="M132.8 114.7l2.2 .2 2 .3 2 .5-2.2 2.1-1.6-.3-1.6-.3-1.8-.2z"/><path color="#0056ff" d="M88.4 100.7l1.9-1.4 2.7-1.3 3.3-1.2 1.3 1.7-3.2 1.1-2.6 1.3-1.9 1.4z"/><path color="#ffdb00" d="M181.6 67l7.8-3.8 3.3 2 2.6 2-1.1 1.5-2.5-2-3.3-1.9z"/><path color="#0039ff" d="M89.9 102.3l1.9-1.4 2.6-1.3 3.2-1.1 1.2 1.6-3 1.2-2.5 1.2-1.8 1.3z"/><path color="#fff100" d="M181.6 67l6.8-2.2 3.3 1.9 2.5 2-1.1 1.5-2.5-2-3.2-1.9z"/><path color="#ffff00" d="M181.6 67l5.8-.7 3.2 1.9 2.5 2-1.1 1.5-2.5-2-3.1-1.9z"/><path color="#ffc400" d="M181.6 67l7.8-3.8 4.4 .5 2.6 2-1.1 1.5-2.6-2-3.3-2z"/><path color="#9300d5" d="M142.4 111.6l2.3 .7 1.9 .7 1.6 .8-2.3 1.7-1.4-.7-1.7-.6-2-.6z"/><path color="#001dff" d="M91.5 103.8l1.8-1.3 2.5-1.2 3-1.2 1.3 1.8-2.9 1-2.3 1.2-1.7 1.3z"/><path color="#0001ff" d="M93.2 105.4l1.7-1.3 2.3-1.2 2.9-1 1.4 1.7-2.8 1-2.2 1.1-1.6 1.2z"/><path color="#8e009c" d="M126.1 116.8l1.9 0 1.9 .1 1.9 .1-1.3 2.7-1.3-.1-1.4-.1-1.3 0z"/><path color="#9700b2" d="M113.5 116.3l1.7-.5 1.9-.4 2-.4 1.5 2.3-1.6 .3-1.6 .4-1.3 .4z"/><path color="#1e00fb" d="M94.9 106.9l1.6-1.2 2.2-1.1 2.8-1 1.4 1.7-2.6 1-2.1 1.1-1.6 1.1z"/><path color="#8e009c" d="M120.6 117.3l1.8-.2 1.8-.2 1.9-.1 .4 2.7-1.4 .1-1.3 .1-1.2 .2z"/><path color="#a000c8" d="M140.8 113.6l2 .6 1.7 .6 1.4 .7-2.5 1.8-1.3-.6-1.4-.6-1.7-.4z"/><path color="#3d00f7" d="M96.6 108.5l1.6-1.1 2.1-1.1 2.6-1 1.5 1.8-2.4 .9-2 1-1.5 1.1z"/><path color="#8e009c" d="M131.8 117l1.8 .2 1.6 .3 1.6 .3-2.8 2.5-1.1-.3-1.2-.2-1.2-.1z"/><path color="#5d00f3" d="M98.5 110.1l1.5-1.1 2-1 2.4-.9 1.6 1.7-2.3 .9-1.9 1-1.3 1z"/><path color="#7a00ee" d="M100.5 111.7l1.3-1 1.9-1 2.3-.9 1.6 1.8-2.1 .8-1.7 .9-1.3 1z"/><path color="#9700b2" d="M139 115.7l1.7 .4 1.4 .6 1.3 .6-3 1.9-1-.5-1.2-.5-1.4-.4z"/><path color="#8600e2" d="M102.5 113.3l1.3-1 1.7-.9 2.1-.8 1.8 1.9-1.9 .7-1.6 .8-1.1 .9z"/><path color="#8e009c" d="M116.1 118.4l1.3-.4 1.6-.4 1.6-.3 2 2.6-1.2 .2-1.1 .3-.9 .3z"/><path color="#9300d5" d="M104.8 114.9l1.1-.9 1.6-.8 1.9-.7 1.9 1.9-1.7 .6-1.3 .8-1.1 .8z"/><path color="#a000c8" d="M107.2 116.6l1.1-.8 1.3-.8 1.7-.6 2.2 1.9-1.4 .6-1.2 .6-.9 .7z"/><path color="#8e009c" d="M136.8 117.8l1.4 .4 1.2 .5 1 .5-3.9 2-.7-.3-.8-.4-1-.2z"/><path color="#9700b2" d="M110 118.2l.9-.7 1.2-.6 1.4-.6 2.6 2.1-1.2 .5-1 .5-.7 .5z"/><path color="#00ffa9" d="M172.1 87.9l2.5 1.6 1.8 1.7 1.3 1.7-1.3 1.5-1.3-1.7-1.8-1.7-2.4-1.6z"/><path color="#00ff32" d="M173.3 86.3l2.5 1.7 1.9 1.7 1.4 1.8-1.4 1.4-1.3-1.7-1.8-1.7-2.5-1.6z"/><path color="#00ffe3" d="M170.9 89.4l2.4 1.6 1.8 1.7 1.3 1.7-1.4 1.5-1.2-1.7-1.8-1.6-2.4-1.6z"/><path color="#00ff00" d="M174.4 84.8l2.6 1.6 2 1.8 1.4 1.8-1.3 1.5-1.4-1.8-1.9-1.7-2.5-1.7z"/><path color="#00efff" d="M169.6 91l2.4 1.6 1.8 1.6 1.2 1.7-1.4 1.4-1.2-1.6-1.7-1.6-2.3-1.5z"/><path color="#00ff00" d="M175.6 83.2l2.6 1.7 2.1 1.8 1.4 1.8-1.3 1.5-1.4-1.8-2-1.8-2.6-1.6z"/><path color="#00cfff" d="M168.4 92.6l2.3 1.5 1.7 1.6 1.2 1.6-1.4 1.5-1.2-1.6-1.6-1.6-2.3-1.4z"/><path color="#00ff00" d="M176.7 81.6l2.7 1.8 2.1 1.8 1.5 1.8-1.3 1.5-1.4-1.8-2.1-1.8-2.6-1.7z"/><path color="#00afff" d="M167.1 94.2l2.3 1.4 1.6 1.6 1.2 1.6-1.5 1.5-1.1-1.6-1.6-1.5-2.2-1.5z"/><path color="#00ff00" d="M177.8 80.1l2.8 1.8 2.1 1.8 1.5 1.9-1.2 1.4-1.5-1.8-2.1-1.8-2.7-1.8z"/><path color="#00ff00" d="M178.9 78.6l2.9 1.7 2.1 1.9 1.6 1.9-1.3 1.5-1.5-1.9-2.1-1.8-2.8-1.8z"/><path color="#0090ff" d="M165.8 95.7l2.2 1.5 1.6 1.5 1.1 1.6-1.5 1.4-1-1.5-1.6-1.5-2.1-1.4z"/><path color="#00ff00" d="M180 77l2.9 1.8 2.2 1.9 1.6 1.9-1.2 1.5-1.6-1.9-2.1-1.9-2.9-1.7z"/><path color="#0072ff" d="M164.5 97.3l2.1 1.4 1.6 1.5 1 1.5-1.5 1.5-1-1.5-1.5-1.4-2.1-1.4z"/><path color="#00ff00" d="M181.1 75.5l2.9 1.8 2.3 1.9 1.6 1.9-1.2 1.5-1.6-1.9-2.2-1.9-2.9-1.8z"/><path color="#32ff00" d="M182.2 73.9l3 1.9 2.2 1.9 1.7 2-1.2 1.4-1.6-1.9-2.3-1.9-2.9-1.8z"/><path color="#0056ff" d="M163.1 98.9l2.1 1.4 1.5 1.4 1 1.5-1.6 1.5-1-1.5-1.4-1.3-2-1.4z"/><path color="#8cff00" d="M183.2 72.4l3.1 1.9 2.3 1.9 1.7 2-1.2 1.5-1.7-2-2.2-1.9-3-1.9z"/><path color="#0039ff" d="M161.7 100.5l2 1.4 1.4 1.3 1 1.5-1.6 1.4-.9-1.3-1.4-1.4-1.9-1.3z"/><path color="#dbff00" d="M184.3 70.9l3.1 1.9 2.3 1.9 1.8 2-1.2 1.5-1.7-2-2.3-1.9-3.1-1.9z"/><path color="#001dff" d="M160.3 102.1l1.9 1.3 1.4 1.4 .9 1.3-1.7 1.5-.9-1.3-1.3-1.3-1.8-1.2z"/><path color="#0001ff" d="M158.8 103.8l1.8 1.2 1.3 1.3 .9 1.3-1.8 1.5-.8-1.3-1.2-1.2-1.8-1.2z"/><path color="#1e00fb" d="M157.2 105.4l1.8 1.2 1.2 1.2 .8 1.3-1.8 1.4-.7-1.2-1.2-1.1-1.7-1.2z"/><path color="#3d00f7" d="M155.6 107l1.7 1.2 1.2 1.1 .7 1.2-1.9 1.5-.7-1.1-1.1-1.2-1.6-1z"/><path color="#5d00f3" d="M153.9 108.7l1.6 1 1.1 1.2 .7 1.1-2 1.5-.7-1.1-1-1-1.5-1z"/><path color="#7a00ee" d="M152.1 110.4l1.5 1 1 1 .7 1.1-2.2 1.5-.6-1-.9-1-1.4-.9z"/><path color="#8e009c" d="M113.2 119.9l.7-.5 1-.5 1.2-.5 3.3 2.3-.9 .3-.6 .4-.6 .4z"/><path color="#8600e2" d="M150.2 112.1l1.4 .9 .9 1 .6 1-2.3 1.4-.5-.9-.9-.9-1.2-.8z"/><path color="#850085" d="M126.5 119.5l1.3 0 1.4 .1 1.3 .1-3.2 4.5z"/><path color="#9300d5" d="M148.2 113.8l1.2 .8 .9 .9 .5 .9-2.5 1.5-.5-.8-.8-.8-1.1-.8z"/><path color="#850085" d="M122.6 119.9l1.2-.2 1.3-.1 1.4-.1 .8 4.7z"/><path color="#a000c8" d="M145.9 115.5l1.1 .8 .8 .8 .5 .8-2.9 1.5-.4-.7-.7-.7-.9-.7z"/><path color="#850085" d="M130.5 119.7l1.2 .1 1.2 .2 1.1 .3-6.7 3.9z"/><path color="#9700b2" d="M143.4 117.3l.9 .7 .7 .7 .4 .7-3.4 1.5-.3-.6-.5-.5-.8-.6z"/><path color="#ffaa00" d="M189.4 63.2l5.4-1 2.7 2 2 2.1-1.1 1.5-2-2.1-2.6-2z"/><path color="#850085" d="M119.4 120.7l.9-.3 1.1-.3 1.2-.2 4.7 4.3z"/><path color="#ff9000" d="M189.4 63.2l6.4-2.5 2.7 2 2.2 2.1-1.2 1.5-2-2.1-2.7-2z"/><path color="#ff7600" d="M189.4 63.2l7.4-4 2.8 2 2.2 2.1-1.1 1.5-2.2-2.1-2.7-2z"/><path color="#ffff00" d="M59.4 70.7l2-2.1 4.9 .5-3.8 1-1.9 2.1z"/><path color="#ff5d00" d="M189.4 63.2l8.5-5.6 2.8 2.1 2.2 2.1-1.1 1.5-2.2-2.1-2.8-2z"/><path color="#fff100" d="M58.2 69.2l2.1-2.1 6 2-4.9-.5-2 2.1z"/><path color="#ff4300" d="M189.4 63.2l9-6.3 3.3 1.3 2.3 2.2-1.1 1.4-2.2-2.1-2.8-2.1z"/><path color="#ffdb00" d="M57 67.7l2.1-2.1 7.2 3.5-6-2-2.1 2.1z"/><path color="#ffc400" d="M55.9 66.2l3.2-.7 7.2 3.6-7.2-3.5-2.1 2.1z"/><path color="#8e009c" d="M140.4 119.2l.8 .6 .5 .5 .3 .6-4.3 1.6-.2-.5-.4-.4-.6-.4z"/><path color="#850085" d="M134 120.3l1 .2 .8 .4 .7 .3-9.2 3z"/><path color="#850085" d="M117.3 121.8l.6-.4 .6-.4 .9-.3 7.9 3.5z"/><path color="#ffff00" d="M188.4 71.2l2.5 2 1.8 2-1.2 1.5-1.8-2-2.3-1.9z"/><path color="#ffff00" d="M189.5 69.7l2.5 2 1.8 2-1.1 1.5-1.8-2-2.5-2z"/><path color="#850085" d="M136.5 121.2l.6 .4 .4 .4 .2 .5-10.4 1.7z"/><path color="#ffff00" d="M60.5 75.8l1.2-2.1 2-2.1 2.9-2 1.2 1.6-2.9 2-2 2-1.1 2z"/><path color="#ffff00" d="M59.3 74.3l1.3-2.1 1.9-2.1 3.8-1 .3 .5-2.9 2-2 2.1-1.2 2.1z"/><path color="#8e009c" d="M112.4 121.7l0-.6 .3-.6 .5-.6 4.1 1.9-.3 .4-.2 .4 0 .4z"/><path color="#9700b2" d="M109 120.4l0-.7 .3-.8 .7-.7 3.2 1.7-.5 .6-.3 .6 0 .6z"/><path color="#a000c8" d="M106.1 119.1l0-.9 .4-.8 .7-.8 2.8 1.6-.7 .7-.3 .8 0 .7z"/><path color="#850085" d="M116.8 123l0-.4 .2-.4 .3-.4 10 2.4z"/><path color="#9300d5" d="M103.5 117.7l0-.9 .5-1 .8-.9 2.4 1.7-.7 .8-.4 .8 0 .9z"/><path color="#8600e2" d="M101.1 116.3l.1-1 .5-1 .8-1 2.3 1.6-.8 .9-.5 1 0 .9z"/><path color="#7a00ee" d="M98.9 115l.1-1.1 .5-1.1 1-1.1 2 1.6-.8 1-.5 1-.1 1z"/><path color="#5d00f3" d="M96.8 113.6l.1-1.2 .6-1.2 1-1.1 2 1.6-1 1.1-.5 1.1-.1 1.1z"/><path color="#850085" d="M137.7 122.5l0 .4-.1 .4-.3 .4-10 .5z"/><path color="#3d00f7" d="M94.9 112.2l.1-1.3 .6-1.2 1-1.2 1.9 1.6-1 1.1-.6 1.2-.1 1.2z"/><path color="#1e00fb" d="M93 110.8l.1-1.3 .6-1.3 1.2-1.3 1.7 1.6-1 1.2-.6 1.2-.1 1.3z"/><path color="#0001ff" d="M91.2 109.4l.1-1.4 .7-1.3 1.2-1.3 1.7 1.5-1.2 1.3-.6 1.3-.1 1.3z"/><path color="#001dff" d="M89.5 108l.1-1.4 .7-1.4 1.2-1.4 1.7 1.6-1.2 1.3-.7 1.3-.1 1.4z"/><path color="#ff2800" d="M198.4 56.9l4.4-.2 2.3 2.2-1.1 1.5-2.3-2.2z"/><path color="#0039ff" d="M87.8 106.6l.2-1.5 .7-1.4 1.2-1.4 1.6 1.5-1.2 1.4-.7 1.4-.1 1.4z"/><path color="#ff0500" d="M198.4 56.9l5.4-1.7 2.4 2.2-1.1 1.5-2.3-2.2z"/><path color="#8e009c" d="M142 120.9l.1 .6-.2 .6-.4 .6-4.2 1 .3-.4 .1-.4 0-.4z"/><path color="#850085" d="M117.8 124.3l-.5-.4-.3-.4-.2-.5 10.5 1.2z"/><path color="#ff0000" d="M198.4 56.9l6.4-3.2 2.4 2.2-1 1.5-2.4-2.2z"/><path color="#0056ff" d="M86.1 105.2l.2-1.5 .8-1.5 1.3-1.5 1.5 1.6-1.2 1.4-.7 1.4-.2 1.5z"/><path color="#ff0000" d="M198.4 56.9l7.5-4.7 2.4 2.2-1.1 1.5-2.4-2.2z"/><path color="#0072ff" d="M84.6 103.8l.2-1.6 .7-1.5 1.4-1.5 1.5 1.5-1.3 1.5-.8 1.5-.2 1.5z"/><path color="#ff0000" d="M198.4 56.9l8.5-6.2 2.5 2.2-1.1 1.5-2.4-2.2z"/><path color="#ff0000" d="M198.4 56.9l9.5-7.7 2.6 2.2-1.1 1.5-2.5-2.2z"/><path color="#9700b2" d="M145.4 119.4l.1 .7-.2 .8-.5 .7-3.3 1.1 .4-.6 .2-.6-.1-.6z"/><path color="#0090ff" d="M83 102.4l.2-1.6 .8-1.6 1.4-1.6 1.5 1.6-1.4 1.5-.7 1.5-.2 1.6z"/><path color="#ffff00" d="M193.1 70.2l1.9 2.1-1.2 1.4-1.8-2z"/><path color="#850085" d="M137.3 123.7l-.5 .4-.7 .4-.8 .4-8-.7z"/><path color="#ff0000" d="M198.4 56.9l10.5-9.2 2.6 2.2-1 1.5-2.6-2.2z"/><path color="#fff100" d="M194.2 68.7l2 2.1-1.2 1.5-1.9-2.1z"/><path color="#00afff" d="M81.5 101l.2-1.7 .8-1.6 1.5-1.6 1.4 1.5-1.4 1.6-.8 1.6-.2 1.6z"/><path color="#ff0000" d="M198.4 56.9l10.7-9.5 3.5 1-1.1 1.5-2.6-2.2z"/><path color="#ffdb00" d="M195.3 67.2l2 2.1-1.1 1.5-2-2.1z"/><path color="#00cfff" d="M80 99.5l.2-1.7 .9-1.6 1.5-1.7 1.4 1.6-1.5 1.6-.8 1.6-.2 1.7z"/><path color="#a000c8" d="M148.3 117.9l.1 .9-.2 .8-.5 .9-2.9 1.1 .5-.7 .2-.8-.1-.7z"/><path color="#ffc400" d="M196.4 65.7l2 2.1-1.1 1.5-2-2.1z"/><path color="#00efff" d="M78.5 98.1l.3-1.7 .9-1.7 1.5-1.7 1.4 1.5-1.5 1.7-.9 1.6-.2 1.7z"/><path color="#850085" d="M120.3 125.3l-.9-.3-.9-.4-.7-.3 9.5-.1z"/><path color="#00ffe3" d="M77.1 96.7l.3-1.8 .9-1.7 1.5-1.7 1.4 1.5-1.5 1.7-.9 1.7-.3 1.7z"/><path color="#9300d5" d="M150.8 116.4l.2 1-.2 .9-.6 1-2.5 1.2 .5-.9 .2-.8-.1-.9z"/><path color="#00ffa9" d="M75.7 95.3l.3-1.8 .9-1.8 1.6-1.8 1.3 1.6-1.5 1.7-.9 1.7-.3 1.8z"/><path color="#00ff32" d="M74.3 93.8l.3-1.8 .9-1.8 1.7-1.8 1.3 1.5-1.6 1.8-.9 1.8-.3 1.8z"/><path color="#850085" d="M135.3 124.9l-.9 .3-1.1 .3-1.2 .2-4.8-1.5z"/><path color="#8e009c" d="M113.8 123.5l-.7-.6-.5-.6-.2-.6 4.4 1.3 .2 .5 .3 .4 .5 .4z"/><path color="#8600e2" d="M153.1 115l.2 1-.2 1-.6 1.1-2.3 1.2 .6-1 .2-.9-.2-1z"/><path color="#00ff00" d="M72.9 92.4l.4-1.9 .9-1.8 1.7-1.8 1.3 1.5-1.7 1.8-.9 1.8-.3 1.8z"/><path color="#00ff00" d="M71.6 91l.3-1.9 1-1.9 1.7-1.9 1.3 1.6-1.7 1.8-.9 1.8-.4 1.9z"/><path color="#850085" d="M124 125.9l-1.3-.1-1.2-.3-1.2-.2 7-1.1z"/><path color="#7a00ee" d="M155.3 113.5l.2 1.1-.2 1.1-.6 1.1-2.2 1.3 .6-1.1 .2-1-.2-1z"/><path color="#00ff00" d="M70.2 89.5l.4-1.9 1-1.9 1.7-1.9 1.3 1.5-1.7 1.9-1 1.9-.3 1.9z"/><path color="#850085" d="M132.1 125.7l-1.3 .2-1.3 .1-1.4 .1-.8-1.9z"/><path color="#00ff00" d="M68.9 88.1l.4-2 1-1.9 1.8-1.9 1.2 1.5-1.7 1.9-1 1.9-.4 1.9z"/><path color="#850085" d="M128.1 126.1l-1.4 0-1.4-.1-1.3-.1 3.3-1.7z"/><path color="#00ff00" d="M67.6 86.6l.4-2 1.1-1.9 1.8-1.9 1.2 1.5-1.8 1.9-1 1.9-.4 2z"/><path color="#5d00f3" d="M157.3 112l.3 1.2-.2 1.2-.7 1.2-2 1.2 .6-1.1 .2-1.1-.2-1.1z"/><path color="#00ff00" d="M66.3 85.2l.4-2 1.1-2 1.8-2 1.3 1.6-1.8 1.9-1.1 1.9-.4 2z"/><path color="#9700b2" d="M110.7 122.6l-.9-.7-.5-.8-.3-.7 3.4 1.3 .2 .6 .5 .6 .7 .6z"/><path color="#00ff00" d="M65 83.7l.5-2 1.1-2 1.8-2 1.2 1.5-1.8 2-1.1 2-.4 2z"/><path color="#3d00f7" d="M159.2 110.5l.3 1.3-.2 1.2-.6 1.3-2 1.3 .7-1.2 .2-1.2-.3-1.2z"/><path color="#8e009c" d="M141.5 122.7l-.7 .6-.9 .5-1.1 .5-3.5 .6 .8-.4 .7-.4 .5-.4z"/><path color="#32ff00" d="M63.7 82.3l.5-2.1 1.1-2 1.9-2 1.2 1.5-1.8 2-1.1 2-.5 2z"/><path color="#1e00fb" d="M161 109.1l.4 1.3-.2 1.3-.7 1.3-1.8 1.3 .6-1.3 .2-1.2-.3-1.3z"/><path color="#8cff00" d="M62.5 80.8l.5-2.1 1.1-2 1.9-2 1.2 1.5-1.9 2-1.1 2-.5 2.1z"/><path color="#dbff00" d="M61.2 79.3l.6-2.1 1.1-2 2-2 1.1 1.5-1.9 2-1.1 2-.5 2.1z"/><path color="#a000c8" d="M108 121.5l-1-.8-.6-.8-.3-.8 2.9 1.3 .3 .7 .5 .8 .9 .7z"/><path color="#0001ff" d="M162.8 107.6l.4 1.4-.2 1.3-.7 1.4-1.8 1.3 .7-1.3 .2-1.3-.4-1.3z"/><path color="#001dff" d="M164.5 106.1l.4 1.4-.1 1.5-.7 1.4-1.8 1.3 .7-1.4 .2-1.3-.4-1.4z"/><path color="#ff0000" d="M209.1 47.4l4.5-.5-1 1.5z"/><path color="#ff0000" d="M209.1 47.4l5.6-2-1.1 1.5z"/><path color="#9300d5" d="M105.6 120.5l-1.1-.9-.7-1-.3-.9 2.6 1.4 .3 .8 .6 .8 1 .8z"/><path color="#0039ff" d="M166.1 104.7l.4 1.4 0 1.5-.7 1.5-1.7 1.3 .7-1.4 .1-1.5-.4-1.4z"/><path color="#ff0000" d="M209.1 47.4l6.6-3.5-1 1.5z"/><path color="#9700b2" d="M144.8 121.6l-.8 .7-1.1 .7-1.4 .6-2.7 .7 1.1-.5 .9-.5 .7-.6z"/><path color="#8e009c" d="M117.4 124.9l-1.4-.4-1.2-.5-1-.5 4 .8 .7 .3 .9 .4 .9 .3z"/><path color="#ff0000" d="M209.1 47.4l7.7-5.1-1.1 1.6z"/><path color="#ff0000" d="M209.1 47.4l8.7-6.6-1 1.5z"/><path color="#0056ff" d="M167.7 103.2l.5 1.5-.1 1.6-.7 1.5-1.6 1.3 .7-1.5 0-1.5-.4-1.4z"/><path color="#ff0000" d="M209.1 47.4l9.7-8.1-1 1.5z"/><path color="#ff0000" d="M209.1 47.4l10.8-9.6-1.1 1.5z"/><path color="#ff0000" d="M209.1 47.4l11.8-11.1-1 1.5z"/><path color="#0072ff" d="M169.2 101.7l.5 1.6 0 1.6-.7 1.6-1.6 1.3 .7-1.5 .1-1.6-.5-1.5z"/><path color="#8600e2" d="M103.3 119.4l-1.1-1-.8-1-.3-1.1 2.4 1.4 .3 .9 .7 1 1.1 .9z"/><path color="#ff0000" d="M209.1 47.4l12.8-12.6-1 1.5z"/><path color="#f70000" d="M209.1 47.4l13.9-14.1-1.1 1.5z"/><path color="#0090ff" d="M170.7 100.3l.6 1.6 0 1.6-.7 1.7-1.6 1.3 .7-1.6 0-1.6-.5-1.6z"/><path color="#8e009c" d="M138.8 124.3l-1.4 .5-1.5 .4-1.8 .3-2 .2 1.2-.2 1.1-.3 .9-.3z"/><path color="#a000c8" d="M147.7 120.5l-1 .8-1.2 .8-1.7 .7-2.3 .8 1.4-.6 1.1-.7 .8-.7z"/><path color="#00afff" d="M172.2 98.8l.6 1.6 0 1.7-.6 1.7-1.6 1.4 .7-1.7 0-1.6-.6-1.6z"/><path color="#7a00ee" d="M101.3 118.2l-1.3-1-.8-1.1-.3-1.1 2.2 1.3 .3 1.1 .8 1 1.1 1z"/><path color="#00cfff" d="M173.6 97.3l.6 1.7 .1 1.7-.6 1.8-1.5 1.3 .6-1.7 0-1.7-.6-1.6z"/><path color="#ffaa00" d="M52.7 69l.7-2.2 1.4-2.1 4.3 .8-3.2 .7-1.3 2.1-.7 2.2z"/><path color="#9700b2" d="M115 124.4l-1.7-.6-1.5-.6-1.1-.6 3.1 .9 1 .5 1.2 .5 1.4 .4z"/><path color="#ff9000" d="M51.5 67.5l.7-2.2 1.4-2.1 5.5 2.3-4.3-.8-1.4 2.1-.7 2.2z"/><path color="#5d00f3" d="M99.3 117.1l-1.3-1.2-.8-1.1-.4-1.2 2.1 1.4 .3 1.1 .8 1.1 1.3 1z"/><path color="#8e009c" d="M122.5 125.8l-1.8-.2-1.8-.3-1.5-.4 2.9 .4 1.2 .2 1.2 .3 1.3 .1z"/><path color="#00efff" d="M175 95.9l.7 1.7 .1 1.7-.6 1.8-1.5 1.4 .6-1.8-.1-1.7-.6-1.7z"/><path color="#ff7600" d="M50.4 66.1l.7-2.3 1.4-2.2 6.6 3.9-5.5-2.3-1.4 2.1-.7 2.2z"/><path color="#9300d5" d="M150.2 119.3l-1 .9-1.4 .9-1.9 .8-2.1 .9 1.7-.7 1.2-.8 1-.8z"/><path color="#ff5d00" d="M49.2 64.6l.7-2.3 1.5-2.2 7.7 5.4-6.6-3.9-1.4 2.2-.7 2.3z"/><path color="#00ffe3" d="M176.4 94.4l.7 1.7 .1 1.8-.6 1.9-1.4 1.3 .6-1.8-.1-1.7-.7-1.7z"/><path color="#ff2800" d="M47.7 59.3l3.1 .1-2 1.4z"/><path color="#ff4300" d="M48 63.1l.8-2.3 2-1.4 8.3 6.1-7.7-5.4-1.5 2.2-.7 2.3z"/><path color="#8e009c" d="M134.1 125.5l-1.8 .3-1.9 .1-2 .1-.3 .1 1.4-.1 1.3-.1 1.3-.2z"/><path color="#ff0500" d="M46.5 57.8l4.3 1.6-3.1-.1z"/><path color="#3d00f7" d="M97.4 115.9l-1.3-1.2-.9-1.2-.3-1.3 1.9 1.4 .4 1.2 .8 1.1 1.3 1.2z"/><path color="#00ffa9" d="M177.7 92.9l.8 1.8 .2 1.8-.6 1.9-1.5 1.4 .6-1.9-.1-1.8-.7-1.7z"/><path color="#ff0000" d="M45.4 56.3l5.4 3.1-4.3-1.6z"/><path color="#8e009c" d="M128.4 126l-2 0-1.9 0-2-.2 1.5 .1 1.3 .1 1.4 .1 1.4 0z"/><path color="#ff0000" d="M44.3 54.8l6.5 4.6-5.4-3.1z"/><path color="#00ff32" d="M179.1 91.5l.8 1.8 .2 1.8-.6 2-1.4 1.3 .6-1.9-.2-1.8-.8-1.8z"/><path color="#ff0000" d="M43.2 53.3l7.6 6.1-6.5-4.6z"/><path color="#9700b2" d="M141.5 123.6l-1.7 .6-1.9 .5-2.1 .3-1.7 .5 1.8-.3 1.5-.4 1.4-.5z"/><path color="#1e00fb" d="M95.6 114.7l-1.4-1.3-.8-1.3-.4-1.3 1.9 1.4 .3 1.3 .9 1.2 1.3 1.2z"/><path color="#8600e2" d="M152.5 118.1l-1.1 1-1.5 .9-2 .9-2 1 1.9-.8 1.4-.9 1-.9z"/><path color="#ff0000" d="M42 51.8l8.8 7.6-7.6-6.1z"/><path color="#00ff00" d="M180.4 90l.8 1.8 .2 1.9-.5 2-1.4 1.4 .6-2-.2-1.8-.8-1.8z"/><path color="#a000c8" d="M113 123.6l-2-.6-1.7-.7-1.3-.8 2.7 1.1 1.1 .6 1.5 .6 1.7 .6z"/><path color="#ff0000" d="M40.9 50.3l9.9 9.1-8.8-7.6z"/><path color="#ff0000" d="M40.7 50l10.1 9.4-9.9-9.1z"/><path color="#00ff00" d="M181.7 88.5l.9 1.9 .2 1.9-.5 2-1.4 1.4 .5-2-.2-1.9-.8-1.8z"/><path color="#0001ff" d="M93.9 113.5l-1.5-1.3-.8-1.4-.4-1.4 1.8 1.4 .4 1.3 .8 1.3 1.4 1.3z"/><path color="#00ff00" d="M183 87l.9 1.9 .3 2-.5 2-1.4 1.4 .5-2-.2-1.9-.9-1.9z"/><path color="#7a00ee" d="M154.7 116.8l-1.2 1.1-1.6 1-2.2 1-1.8 1 2-.9 1.5-.9 1.1-1z"/><path color="#ff0000" d="M213.6 46.9l.2 4.9-1.2-3.4z"/><path color="#00ff00" d="M184.2 85.6l1 1.9 .3 2-.4 2.1-1.4 1.3 .5-2-.3-2-.9-1.9z"/><path color="#001dff" d="M92.2 112.3l-1.5-1.4-.9-1.5-.3-1.4 1.7 1.4 .4 1.4 .8 1.4 1.5 1.3z"/><path color="#ff0000" d="M214.7 45.4l-.9 6.4-.2-4.9z"/><path color="#9700b2" d="M121.4 125.4l-2.3-.2-2.1-.4-2-.4 2.4 .5 1.5 .4 1.8 .3 1.8 .2z"/><path color="#ff0000" d="M215.7 43.9l-1.9 7.9 .9-6.4z"/><path color="#00ff00" d="M185.5 84.1l1 2 .3 2-.4 2.1-1.3 1.4 .4-2.1-.3-2-1-1.9z"/><path color="#ff0000" d="M216.8 42.3l-3 9.5 1.9-7.9z"/><path color="#9300d5" d="M111.1 122.8l-2.2-.7-1.9-.8-1.4-.8 2.4 1 1.3 .8 1.7 .7 2 .6z"/><path color="#ff0000" d="M217.8 40.8l-4 11 3-9.5z"/><path color="#ff0000" d="M218.8 39.3l-5 12.5 4-11z"/><path color="#a000c8" d="M143.8 122.8l-1.9 .6-2.3 .6-2.4 .4-1.4 .6 2.1-.3 1.9-.5 1.7-.6z"/><path color="#0039ff" d="M90.6 111.1l-1.6-1.5-.9-1.5-.3-1.5 1.7 1.4 .3 1.4 .9 1.5 1.5 1.4z"/><path color="#00ff00" d="M186.7 82.6l1 2 .5 2.1-.4 2.1-1.4 1.4 .4-2.1-.3-2-1-2z"/><path color="#ff0000" d="M219.9 37.8l-6.1 14 5-12.5z"/><path color="#5d00f3" d="M156.7 115.6l-1.2 1.1-1.7 1.2-2.3 1-1.8 1 2.2-1 1.6-1 1.2-1.1z"/><path color="#9700b2" d="M135.8 125l-2.3 .3-2.4 .3-2.4 .1-.3 .3 2-.1 1.9-.1 1.8-.3z"/><path color="#ff0000" d="M220.9 36.3l-7.1 15.5 6.1-14z"/><path color="#ffff00" d="M57.6 77.1l-.1-2.2 .6-2.1 1.3-2.1 1.2 1.5-1.3 2.1-.5 2.1 0 2.2z"/><path color="#ff0000" d="M221.9 34.8l-8.1 17 7.1-15.5z"/><path color="#00ff00" d="M187.9 81.1l1.1 2 .5 2.1-.4 2.2-1.3 1.4 .4-2.1-.5-2.1-1-2z"/><path color="#f70000" d="M223 33.3l-9.2 18.5 8.1-17z"/><path color="#fff100" d="M56.3 75.7l0-2.2 .6-2.2 1.3-2.1 1.2 1.5-1.3 2.1-.6 2.1 .1 2.2z"/><path color="#9700b2" d="M128.7 125.7l-2.5 0-2.4-.1-2.4-.2 1.1 .4 2 .2 1.9 0 2 0z"/><path color="#0056ff" d="M89 109.8l-1.6-1.5-.9-1.6-.4-1.5 1.7 1.4 .3 1.5 .9 1.5 1.6 1.5z"/><path color="#ff2800" d="M205.1 58.9l1.7 2.2-.6 4.5-.5-3-1.7-2.2z"/><path color="#32ff00" d="M189.1 79.7l1.2 2 .4 2.1-.2 2.2-1.4 1.4 .4-2.2-.5-2.1-1.1-2z"/><path color="#ff0500" d="M206.2 57.4l1.8 2.2-1.8 6 .6-4.5-1.7-2.2z"/><path color="#ffdb00" d="M55.1 74.2l0-2.2 .7-2.2 1.2-2.1 1.2 1.5-1.3 2.1-.6 2.2 0 2.2z"/><path color="#3d00f7" d="M158.7 114.3l-1.3 1.2-1.8 1.2-2.5 1.1-1.6 1.1 2.3-1 1.7-1.2 1.2-1.1z"/><path color="#ff0000" d="M207.2 55.9l1.9 2.2-2.9 7.5 1.8-6-1.8-2.2z"/><path color="#8cff00" d="M190.3 78.2l1.2 2 .5 2.2-.2 2.2-1.3 1.4 .2-2.2-.4-2.1-1.2-2z"/><path color="#8600e2" d="M109.4 122l-2.4-.8-2.1-.9-1.6-.9 2.3 1.1 1.4 .8 1.9 .8 2.2 .7z"/><path color="#ffc400" d="M53.9 72.8l0-2.3 .7-2.2 1.3-2.1 1.1 1.5-1.2 2.1-.7 2.2 0 2.2z"/><path color="#0072ff" d="M87.4 108.5l-1.6-1.5-.9-1.6-.3-1.6 1.5 1.4 .4 1.5 .9 1.6 1.6 1.5z"/><path color="#ff0000" d="M208.3 54.4l1.9 2.2-4 9 2.9-7.5-1.9-2.2z"/><path color="#dbff00" d="M191.5 76.7l1.2 2.1 .6 2.1-.2 2.2-1.3 1.5 .2-2.2-.5-2.2-1.2-2z"/><path color="#ff0000" d="M209.4 52.9l1.9 2.2-5.1 10.5 4-9-1.9-2.2z"/><path color="#a000c8" d="M120.4 124.9l-2.6-.3-2.6-.4-2.2-.6 2 .8 2 .4 2.1 .4 2.3 .2z"/><path color="#ff0000" d="M210.5 51.4l1.9 2.2-6.2 12 5.1-10.5-1.9-2.2z"/><path color="#9300d5" d="M145.9 121.9l-2.2 .7-2.5 .6-2.8 .5-1.2 .7 2.4-.4 2.3-.6 1.9-.6z"/><path color="#ffff00" d="M192.7 75.2l1.2 2.1 .7 2.2-.2 2.2-1.3 1.4 .2-2.2-.6-2.1-1.2-2.1z"/><path color="#0090ff" d="M85.9 107.3l-1.6-1.7-1-1.6-.3-1.6 1.6 1.4 .3 1.6 .9 1.6 1.6 1.5z"/><path color="#ff0000" d="M211.5 49.9l2.1 2.2-7.4 13.5 6.2-12-1.9-2.2z"/><path color="#1e00fb" d="M160.5 113l-1.2 1.3-2 1.3-2.6 1.1-1.6 1.1 2.5-1.1 1.8-1.2 1.3-1.2z"/><path color="#ff0000" d="M212.6 48.4l1.2 3.4-7.6 13.8 7.4-13.5-2.1-2.2z"/><path color="#ffff00" d="M193.8 73.7l1.3 2.1 .7 2.2-.1 2.3-1.3 1.4 .2-2.2-.7-2.2-1.2-2.1z"/><path color="#ffaa00" d="M199.5 66.3l1.6 2.2 .9 2.3-2.5 5.2 1.2-3.8-.8-2.2-1.5-2.2z"/><path color="#00afff" d="M84.4 106l-1.7-1.7-.9-1.7-.3-1.6 1.5 1.4 .3 1.6 1 1.6 1.6 1.7z"/><path color="#a000c8" d="M137.2 124.4l-2.7 .4-2.7 .2-2.9 .2-.2 .5 2.4-.1 2.4-.3 2.3-.3z"/><path color="#7a00ee" d="M107.8 121.1l-2.6-.9-2.2-.9-1.7-1.1 2 1.2 1.6 .9 2.1 .9 2.4 .8z"/><path color="#ffff00" d="M195 72.3l1.3 2.1 .8 2.2-.1 2.3-1.3 1.4 .1-2.3-.7-2.2-1.3-2.1z"/><path color="#ff9000" d="M200.7 64.8l1.5 2.2 1 2.3-3.7 6.7 2.5-5.2-.9-2.3-1.6-2.2z"/><path color="#0001ff" d="M162.3 111.7l-1.3 1.4-2 1.3-2.7 1.3-1.6 1 2.6-1.1 2-1.3 1.2-1.3z"/><path color="#fff100" d="M196.2 70.8l1.3 2.1 .8 2.2-.1 2.4-1.2 1.4 .1-2.3-.8-2.2-1.3-2.1z"/><path color="#ff7600" d="M201.8 63.3l1.6 2.2 1 2.3-4.9 8.2 3.7-6.7-1-2.3-1.5-2.2z"/><path color="#00cfff" d="M82.9 104.7l-1.7-1.7-.9-1.7-.3-1.8 1.5 1.5 .3 1.6 .9 1.7 1.7 1.7z"/><path color="#a000c8" d="M128.9 125.2l-2.8 0-2.9-.1-2.8-.2 1 .5 2.4 .2 2.4 .1 2.5 0z"/><path color="#ff5d00" d="M202.9 61.8l1.6 2.3 1.1 2.3-6.1 9.6 4.9-8.2-1-2.3-1.6-2.2z"/><path color="#ffdb00" d="M197.3 69.3l1.4 2.1 .8 2.3 0 2.3-1.3 1.5 .1-2.4-.8-2.2-1.3-2.1z"/><path color="#8600e2" d="M147.9 120.9l-2.4 .8-2.8 .7-3.1 .5-1.2 .8 2.8-.5 2.5-.6 2.2-.7z"/><path color="#ff4300" d="M204 60.4l1.7 2.2 .5 3-6.7 10.4 6.1-9.6-1.1-2.3-1.6-2.3z"/><path color="#ffc400" d="M198.4 67.8l1.5 2.2 .8 2.2-1.2 3.8 0-2.3-.8-2.3-1.4-2.1z"/><path color="#9300d5" d="M119.6 124.2l-3.1-.3-2.8-.5-2.6-.6 1.9 .8 2.2 .6 2.6 .4 2.6 .3z"/><path color="#00efff" d="M81.4 103.4l-1.6-1.8-1-1.7-.3-1.8 1.5 1.4 .3 1.8 .9 1.7 1.7 1.7z"/><path color="#001dff" d="M164.1 110.4l-1.4 1.5-2.1 1.4-2.8 1.2-1.5 1.2 2.7-1.3 2-1.3 1.3-1.4z"/><path color="#5d00f3" d="M106.3 120.1l-2.9-.9-2.3-1-1.8-1.1 2 1.1 1.7 1.1 2.2 .9 2.6 .9z"/><path color="#00ffe3" d="M80 102.1l-1.7-1.8-.9-1.8-.3-1.8 1.4 1.4 .3 1.8 1 1.7 1.6 1.8z"/><path color="#9300d5" d="M138.4 123.7l-3 .4-3.1 .3-3.2 .1-.2 .7 2.9-.2 2.7-.2 2.7-.4z"/><path color="#0039ff" d="M165.8 109.1l-1.4 1.5-2.2 1.5-2.9 1.3-1.5 1.1 2.8-1.2 2.1-1.4 1.4-1.5z"/><path color="#00ffa9" d="M78.6 100.8l-1.7-1.9-.9-1.8-.3-1.8 1.4 1.4 .3 1.8 .9 1.8 1.7 1.8z"/><path color="#7a00ee" d="M149.7 119.9l-2.6 .9-3.1 .7-3.3 .6-1.1 .8 3.1-.5 2.8-.7 2.4-.8z"/><path color="#3d00f7" d="M104.9 119.1l-3.1-.9-2.5-1.1-1.9-1.2 1.9 1.2 1.8 1.1 2.3 1 2.9 .9z"/><path color="#9300d5" d="M129.1 124.5l-3.2 .1-3.2-.1-3.1-.3 .8 .7 2.8 .2 2.9 .1 2.8 0z"/><path color="#00ff32" d="M77.2 99.5l-1.7-1.9-.9-1.9-.3-1.9 1.4 1.5 .3 1.8 .9 1.8 1.7 1.9z"/><path color="#0056ff" d="M167.4 107.8l-1.4 1.6-2.2 1.5-3.1 1.4-1.4 1.1 2.9-1.3 2.2-1.5 1.4-1.5z"/><path color="#8600e2" d="M118.7 123.5l-3.3-.4-3.1-.5-2.9-.6 1.7 .8 2.6 .6 2.8 .5 3.1 .3z"/><path color="#ffff00" d="M60.9 82.2l-.8-2.2-.1-2.1 .5-2.1 1.3 1.4-.6 2.1 .1 2.2 .8 2.2z"/><path color="#00ff00" d="M75.8 98.2l-1.7-2-.9-1.9-.3-1.9 1.4 1.4 .3 1.9 .9 1.9 1.7 1.9z"/><path color="#ffff00" d="M59.6 80.8l-.8-2.2 0-2.2 .5-2.1 1.2 1.5-.5 2.1 .1 2.1 .8 2.2z"/><path color="#1e00fb" d="M103.4 118.1l-3.2-1-2.6-1.1-2-1.3 1.8 1.2 1.9 1.2 2.5 1.1 3.1 .9z"/><path color="#0072ff" d="M169 106.5l-1.4 1.6-2.3 1.6-3.2 1.4-1.4 1.2 3.1-1.4 2.2-1.5 1.4-1.6z"/><path color="#5d00f3" d="M151.5 118.9l-2.9 .9-3.3 .8-3.6 .6-1 .9 3.3-.6 3.1-.7 2.6-.9z"/><path color="#00ff00" d="M74.4 96.8l-1.7-2-.9-1.9-.2-1.9 1.3 1.4 .3 1.9 .9 1.9 1.7 2z"/><path color="#8600e2" d="M139.6 122.9l-3.3 .5-3.4 .2-3.6 .2-.2 .7 3.2-.1 3.1-.3 3-.4z"/><path color="#00ff00" d="M73.1 95.5l-1.8-2-.9-2-.2-2 1.4 1.5 .2 1.9 .9 1.9 1.7 2z"/><path color="#0090ff" d="M170.6 105.2l-1.4 1.6-2.4 1.6-3.3 1.5-1.4 1.2 3.2-1.4 2.3-1.6 1.4-1.6z"/><path color="#7a00ee" d="M118 122.7l-3.7-.4-3.4-.5-3.1-.7 1.6 .9 2.9 .6 3.1 .5 3.3 .4z"/><path color="#8600e2" d="M129.3 123.8l-3.5 0-3.6-.1-3.5-.2 .9 .7 3.1 .3 3.2 .1 3.2-.1z"/><path color="#0001ff" d="M102.1 117.1l-3.4-1.1-2.8-1.2-2-1.3 1.7 1.2 2 1.3 2.6 1.1 3.2 1z"/><path color="#00ff00" d="M71.7 94.1l-1.7-2-.9-2-.2-2 1.3 1.4 .2 2 .9 2 1.8 2z"/><path color="#3d00f7" d="M153.1 117.8l-3 1-3.5 .8-3.9 .7-1 .9 3.6-.6 3.3-.8 2.9-.9z"/><path color="#00afff" d="M172.2 103.8l-1.5 1.7-2.4 1.7-3.4 1.5-1.4 1.2 3.3-1.5 2.4-1.6 1.4-1.6z"/><path color="#00ff00" d="M70.4 92.8l-1.7-2.1-.9-2.1-.2-2 1.3 1.5 .2 2 .9 2 1.7 2z"/><path color="#7a00ee" d="M140.7 122.1l-3.6 .4-3.8 .4-3.8 .1-.2 .8 3.6-.2 3.4-.2 3.3-.5z"/><path color="#001dff" d="M100.8 116l-3.6-1.1-2.9-1.2-2.1-1.4 1.7 1.2 2 1.3 2.8 1.2 3.4 1.1z"/><path color="#ff2800" d="M49.1 68.5l-2.4-4.6 .2-2.3 .8-2.3 1.1 1.5-.8 2.3-.1 2.3z"/><path color="#00cfff" d="M173.7 102.5l-1.5 1.7-2.4 1.8-3.5 1.5-1.4 1.2 3.4-1.5 2.4-1.7 1.5-1.7z"/><path color="#00ff00" d="M69 91.4l-1.7-2.1-.8-2.1-.2-2 1.3 1.4 .2 2 .9 2.1 1.7 2.1z"/><path color="#5d00f3" d="M117.3 121.9l-4-.4-3.7-.6-3.3-.8 1.5 1 3.1 .7 3.4 .5 3.7 .4z"/><path color="#ff0500" d="M49.1 68.5l-3.6-6.1 .2-2.3 .8-2.3 1.2 1.5-.8 2.3-.2 2.3z"/><path color="#1e00fb" d="M154.7 116.7l-3.2 1.1-3.7 .8-4.2 .7-.9 1 3.9-.7 3.5-.8 3-1z"/><path color="#7a00ee" d="M129.5 123l-3.9 .1-3.8-.1-3.8-.3 .7 .8 3.5 .2 3.6 .1 3.5 0z"/><path color="#ff0000" d="M49.1 68.5l-4.8-7.6 .2-2.3 .9-2.3 1.1 1.5-.8 2.3-.2 2.3z"/><path color="#00ff00" d="M67.7 90l-1.7-2.1-.8-2.1-.2-2.1 1.3 1.5 .2 2 .8 2.1 1.7 2.1z"/><path color="#ff0000" d="M39.4 54.6l-1.7-5.1 3 .5-1.9 1.1z"/><path color="#00efff" d="M175.2 101.1l-1.5 1.8-2.5 1.8-3.6 1.6-1.3 1.2 3.5-1.5 2.4-1.8 1.5-1.7z"/><path color="#0039ff" d="M99.5 115l-3.8-1.2-2.9-1.3-2.2-1.4 1.6 1.2 2.1 1.4 2.9 1.2 3.6 1.1z"/><path color="#ff0000" d="M49.1 68.5l-6-9.1 .3-2.3 .9-2.3 1.1 1.5-.9 2.3-.2 2.3z"/><path color="#ff0000" d="M39.4 54.6l-2.8-6.6 4.1 2-3-.5z"/><path color="#ff0000" d="M39.4 54.6l-3.9-8.1 5.2 3.5-4.1-2z"/><path color="#32ff00" d="M66.4 88.7l-1.7-2.2-.8-2.2-.2-2 1.3 1.4 .2 2.1 .8 2.1 1.7 2.1z"/><path color="#ff0000" d="M49.1 68.5l-7.1-10.6 .3-2.3 .9-2.3 1.1 1.5-.9 2.3-.3 2.3z"/><path color="#ff0000" d="M39.4 54.6l-5.1-9.6 6.4 5-5.2-3.5z"/><path color="#5d00f3" d="M141.7 121.2l-3.9 .5-4 .3-4.1 .2-.2 .8 3.8-.1 3.8-.4 3.6-.4z"/><path color="#ff0000" d="M39.4 54.6l-6.2-11.2 7.5 6.6-6.4-5z"/><path color="#ff0000" d="M49.1 68.5l-8.3-12.1 .3-2.3 .9-2.3 1.2 1.5-.9 2.3-.3 2.3z"/><path color="#00ffe3" d="M176.6 99.8l-1.4 1.8-2.6 1.8-3.7 1.7-1.3 1.2 3.6-1.6 2.5-1.8 1.5-1.8z"/><path color="#ff0000" d="M39.4 54.6l-7.3-12.7 8.6 8.1-7.5-6.6z"/><path color="#8cff00" d="M65.1 87.3l-1.7-2.2-.8-2.2-.1-2.1 1.2 1.5 .2 2 .8 2.2 1.7 2.2z"/><path color="#0001ff" d="M156.3 115.7l-3.4 1-4 .9-4.4 .8-.9 .9 4.2-.7 3.7-.8 3.2-1.1z"/><path color="#3d00f7" d="M116.6 121l-4.2-.4-4-.7-3.5-.8 1.4 1 3.3 .8 3.7 .6 4 .4z"/><path color="#ff0000" d="M39.4 54.6l-8.4-14.2 9.7 9.6-8.6-8.1z"/><path color="#ff0000" d="M49.1 68.5l-9.5-13.6 .4-2.3 .9-2.3 1.1 1.5-.9 2.3-.3 2.3z"/><path color="#0056ff" d="M98.2 113.9l-3.9-1.2-3.1-1.4-2.2-1.5 1.6 1.3 2.2 1.4 2.9 1.3 3.8 1.2z"/><path color="#ff0000" d="M39.4 54.6l-9.5-15.7 10.8 11.1-9.7-9.6z"/><path color="#ff0000" d="M49.1 68.5l-9.7-13.9-.6-3.5 1.9-1.1 .2 .3-.9 2.3-.4 2.3z"/><path color="#ff0000" d="M39.4 54.6l-10.6-17.3 11.9 12.7-10.8-11.1z"/><path color="#5d00f3" d="M129.7 122.2l-4.2 0-4.1-.1-4.1-.2 .7 .8 3.8 .3 3.8 .1 3.9-.1z"/><path color="#dbff00" d="M63.8 85.9l-1.7-2.2-.8-2.2-.1-2.2 1.3 1.5 .1 2.1 .8 2.2 1.7 2.2z"/><path color="#f70000" d="M39.4 54.6l-11.7-18.8 13 14.2-11.9-12.7z"/><path color="#00ffa9" d="M178.1 98.4l-1.5 1.9-2.5 1.9-3.9 1.7-1.3 1.2 3.7-1.7 2.6-1.8 1.4-1.8z"/><path color="#0072ff" d="M96.9 112.8l-4-1.3-3.2-1.4-2.3-1.6 1.6 1.3 2.2 1.5 3.1 1.4 3.9 1.2z"/><path color="#3d00f7" d="M142.7 120.3l-4.2 .5-4.3 .3-4.4 .2-.1 .9 4.1-.2 4-.3 3.9-.5z"/><path color="#001dff" d="M157.8 114.5l-3.6 1.2-4.2 .9-4.6 .8-.9 1 4.4-.8 4-.9 3.4-1z"/><path color="#00ff32" d="M179.5 97.1l-1.4 1.9-2.7 1.9-3.9 1.7-1.3 1.3 3.9-1.7 2.5-1.9 1.5-1.9z"/><path color="#1e00fb" d="M115.9 120.1l-4.5-.5-4.2-.6-3.8-.9 1.5 1 3.5 .8 4 .7 4.2 .4z"/><path color="#3d00f7" d="M129.8 121.3l-4.4 .1-4.4-.1-4.4-.3 .7 .9 4.1 .2 4.1 .1 4.2 0z"/><path color="#00ff00" d="M180.9 95.7l-1.4 2-2.7 1.9-4 1.8-1.3 1.2 3.9-1.7 2.7-1.9 1.4-1.9z"/><path color="#0090ff" d="M95.7 111.7l-4.2-1.4-3.3-1.4-2.3-1.6 1.5 1.2 2.3 1.6 3.2 1.4 4 1.3z"/><path color="#0039ff" d="M159.3 113.4l-3.8 1.2-4.4 1-4.8 .7-.9 1.1 4.6-.8 4.2-.9 3.6-1.2z"/><path color="#ffaa00" d="M57.4 78.9l-4.1-5.3-.6-2.3 0-2.3 1.2 1.5 0 2.3 .7 2.3z"/><path color="#1e00fb" d="M143.6 119.3l-4.4 .6-4.5 .3-4.7 .2-.2 .9 4.4-.2 4.3-.3 4.2-.5z"/><path color="#00ff00" d="M182.3 94.3l-1.4 2-2.7 2-4.1 1.8-1.3 1.3 4-1.8 2.7-1.9 1.4-2z"/><path color="#0001ff" d="M115.3 119.2l-4.8-.5-4.4-.7-4-.9 1.3 1 3.8 .9 4.2 .6 4.5 .5z"/><path color="#ff9000" d="M57.4 78.9l-5.3-6.7-.6-2.4 0-2.3 1.2 1.5 0 2.3 .6 2.3z"/><path color="#00afff" d="M94.5 110.5l-4.3-1.3-3.4-1.6-2.4-1.6 1.5 1.3 2.3 1.6 3.3 1.4 4.2 1.4z"/><path color="#ffff00" d="M197 78.9l-3.5 4.7 2.2-3.3z"/><path color="#ff7600" d="M57.4 78.9l-6.5-8.2-.6-2.4 .1-2.2 1.1 1.4 0 2.3 .6 2.4z"/><path color="#00ff00" d="M183.7 92.9l-1.4 2.1-2.7 2-4.2 1.9-1.3 1.2 4.1-1.8 2.7-2 1.4-2z"/><path color="#0056ff" d="M160.7 112.3l-3.9 1.2-4.6 1-5.1 .8-.8 1 4.8-.7 4.4-1 3.8-1.2z"/><path color="#1e00fb" d="M130 120.4l-4.7 .1-4.7-.1-4.7-.3 .7 .9 4.4 .3 4.4 .1 4.4-.1z"/><path color="#fff100" d="M198.2 77.5l-4.7 6.1 3.5-4.7z"/><path color="#ff5d00" d="M57.4 78.9l-7.7-9.7-.6-2.3 .1-2.3 1.2 1.5-.1 2.2 .6 2.4z"/><path color="#ffdb00" d="M199.5 76l-6 7.6 4.7-6.1z"/><path color="#00cfff" d="M93.3 109.4l-4.5-1.4-3.4-1.6-2.5-1.7 1.5 1.3 2.4 1.6 3.4 1.6 4.3 1.3z"/><path color="#ff4300" d="M57.4 78.9l-8.3-10.4-1.2-3.1 .1-2.3 1.2 1.5-.1 2.3 .6 2.3z"/><path color="#0001ff" d="M144.5 118.4l-4.6 .5-4.8 .4-5 .2-.1 .9 4.7-.2 4.5-.3 4.4-.6z"/><path color="#ffc400" d="M199.5 76l-6 7.6 6-7.6z"/><path color="#001dff" d="M114.7 118.2l-5.1-.5-4.6-.7-4.2-1 1.3 1.1 4 .9 4.4 .7 4.8 .5z"/><path color="#00ff00" d="M185.1 91.6l-1.4 2-2.8 2.1-4.2 1.9-1.3 1.3 4.2-1.9 2.7-2 1.4-2.1z"/><path color="#0072ff" d="M162.1 111.1l-4.1 1.3-4.7 1-5.3 .8-.9 1.1 5.1-.8 4.6-1 3.9-1.2z"/><path color="#00ff00" d="M186.4 90.2l-1.4 2.1-2.7 2.1-4.4 1.9-1.2 1.3 4.2-1.9 2.8-2.1 1.4-2z"/><path color="#00efff" d="M92.1 108.2l-4.6-1.4-3.6-1.6-2.5-1.8 1.5 1.3 2.5 1.7 3.4 1.6 4.5 1.4z"/><path color="#ffff00" d="M194.4 81.7l-1.3 2.3-5.3 4.8 4-3.4 1.3-2.3z"/><path color="#0001ff" d="M130.1 119.5l-4.9 .1-5-.2-4.9-.2 .6 .9 4.7 .3 4.7 .1 4.7-.1z"/><path color="#ffff00" d="M195.7 80.3l-2.2 3.3-5.7 5.2 5.3-4.8 1.3-2.3z"/><path color="#001dff" d="M145.4 117.4l-4.9 .5-5 .4-5.2 .2-.2 1 5-.2 4.8-.4 4.6-.5z"/><path color="#0039ff" d="M114 117.2l-5.2-.5-4.9-.8-4.4-.9 1.3 1 4.2 1 4.6 .7 5.1 .5z"/><path color="#00ff00" d="M187.8 88.8l-1.4 2.1-2.8 2.2-4.4 1.9-1.3 1.3 4.4-1.9 2.7-2.1 1.4-2.1z"/><path color="#0090ff" d="M163.5 109.9l-4.2 1.3-5 1.1-5.5 .8-.8 1.1 5.3-.8 4.7-1 4.1-1.3z"/><path color="#00ffe3" d="M90.9 107.1l-4.7-1.5-3.6-1.7-2.6-1.8 1.4 1.3 2.5 1.8 3.6 1.6 4.6 1.4z"/><path color="#00ff00" d="M189.1 87.4l-1.4 2.2-2.8 2.1-4.5 2-1.2 1.3 4.4-1.9 2.8-2.2 1.4-2.1z"/><path color="#ffff00" d="M65 86.3l-5-4.6-1.7-2.3-.7-2.3 1.2 1.5 .8 2.2 1.7 2.3z"/><path color="#001dff" d="M130.3 118.5l-5.2 .1-5.3-.1-5.1-.3 .6 1 4.9 .2 5 .2 4.9-.1z"/><path color="#0056ff" d="M113.4 116.2l-5.5-.5-5.1-.8-4.6-1 1.3 1.1 4.4 .9 4.9 .8 5.2 .5z"/><path color="#00ffa9" d="M89.7 105.9l-4.8-1.6-3.7-1.7-2.6-1.8 1.4 1.3 2.6 1.8 3.6 1.7 4.7 1.5z"/><path color="#0039ff" d="M146.3 116.3l-5.1 .6-5.4 .4-5.4 .2-.1 1 5.2-.2 5-.4 4.9-.5z"/><path color="#00afff" d="M164.9 108.7l-4.4 1.4-5.2 1.1-5.7 .8-.8 1.1 5.5-.8 5-1.1 4.2-1.3z"/><path color="#fff100" d="M65 86.3l-6.3-6-1.6-2.3-.8-2.3 1.3 1.4 .7 2.3 1.7 2.3z"/><path color="#32ff00" d="M190.5 86l-1.4 2.2-2.8 2.2-4.6 2-1.3 1.3 4.5-2 2.8-2.1 1.4-2.2z"/><path color="#dbff00" d="M193.1 83.1l-1.3 2.3-4 3.4-5.5 3 5.3-2.7 2.8-2.3 1.4-2.2z"/><path color="#ffdb00" d="M65 86.3l-7.5-7.4-1.7-2.4-.7-2.3 1.2 1.5 .8 2.3 1.6 2.3z"/><path color="#8cff00" d="M191.8 84.6l-1.4 2.2-2.8 2.3-5.3 2.7-.6 .6 4.6-2 2.8-2.2 1.4-2.2z"/><path color="#00ff32" d="M88.6 104.7l-5-1.6-3.8-1.7-2.6-1.9 1.4 1.3 2.6 1.8 3.7 1.7 4.8 1.6z"/><path color="#ffc400" d="M65 86.3l-7.6-7.4-2.8-3.8-.7-2.3 1.2 1.4 .7 2.3 1.7 2.4z"/><path color="#0039ff" d="M130.4 117.5l-5.5 .1-5.4-.1-5.5-.3 .7 1 5.1 .3 5.3 .1 5.2-.1z"/><path color="#00cfff" d="M166.3 107.5l-4.6 1.4-5.4 1.1-5.9 .9-.8 1.1 5.7-.8 5.2-1.1 4.4-1.4z"/><path color="#0072ff" d="M112.9 115.1l-5.8-.5-5.4-.8-4.8-1 1.3 1.1 4.6 1 5.1 .8 5.5 .5z"/><path color="#0056ff" d="M147.1 115.3l-5.3 .6-5.6 .4-5.6 .2-.2 1 5.4-.2 5.4-.4 5.1-.6z"/><path color="#00ff00" d="M87.4 103.5l-5.1-1.6-3.8-1.8-2.7-1.9 1.4 1.3 2.6 1.9 3.8 1.7 5 1.6z"/><path color="#00efff" d="M167.6 106.3l-4.7 1.4-5.6 1.2-6.1 .9-.8 1.1 5.9-.9 5.4-1.1 4.6-1.4z"/><path color="#0056ff" d="M130.6 116.5l-5.8 .1-5.7-.1-5.7-.3 .6 1 5.5 .3 5.4 .1 5.5-.1z"/><path color="#0090ff" d="M112.3 114.1l-6-.6-5.6-.8-5-1 1.2 1.1 4.8 1 5.4 .8 5.8 .5z"/><path color="#0072ff" d="M148 114.2l-5.6 .6-5.8 .5-5.9 .2-.1 1 5.6-.2 5.6-.4 5.3-.6z"/><path color="#00ff00" d="M86.3 102.3l-5.3-1.7-3.9-1.8-2.7-2 1.4 1.4 2.7 1.9 3.8 1.8 5.1 1.6z"/><path color="#00ffe3" d="M168.9 105.1l-4.8 1.5-5.8 1.1-6.4 1-.7 1.1 6.1-.9 5.6-1.2 4.7-1.4z"/><path color="#00ff00" d="M85.2 101l-5.4-1.6-4-1.9-2.7-2 1.3 1.3 2.7 2 3.9 1.8 5.3 1.7z"/><path color="#00afff" d="M111.7 113l-6.2-.5-5.8-.9-5.2-1.1 1.2 1.2 5 1 5.6 .8 6 .6z"/><path color="#0072ff" d="M130.7 115.5l-6 .1-5.9-.1-5.9-.4 .5 1.1 5.7 .3 5.7 .1 5.8-.1z"/><path color="#0090ff" d="M148.8 113.1l-5.8 .7-6.1 .4-6.1 .2-.1 1.1 5.9-.2 5.8-.5 5.6-.6z"/><path color="#ffff00" d="M72.1 91.4l-6.7-4.6-2.9-2.3-1.6-2.3 1.2 1.5 1.7 2.2 2.9 2.2z"/><path color="#00ffa9" d="M170.2 103.9l-5 1.5-5.9 1.2-6.6 .9-.8 1.2 6.4-1 5.8-1.1 4.8-1.5z"/><path color="#00ff00" d="M84 99.8l-5.5-1.7-4-1.9-2.8-2.1 1.4 1.4 2.7 2 4 1.9 5.4 1.6z"/><path color="#ffff00" d="M72.1 91.4l-7.1-5.1-3.7-3.2-1.7-2.3 1.3 1.4 1.6 2.3 2.9 2.3z"/><path color="#00cfff" d="M111.2 111.9l-6.5-.5-6-.9-5.4-1.1 1.2 1.1 5.2 1.1 5.8 .9 6.2 .5z"/><path color="#0090ff" d="M130.8 114.4l-6.2 .1-6.2-.1-6.1-.3 .6 1 5.9 .4 5.9 .1 6-.1z"/><path color="#00afff" d="M149.6 112l-6.1 .7-6.2 .4-6.4 .3-.1 1 6.1-.2 6.1-.4 5.8-.7z"/><path color="#00ff32" d="M171.5 102.6l-5.1 1.6-6.2 1.2-6.8 .9-.7 1.2 6.6-.9 5.9-1.2 5-1.5z"/><path color="#00ff00" d="M82.9 98.6l-5.6-1.8-4.2-2-2.7-2 1.3 1.3 2.8 2.1 4 1.9 5.5 1.7z"/><path color="#00efff" d="M110.6 110.8l-6.7-.5-6.2-.9-5.6-1.2 1.2 1.2 5.4 1.1 6 .9 6.5 .5z"/><path color="#00ff00" d="M81.8 97.3l-5.8-1.8-4.2-2-2.8-2.1 1.4 1.4 2.7 2 4.2 2 5.6 1.8z"/><path color="#00ff00" d="M172.8 101.4l-5.3 1.5-6.3 1.3-7 1-.8 1.1 6.8-.9 6.2-1.2 5.1-1.6z"/><path color="#00cfff" d="M150.4 110.9l-6.3 .7-6.5 .4-6.5 .3-.2 1.1 6.4-.3 6.2-.4 6.1-.7z"/><path color="#00afff" d="M130.9 113.4l-6.4 .1-6.4-.2-6.4-.3 .6 1.1 6.1 .3 6.2 .1 6.2-.1z"/><path color="#00ff00" d="M80.7 96l-5.9-1.8-4.3-2-2.8-2.2 1.3 1.4 2.8 2.1 4.2 2 5.8 1.8z"/><path color="#00ffe3" d="M110.1 109.7l-6.9-.6-6.5-.8-5.8-1.2 1.2 1.1 5.6 1.2 6.2 .9 6.7 .5z"/><path color="#00ff00" d="M174.1 100.1l-5.4 1.6-6.6 1.3-7.2 1-.7 1.2 7-1 6.3-1.3 5.3-1.5z"/><path color="#00efff" d="M151.2 109.8l-6.5 .7-6.7 .4-6.8 .3-.1 1.1 6.5-.3 6.5-.4 6.3-.7z"/><path color="#00cfff" d="M131.1 112.3l-6.7 .1-6.6-.1-6.6-.4 .5 1.1 6.4 .3 6.4 .2 6.4-.1z"/><path color="#32ff00" d="M79.5 94.8l-5.9-1.9-4.3-2.1-2.9-2.1 1.3 1.3 2.8 2.2 4.3 2 5.9 1.8z"/><path color="#00ff00" d="M175.4 98.9l-5.6 1.6-6.7 1.3-7.4 1-.8 1.2 7.2-1 6.6-1.3 5.4-1.6z"/><path color="#dbff00" d="M79 94.1l-6.9-2.7-5.4-3.3-2.9-2.2 1.3 1.4 2.9 2.2 4.3 2.1z"/><path color="#00ffa9" d="M109.5 108.6l-7.1-.6-6.7-.9-6-1.2 1.2 1.2 5.8 1.2 6.5 .8 6.9 .6z"/><path color="#8cff00" d="M79 94.1l-6.7-2.5-4.3-2.1-2.9-2.2 1.3 1.4 2.9 2.1 4.3 2.1 5.9 1.9z"/><path color="#00ffe3" d="M151.9 108.7l-6.7 .6-6.9 .5-7 .3-.1 1.1 6.8-.3 6.7-.4 6.5-.7z"/><path color="#00efff" d="M131.2 111.2l-6.9 .1-6.8-.1-6.9-.4 .6 1.1 6.6 .4 6.6 .1 6.7-.1z"/><path color="#00ff00" d="M176.7 97.6l-5.8 1.6-6.9 1.4-7.6 .9-.7 1.3 7.4-1 6.7-1.3 5.6-1.6z"/><path color="#00ff32" d="M109 107.4l-7.4-.5-6.9-1-6.1-1.2 1.1 1.2 6 1.2 6.7 .9 7.1 .6z"/><path color="#00ffa9" d="M152.7 107.5l-6.9 .7-7.2 .5-7.2 .2-.1 1.2 7-.3 6.9-.5 6.7-.6z"/><path color="#00ffe3" d="M131.3 110.1l-7 .1-7.2-.2-7-.3 .5 1.1 6.9 .4 6.8 .1 6.9-.1z"/><path color="#00ff00" d="M177.9 96.3l-5.9 1.7-7.1 1.3-7.8 1-.7 1.2 7.6-.9 6.9-1.4 5.8-1.6z"/><path color="#00ff00" d="M108.5 106.3l-7.6-.6-7.2-.9-6.3-1.3 1.2 1.2 6.1 1.2 6.9 1 7.4 .5z"/><path color="#00ff32" d="M153.4 106.3l-7.1 .7-7.3 .5-7.4 .3-.2 1.1 7.2-.2 7.2-.5 6.9-.7z"/><path color="#00ff00" d="M179.2 95l-6.1 1.7-7.2 1.4-8.1 1-.7 1.2 7.8-1 7.1-1.3 5.9-1.7z"/><path color="#00ffa9" d="M131.4 108.9l-7.2 .1-7.4-.1-7.3-.3 .6 1.1 7 .3 7.2 .2 7-.1z"/><path color="#00ff00" d="M107.9 105.1l-7.8-.6-7.3-.9-6.5-1.3 1.1 1.2 6.3 1.3 7.2 .9 7.6 .6z"/><path color="#00ff00" d="M154.2 105.2l-7.4 .7-7.5 .4-7.6 .3-.1 1.2 7.4-.3 7.3-.5 7.1-.7z"/><path color="#00ff00" d="M180.4 93.7l-6.2 1.8-7.4 1.3-8.3 1-.7 1.3 8.1-1 7.2-1.4 6.1-1.7z"/><path color="#00ff32" d="M131.6 107.8l-7.5 .1-7.6-.1-7.5-.4 .5 1.2 7.3 .3 7.4 .1 7.2-.1z"/><path color="#00ff00" d="M107.4 103.9l-8-.6-7.6-.9-6.6-1.4 1.1 1.3 6.5 1.3 7.3 .9 7.8 .6z"/><path color="#32ff00" d="M181.7 92.4l-6.4 1.8-7.6 1.4-8.4 1-.8 1.2 8.3-1 7.4-1.3 6.2-1.8z"/><path color="#00ff00" d="M154.9 104l-7.5 .7-7.8 .5-7.8 .2-.1 1.2 7.6-.3 7.5-.4 7.4-.7z"/><path color="#00ff00" d="M131.7 106.6l-7.7 .1-7.8-.1-7.7-.3 .5 1.1 7.5 .4 7.6 .1 7.5-.1z"/><path color="#00ff00" d="M106.9 102.7l-8.3-.6-7.7-.9-6.9-1.4 1.2 1.2 6.6 1.4 7.6 .9 8 .6z"/><path color="#8cff00" d="M182.3 91.8l-5.8 1.1-7.9 1.4-8.6 1-.7 1.3 8.4-1 7.6-1.4 6.4-1.8z"/><path color="#00ff00" d="M155.7 102.8l-7.8 .7-8 .5-8 .3-.1 1.1 7.8-.2 7.8-.5 7.5-.7z"/><path color="#00ff00" d="M131.8 105.4l-7.9 .1-8-.1-8-.3 .6 1.2 7.7 .3 7.8 .1 7.7-.1z"/><path color="#00ff00" d="M106.4 101.5l-8.5-.6-8-1-7-1.3 1.1 1.2 6.9 1.4 7.7 .9 8.3 .6z"/><path color="#00ff00" d="M156.4 101.5l-8 .8-8.1 .5-8.3 .2-.1 1.3 8-.3 8-.5 7.8-.7z"/><path color="#dbff00" d="M182.3 91.8l-5.6 .8-7.2 .4-8.8 1-.7 1.3 8.6-1 7.9-1.4z"/><path color="#00ff00" d="M131.9 104.3l-8.1 .1-8.2-.1-8.2-.4 .5 1.2 8 .3 8 .1 7.9-.1z"/><path color="#00ff00" d="M105.9 100.3l-8.7-.6-8.2-1-7.2-1.4 1.1 1.3 7 1.3 8 1 8.5 .6z"/><path color="#00ff00" d="M157.1 100.3l-8.2 .7-8.3 .5-8.5 .3-.1 1.2 8.3-.2 8.1-.5 8-.8z"/><path color="#00ff00" d="M132 103l-8.3 .2-8.4-.1-8.4-.4 .5 1.2 8.2 .4 8.2 .1 8.1-.1z"/><path color="#00ff00" d="M105.4 99.1l-9-.6-8.4-1-7.3-1.5 1.1 1.3 7.2 1.4 8.2 1 8.7 .6z"/><path color="#00ff00" d="M157.8 99.1l-8.4 .7-8.5 .5-8.7 .3-.1 1.2 8.5-.3 8.3-.5 8.2-.7z"/><path color="#00ff00" d="M132.1 101.8l-8.5 .1-8.6 0-8.6-.4 .5 1.2 8.4 .4 8.4 .1 8.3-.2z"/><path color="#32ff00" d="M104.8 97.9l-9.1-.7-8.6-1-7.6-1.4 1.2 1.2 7.3 1.5 8.4 1 9 .6z"/><path color="#00ff00" d="M158.5 97.8l-8.5 .8-8.8 .5-8.8 .3-.2 1.2 8.7-.3 8.5-.5 8.4-.7z"/><path color="#00ff00" d="M132.2 100.6l-8.7 .1-8.8-.1-8.8-.3 .5 1.2 8.6 .4 8.6 0 8.5-.1z"/><path color="#8cff00" d="M104.3 96.6l-9.3-.6-8.8-1-7.2-.9 .5 .7 7.6 1.4 8.6 1 9.1 .7z"/><path color="#ffff00" d="M176.7 92.6l-6.3-.9-9 1.1-9.4 .7-.5 1.3 9.2-.8 8.8-1z"/><path color="#32ff00" d="M159.3 96.6l-8.8 .7-9 .5-9 .3-.1 1.3 8.8-.3 8.8-.5 8.5-.8z"/><path color="#ffff00" d="M176.7 92.6l-6-1.3-8.6 .2-9.6 .7-.5 1.3 9.4-.7 9-1.1z"/><path color="#00ff00" d="M132.4 99.4l-9 .1-9-.1-9-.3 .5 1.2 8.8 .3 8.8 .1 8.7-.1z"/><path color="#dbff00" d="M103.8 95.3l-9.5-.6-8.3 0-7-.6 7.2 .9 8.8 1 9.3 .6z"/><path color="#8cff00" d="M160 95.3l-9 .8-9.2 .5-9.2 .3-.1 1.2 9-.3 9-.5 8.8-.7z"/><path color="#32ff00" d="M132.5 98.1l-9.2 .2-9.2-.1-9.3-.3 .6 1.2 9 .3 9 .1 9-.1z"/><path color="#dbff00" d="M160.7 94l-9.2 .8-9.4 .5-9.4 .3-.1 1.3 9.2-.3 9.2-.5 9-.8z"/><path color="#ffff00" d="M93.5 93.4l-7.5 1.3 8.3 0z"/><path color="#ffff00" d="M93.3 93l-7.3 1.7 7.5-1.3z"/><path color="#8cff00" d="M132.6 96.9l-9.3 .1-9.5-.1-9.5-.3 .5 1.3 9.3 .3 9.2 .1 9.2-.2z"/><path color="#ffff00" d="M170.7 91.3l-7.9-1.1-9.8 .7-10 .5-.3 1.3 9.8-.5 9.6-.7z"/><path color="#dbff00" d="M132.7 95.6l-9.5 .1-9.7 0-9.7-.4 .5 1.3 9.5 .3 9.5 .1 9.3-.1z"/><path color="#ffff00" d="M152 93.5l-9.6 .5-9.6 .3-9.7 .2 .1 1.2 9.5-.1 9.4-.3 9.4-.5z"/><path color="#ffff00" d="M123.1 94.5l-9.9-.1-9.9-.3-9.8-.7 .8 1.3 9.5 .6 9.7 .4 9.7 0z"/><path color="#fff100" d="M170.7 91.3l-7.2-2.5-10 .8-10.2 .5-.3 1.3 10-.5 9.8-.7z"/><path color="#ffff00" d="M152.5 92.2l-9.8 .5-9.8 .3-9.9 .2 .1 1.3 9.7-.2 9.6-.3 9.6-.5z"/><path color="#ffdb00" d="M170.7 91.3l-6.5-3.8-10.2 .8-10.4 .5-.3 1.3 10.2-.5 10-.8z"/><path color="#ffff00" d="M123 93.2l-10-.1-10.2-.3-9.5 .2 .2 .4 9.8 .7 9.9 .3 9.9 .1z"/><path color="#ffc400" d="M170.7 91.3l-6.5-3.8-9.7-.6-10.6 .6-.3 1.3 10.4-.5 10.2-.8z"/><path color="#ffff00" d="M112.7 91.8l-10.4-.3-9 1.5 9.5-.2 10.2 .3z"/><path color="#ffff00" d="M143 91.4l-10 .3-10.1 .2-10.2-.1 .3 1.3 10 .1 9.9-.2 9.8-.3z"/><path color="#fff100" d="M112.4 90.5l-10.6-.3-8.5 2.8 9-1.5 10.4 .3z"/><path color="#fff100" d="M143.3 90.1l-10.2 .3-10.3 .2-10.4-.1 .3 1.3 10.2 .1 10.1-.2 10-.3z"/><path color="#ffdb00" d="M112.1 89.2l-10.8-.3-8 4.1 8.5-2.8 10.6 .3z"/><path color="#ffc400" d="M111.8 87.9l-10.5 1-8 4.1 8-4.1 10.8 .3z"/><path color="#ffdb00" d="M143.6 88.8l-10.4 .3-10.5 .2-10.6-.1 .3 1.3 10.4 .1 10.3-.2 10.2-.3z"/><path color="#ffaa00" d="M164.2 87.5l-9.2-1.9-10.8 .5-10.8 .3-.1 1.4 10.6-.3 10.6-.6z"/><path color="#ffc400" d="M143.9 87.5l-10.6 .3-10.7 .1-10.8 0 .3 1.3 10.6 .1 10.5-.2 10.4-.3z"/><path color="#ff9000" d="M164.2 87.5l-8.7-3.2-11 .5-11 .3-.1 1.3 10.8-.3 10.8-.5z"/><path color="#ff7600" d="M164.2 87.5l-8.3-4.6-11.1 .5-11.1 .3-.2 1.4 11-.3 11-.5z"/><path color="#ffaa00" d="M133.4 86.4l-10.8 .2-11.1-.1-10.2 2.4 10.5-1 10.8 0 10.7-.1z"/><path color="#ff5d00" d="M164.2 87.5l-7.8-6-11.3 .5-11.3 .4-.1 1.3 11.1-.3 11.1-.5z"/><path color="#ff9000" d="M133.5 85.1l-11 .1-11.3 0-9.9 3.7 10.2-2.4 11.1 .1 10.8-.2z"/><path color="#ff4300" d="M164.2 87.5l-7.5-6.6-11.3-.2-11.5 .3-.1 1.4 11.3-.4 11.3-.5z"/><path color="#ff7600" d="M133.7 83.7l-11.3 .2-11.5-.1-9.6 5.1 9.9-3.7 11.3 0 11-.1z"/><path color="#ff5d00" d="M133.8 82.4l-11.5 .1-11.7 0-9.3 6.4 9.6-5.1 11.5 .1 11.3-.2z"/><path color="#ff4300" d="M133.9 81l-11.7 .2-11.7 .6-9.2 7.1 9.3-6.4 11.7 0 11.5-.1z"/><path color="#ff2800" d="M156.7 80.9l-11-1.6-11.7 .3-11.9 .2 .1 1.4 11.7-.2 11.5-.3z"/><path color="#ff2800" d="M122.1 79.8l-11.6 2 11.7-.6z"/><path color="#ff0500" d="M156.7 80.9l-10.7-3-11.9 .3-12.1 .2 .1 1.4 11.9-.2 11.7-.3z"/><path color="#ff0500" d="M122 78.4l-11.5 3.4 11.6-2z"/><path color="#ff0000" d="M156.7 80.9l-10.4-4.4-12.1 .3-12.3 .2 .1 1.4 12.1-.2 11.9-.3z"/><path color="#ff0000" d="M121.9 77l-11.4 4.8 11.5-3.4z"/><path color="#ff0000" d="M156.7 80.9l-10.1-5.8-12.3 .3-12.4 .2 0 1.4 12.3-.2 12.1-.3z"/><path color="#ff0000" d="M121.9 75.6l-11.4 6.2 11.4-4.8z"/><path color="#ff0000" d="M156.7 80.9l-9.8-7.2-12.5 .3-12.6 .1 .1 1.5 12.4-.2 12.3-.3z"/><path color="#ff0000" d="M121.8 74.1l-11.3 7.7 11.4-6.2z"/><path color="#ff0000" d="M121.7 72.7l-11.2 9.1 11.3-7.7z"/><path color="#ff0000" d="M156.7 80.9l-9.5-8.7-12.7 .4-12.8 .1 .1 1.4 12.6-.1 12.5-.3z"/><path color="#ff0000" d="M121.6 71.3l-11.1 10.5 11.2-9.1z"/><path color="#ff0000" d="M156.7 80.9l-9.2-10.1-12.9 .3-13 .2 .1 1.4 12.8-.1 12.7-.4z"/><path color="#ff0000" d="M121.6 71l-11.1 10.8 11.1-10.5z"/><path color="#ff0000" d="M156.7 80.9l-9.1-10.4-12.9-.8-13.1 1.3 0 .3 13-.2 12.9-.3z"/><path color="#ff0000" d="M147.6 70.5l-12.8-2.3-13.2 2.8 13.1-1.3z"/><path color="#ff0000" d="M147.6 70.5l-12.7-3.8-13.3 4.3 13.2-2.8z"/><path color="#ff0000" d="M147.6 70.5l-12.6-5.2-13.4 5.7 13.3-4.3z"/><path color="#ff0000" d="M147.6 70.5l-12.5-6.7-13.5 7.2 13.4-5.7z"/><path color="#ff0000" d="M147.6 70.5l-12.4-8.2-13.6 8.7 13.5-7.2z"/><path color="#ff0000" d="M147.6 70.5l-12.2-9.7-13.8 10.2 13.6-8.7z"/><path color="#ff0000" d="M147.6 70.5l-12.1-11.2-13.9 11.7 13.8-10.2z"/><path color="#ff0000" d="M147.6 70.5l-12-12.7-14 13.2 13.9-11.7z"/><path color="#ff0000" d="M147.6 70.5l-11.9-14.3-14.1 14.8 14-13.2z"/><path color="#f70000" d="M147.6 70.5l-11.8-15.8-14.2 16.3 14.1-14.8z"/></g>
<polygon points="27,253.4 120.3,239.1 121.1,354.3 33.2,386.3" fill="#dde4f6"/>
<polygon points="120.3,239.1 223.5,251.3 218.6,380.3 121.1,354.3" fill="#dde4f6"/>
<path d="M38.9 251.6L44.4 382.3M130.5 240.4L130.8 356.9M50.4 249.8L55.1 378.3M141.1 241.6L140.8 359.5M61.5 248.1L65.5 374.6M151.9 242.9L151.1 362.3M72.1 246.5L75.5 370.9M163 244.2L161.6 365.1M82.4 244.9L85.3 367.4M174.4 245.5L172.4 368M92.4 243.4L94.6 363.9M186.1 246.9L183.5 370.9M102 241.9L103.7 360.6M198.2 248.3L194.9 374M111.3 240.5L112.5 357.4M210.7 249.8L206.6 377.1M27.7 268.9L120.4 252.5 222.9 266.4M28.5 284.3L120.5 265.7 222.3 281.2M29.2 299.4L120.6 278.8 221.8 295.9M29.9 314.4L120.7 291.8 221.3 310.4M30.6 329.2L120.7 304.5 220.7 324.8M31.2 343.7L120.8 317.2 220.2 338.9M31.9 358.1L120.9 329.7 219.7 352.9M32.6 372.3L121 342.1 219.1 366.7" fill="none" stroke="#d5dbef" stroke-width=".5"/>
<polyline points="33.2,386.3 27,253.4 120.3,239.1 223.5,251.3 218.6,380.3" fill="none" stroke="#9a9aae" stroke-width=".6"/>
<path d="M120.3 239.1L121.1 354.3" stroke="#9a9aae" stroke-width=".6"/>
<mask id="fcc" maskUnits="userSpaceOnUse" x="0" y="0" width="550" height="464"><polygon points="33.2,386.3 121.1,354.3 218.6,380.3 135.8,422" fill="#fff"/></mask><g mask="url(#fcc)">
<polygon points="26.9,386.5 120.7,352.6 224.6,380.1 136.5,425" fill="#bd0000"/>
<polygon points="169.4,365.5 176.3,367.3 183.5,369.2 191.4,371.3 200.4,373.7 211.1,376.5 217.4,380.3 215.9,384.5 208.5,388.3 202,391.6 196,394.7 190.2,397.6 184.6,400.5 178.7,403.5 172.6,406.6 165.7,410.1 157.9,414.1 148.5,418.9 135.7,421.4 121.9,419.9 110.4,415.9 100.9,412.5 92.5,409.6 84.8,406.9 77.6,404.3 70.5,401.9 63.2,399.3 55.7,396.7 47.4,393.8 38,390.5 34.6,386.3 39.4,382 49.3,378.4 57.5,375.4 64.7,372.8 71.3,370.5 77.5,368.2 83.6,366 89.7,363.8 96.2,361.5 103.3,358.9 111.2,356 121.1,354.6 131.5,355.5 140.6,357.9 148.5,360 155.8,361.9 162.6,363.7" fill="#de0000"/>
<polygon points="169.4,365.5 176.3,367.3 183.5,369.2 191.4,371.3 200.4,373.7 211.1,376.5 216.2,380.4 215.9,384.5 208.5,388.3 202,391.6 196,394.7 190.2,397.6 184.6,400.5 178.7,403.5 172.6,406.6 165.7,410.1 157.9,414.1 148.5,418.9 135.5,420.7 121.9,419.9 110.4,415.9 100.9,412.5 92.5,409.6 84.8,406.9 77.6,404.3 70.5,401.9 63.2,399.3 55.7,396.7 47.4,393.8 38,390.5 35.9,386.2 39.4,382 49.3,378.4 57.5,375.4 64.7,372.8 71.3,370.5 77.5,368.2 83.6,366 89.7,363.8 96.2,361.5 103.3,358.9 111.2,356 121.2,355 131.5,355.5 140.6,357.9 148.5,360 155.8,361.9 162.6,363.7" fill="#f40000"/>
<polygon points="169.4,365.5 176.3,367.3 183.5,369.2 191.4,371.3 200.4,373.7 211.1,376.5 214.9,380.4 215.9,384.5 208.5,388.3 202,391.6 196,394.7 190.2,397.6 184.6,400.5 178.7,403.5 172.6,406.6 165.7,410.1 157.9,414.1 148.5,418.9 135.4,420.1 121.9,419.9 110.4,415.9 100.9,412.5 92.5,409.6 84.8,406.9 77.6,404.3 70.5,401.9 63.2,399.3 55.7,396.7 47.4,393.8 38,390.5 37.2,386.2 39.4,382 49.3,378.4 57.5,375.4 64.7,372.8 71.3,370.5 77.5,368.2 83.6,366 89.7,363.8 96.2,361.5 103.3,358.9 111.2,356 121.3,355.3 131.5,355.5 140.6,357.9 148.5,360 155.8,361.9 162.6,363.7" fill="#ff0000"/>
<polygon points="169.4,365.5 176.3,367.3 183.5,369.2 191.4,371.3 200.4,373.7 211.1,376.5 213.6,380.5 215.9,384.5 208.5,388.3 202,391.6 196,394.7 190.2,397.6 184.6,400.5 178.7,403.5 172.6,406.6 165.7,410.1 157.9,414.1 148.5,418.9 135.3,419.5 121.9,419.9 110.4,415.9 100.9,412.5 92.5,409.6 84.8,406.9 77.6,404.3 70.5,401.9 63.2,399.3 55.7,396.7 47.4,393.8 38.1,390.5 38.5,386.2 39.4,382 49.3,378.4 57.5,375.4 64.7,372.8 71.3,370.5 77.5,368.2 83.6,366 89.7,363.8 96.2,361.5 103.3,358.9 111.2,356 121.4,355.7 131.5,355.5 140.6,357.9 148.5,360 155.8,361.9 162.6,363.7" fill="#ff0000"/>
<polygon points="169.4,365.5 176.3,367.3 183.5,369.2 191.4,371.3 200.4,373.7 209.9,376.6 212.4,380.5 214.5,384.5 208.5,388.3 202,391.6 196,394.7 190.2,397.6 184.6,400.5 178.7,403.5 172.6,406.6 165.7,410.1 157.9,414.1 148.1,418.3 135.1,418.9 122,419.3 110.4,415.9 100.9,412.5 92.5,409.6 84.8,406.9 77.6,404.3 70.5,401.9 63.2,399.3 55.7,396.7 47.4,393.8 39.4,390.3 39.9,386.1 40.7,382 49.3,378.4 57.5,375.4 64.7,372.8 71.3,370.5 77.5,368.2 83.6,366 89.7,363.8 96.2,361.5 103.3,358.9 111.5,356.4 121.5,356.1 131.5,355.8 140.6,357.9 148.5,360 155.8,361.9 162.6,363.7" fill="#ff0000"/>
<polygon points="169.4,365.5 176.3,367.3 183.5,369.2 191.4,371.3 200.4,373.7 208.7,376.7 211.1,380.5 213.2,384.5 208.5,388.3 202,391.6 196,394.7 190.2,397.6 184.6,400.5 178.7,403.5 172.6,406.6 165.7,410.1 157.9,414.1 147.8,417.7 135,418.3 122.1,418.6 110.4,415.9 100.9,412.5 92.5,409.6 84.8,406.9 77.6,404.3 70.5,401.9 63.2,399.3 55.7,396.7 47.4,393.8 40.8,390.2 41.2,386.1 42.1,382 49.3,378.4 57.5,375.4 64.7,372.8 71.3,370.5 77.5,368.2 83.6,366 89.7,363.8 96.2,361.5 103.3,358.9 111.7,356.8 121.5,356.4 131.4,356.2 140.6,357.9 148.5,360 155.8,361.9 162.6,363.7" fill="#ff0000"/>
<polygon points="169.4,365.5 176.3,367.3 183.5,369.2 191.4,371.3 200.4,373.7 207.4,376.8 209.8,380.6 211.9,384.5 208.5,388.3 202,391.6 196,394.7 190.2,397.6 184.6,400.5 178.7,403.5 172.6,406.6 165.7,410.1 157.9,414.1 147.4,417 134.9,417.6 122.2,418 110.4,415.9 100.9,412.5 92.5,409.6 84.8,406.9 77.6,404.3 70.5,401.9 63.2,399.3 55.7,396.7 47.4,393.8 42.2,390.1 42.6,386 43.4,382.1 49.3,378.4 57.5,375.4 64.7,372.8 71.3,370.5 77.5,368.2 83.6,366 89.7,363.8 96.2,361.5 103.3,358.9 111.9,357.1 121.6,356.8 131.3,356.6 140.6,357.9 148.5,360 155.8,361.9 162.6,363.7" fill="#ff0000"/>
<polygon points="169.4,365.5 176.3,367.3 183.5,369.2 191.4,371.3 200.4,373.7 206.2,376.9 208.6,380.6 210.6,384.5 208.5,388.3 202,391.6 196,394.7 190.2,397.6 184.6,400.5 178.7,403.5 172.6,406.6 165.7,410.1 157.9,414.1 147,416.4 134.7,417 122.3,417.4 110.4,415.9 100.9,412.5 92.5,409.6 84.8,406.9 77.6,404.3 70.5,401.9 63.2,399.3 55.7,396.7 47.4,393.8 43.6,390 43.9,386 44.7,382.1 49.3,378.4 57.5,375.4 64.7,372.8 71.3,370.5 77.5,368.2 83.6,366 89.7,363.8 96.2,361.5 103.3,358.9 112.1,357.5 121.7,357.2 131.3,357 140.6,357.9 148.5,360 155.8,361.9 162.6,363.7" fill="#ff0000"/>
<polygon points="169.4,365.5 176.3,367.3 183.5,369.2 191.4,371.3 200.4,373.7 205,377 207.3,380.7 209.2,384.4 208.5,388.3 202,391.6 196,394.7 190.2,397.6 184.6,400.5 178.7,403.5 172.6,406.6 165.7,410.1 157.9,414.1 146.7,415.8 134.6,416.4 122.4,416.8 110.4,415.9 100.9,412.5 92.5,409.6 84.8,406.9 77.6,404.3 70.5,401.9 63.2,399.3 55.7,396.7 47.4,393.8 45,389.9 45.3,385.9 46,382.1 49.3,378.4 57.5,375.4 64.7,372.8 71.3,370.5 77.5,368.2 83.6,366 89.7,363.8 96.2,361.5 103.3,358.9 112.3,357.9 121.8,357.5 131.2,357.3 140.6,357.9 148.5,360 155.8,361.9 162.6,363.7" fill="#ff0000"/>
<polygon points="169.4,365.5 176.3,367.3 183.5,369.2 191.4,371.3 200.4,373.7 203.7,377.1 206,380.7 207.9,384.4 208.5,388.3 202,391.6 196,394.7 190.2,397.6 184.6,400.5 178.7,403.5 172.6,406.6 165.7,410.1 157.9,414.1 146.3,415.2 134.4,415.8 122.5,416.1 110.4,415.9 100.9,412.5 92.5,409.6 84.8,406.9 77.6,404.3 70.5,401.9 63.2,399.3 55.7,396.7 47.4,393.8 46.4,389.8 46.6,385.9 47.4,382.1 49.3,378.4 57.5,375.4 64.7,372.8 71.3,370.5 77.5,368.2 83.6,366 89.7,363.8 96.2,361.5 103.3,358.9 112.5,358.2 121.9,357.9 131.2,357.7 140.6,357.9 148.5,360 155.8,361.9 162.6,363.7" fill="#ff0000"/>
<polygon points="169.4,365.5 176.3,367.3 183.5,369.2 191.4,371.3 199.8,373.8 202.5,377.2 204.7,380.7 206.5,384.4 207.9,388.3 202,391.6 196,394.7 190.2,397.6 184.6,400.5 178.7,403.5 172.6,406.6 165.7,410.1 157.6,413.8 146,414.6 134.3,415.2 122.6,415.5 110.6,415.6 100.9,412.5 92.5,409.6 84.8,406.9 77.6,404.3 70.5,401.9 63.2,399.3 55.7,396.7 48.1,393.7 47.8,389.7 48,385.9 48.7,382.1 49.9,378.5 57.5,375.4 64.7,372.8 71.3,370.5 77.5,368.2 83.6,366 89.7,363.8 96.2,361.5 103.4,359.1 112.8,358.6 121.9,358.3 131.1,358.1 140.5,358 148.5,360 155.8,361.9 162.6,363.7" fill="#ff0000"/>
<polygon points="169.4,365.5 176.3,367.3 183.5,369.2 191.4,371.3 198.6,373.9 201.2,377.3 203.4,380.8 205.1,384.4 206.5,388.2 202,391.6 196,394.7 190.2,397.6 184.6,400.5 178.7,403.5 172.6,406.6 165.7,410.1 157.1,413.2 145.6,414 134.2,414.5 122.7,414.9 110.9,415 100.9,412.5 92.5,409.6 84.8,406.9 77.6,404.3 70.5,401.9 63.2,399.3 55.7,396.7 49.5,393.5 49.2,389.6 49.4,385.8 50.1,382.2 51.2,378.5 57.5,375.4 64.7,372.8 71.3,370.5 77.5,368.2 83.6,366 89.7,363.8 96.2,361.5 103.8,359.5 113,359 122,358.7 131.1,358.5 140.3,358.4 148.5,360 155.8,361.9 162.6,363.7" fill="#ff0000"/>
<polygon points="169.4,365.5 176.3,367.3 183.5,369.2 191.4,371.3 197.4,374.1 200,377.4 202.1,380.8 203.8,384.4 205,388.1 202,391.6 196,394.7 190.2,397.6 184.6,400.5 178.7,403.5 172.6,406.6 165.7,410.1 156.5,412.6 145.2,413.4 134,413.9 122.8,414.2 111.3,414.3 100.9,412.5 92.5,409.6 84.8,406.9 77.6,404.3 70.5,401.9 63.2,399.3 55.7,396.7 51,393.3 50.6,389.4 50.8,385.8 51.4,382.2 52.6,378.6 57.5,375.4 64.7,372.8 71.3,370.5 77.5,368.2 83.6,366 89.7,363.8 96.2,361.5 104.2,359.9 113.2,359.4 122.1,359.1 131,358.9 140.1,358.8 148.5,360 155.8,361.9 162.6,363.7" fill="#ff0000"/>
<polygon points="169.4,365.5 176.3,367.3 183.5,369.2 191.4,371.3 196.2,374.2 198.7,377.5 200.7,380.9 202.4,384.3 203.6,388 202,391.6 196,394.7 190.2,397.6 184.6,400.5 178.7,403.5 172.6,406.6 165.7,410.1 155.9,412 144.9,412.8 133.9,413.3 122.9,413.6 111.6,413.7 100.9,412.5 92.5,409.6 84.8,406.9 77.6,404.3 70.5,401.9 63.2,399.3 55.7,396.7 52.4,393.1 52,389.3 52.2,385.7 52.8,382.2 53.9,378.7 57.5,375.4 64.7,372.8 71.3,370.5 77.5,368.2 83.6,366 89.7,363.8 96.2,361.5 104.6,360.2 113.4,359.8 122.2,359.4 130.9,359.3 139.9,359.2 148.5,360 155.8,361.9 162.6,363.7" fill="#ff0b00"/>
<polygon points="169.4,365.5 176.3,367.3 183.5,369.2 191.4,371.3 194.9,374.4 197.4,377.6 199.4,380.9 201,384.3 202.1,387.9 202,391.6 196,394.7 190.2,397.6 184.6,400.5 178.7,403.5 172.6,406.6 165.7,410.1 155.3,411.4 144.5,412.1 133.8,412.7 123,413 111.9,413 100.9,412.5 92.5,409.6 84.8,406.9 77.6,404.3 70.5,401.9 63.2,399.3 55.7,396.7 53.9,392.9 53.5,389.2 53.6,385.7 54.2,382.2 55.3,378.8 57.5,375.4 64.7,372.8 71.3,370.5 77.5,368.2 83.6,366 89.7,363.8 96.2,361.5 104.9,360.6 113.7,360.2 122.3,359.8 130.9,359.7 139.6,359.6 148.5,360 155.8,361.9 162.6,363.7" fill="#ff3700"/>
<polygon points="169.4,365.5 176.3,367.3 183.5,369.2 190.7,371.4 193.7,374.6 196.1,377.7 198,381 199.6,384.3 200.6,387.8 201.1,391.5 196,394.7 190.2,397.6 184.6,400.5 178.7,403.5 172.6,406.6 165.2,409.7 154.7,410.8 144.1,411.5 133.6,412 123.1,412.3 112.3,412.4 101.2,412.1 92.5,409.6 84.8,406.9 77.6,404.3 70.5,401.9 63.2,399.3 56.6,396.5 55.4,392.7 54.9,389.1 55,385.6 55.6,382.2 56.6,378.9 58.3,375.5 64.7,372.8 71.3,370.5 77.5,368.2 83.6,366 89.7,363.8 96.5,361.7 105.3,361 113.9,360.6 122.4,360.2 130.8,360.1 139.4,360 148.3,360.2 155.8,361.9 162.6,363.7" fill="#ff5a00"/>
<polygon points="169.4,365.5 176.3,367.3 183.5,369.2 189.5,371.7 192.4,374.7 194.8,377.8 196.7,381 198.2,384.3 199.2,387.7 199.6,391.3 196,394.7 190.2,397.6 184.6,400.5 178.7,403.5 172.6,406.6 164.4,409.2 154.1,410.2 143.8,410.9 133.5,411.4 123.1,411.7 112.6,411.7 101.8,411.5 92.5,409.6 84.8,406.9 77.6,404.3 70.5,401.9 63.2,399.3 58.1,396.2 56.8,392.5 56.4,389 56.4,385.6 57,382.3 58,379 59.7,375.7 64.7,372.8 71.3,370.5 77.5,368.2 83.6,366 89.7,363.8 97.1,362.1 105.7,361.4 114.2,361 122.5,360.6 130.8,360.5 139.2,360.5 147.9,360.6 155.8,361.9 162.6,363.7" fill="#ff7d00"/>
<polygon points="169.4,365.5 176.3,367.3 183.5,369.2 188.2,371.9 191.2,374.9 193.5,377.9 195.3,381.1 196.7,384.3 197.7,387.6 198,391.2 196,394.7 190.2,397.6 184.6,400.5 178.7,403.5 172.6,406.6 163.5,408.6 153.5,409.6 143.4,410.3 133.4,410.8 123.2,411 112.9,411.1 102.4,410.8 92.5,409.6 84.8,406.9 77.6,404.3 70.5,401.9 63.2,399.3 59.6,395.9 58.3,392.3 57.8,388.9 57.9,385.5 58.4,382.3 59.4,379.1 61,375.8 64.7,372.8 71.3,370.5 77.5,368.2 83.6,366 89.7,363.8 97.7,362.5 106.1,361.8 114.4,361.4 122.5,361.1 130.7,360.9 139,360.9 147.5,361.1 155.8,361.9 162.6,363.7" fill="#ffa000"/>
<polygon points="169.4,365.5 176.3,367.3 183.3,369.3 187,372.1 189.9,375.1 192.1,378.1 193.9,381.1 195.3,384.2 196.2,387.5 196.5,391 195.7,394.6 190.2,397.6 184.6,400.5 178.7,403.5 172.4,406.5 162.7,408 152.8,409 143,409.7 133.2,410.1 123.3,410.4 113.3,410.4 103,410.2 92.6,409.5 84.8,406.9 77.6,404.3 70.5,401.9 63.5,399.2 61.1,395.6 59.8,392.1 59.3,388.7 59.3,385.5 59.8,382.3 60.8,379.1 62.4,376 65,372.9 71.3,370.5 77.5,368.2 83.6,366 89.9,363.9 98.3,362.9 106.5,362.2 114.6,361.8 122.6,361.5 130.6,361.3 138.8,361.3 147.1,361.5 155.6,362 162.6,363.7" fill="#ffc300"/>
<polygon points="169.4,365.5 176.3,367.3 182.1,369.6 185.8,372.4 188.6,375.2 190.8,378.2 192.5,381.1 193.9,384.2 194.7,387.4 194.9,390.8 194.1,394.4 190.2,397.6 184.6,400.5 178.7,403.5 171.2,405.9 161.8,407.4 152.2,408.4 142.7,409.1 133.1,409.5 123.4,409.8 113.6,409.8 103.6,409.5 93.5,408.8 84.8,406.9 77.6,404.3 70.5,401.9 65.1,398.9 62.7,395.4 61.3,391.9 60.8,388.6 60.8,385.4 61.2,382.3 62.2,379.2 63.8,376.2 66.3,373.1 71.3,370.5 77.5,368.2 83.6,366 90.7,364.3 98.8,363.3 106.9,362.6 114.9,362.2 122.7,361.9 130.6,361.7 138.6,361.7 146.7,361.9 155.1,362.4 162.6,363.7" fill="#ffe200"/>
<polygon points="169.4,365.5 176.1,367.4 180.9,369.9 184.5,372.6 187.3,375.4 189.4,378.3 191.1,381.2 192.4,384.2 193.2,387.3 193.3,390.6 192.5,394.1 190,397.6 184.6,400.5 178.6,403.4 170.1,405.4 161,406.8 151.6,407.7 142.3,408.4 132.9,408.9 123.5,409.1 114,409.1 104.2,408.8 94.4,408.1 85,406.8 77.6,404.3 70.7,401.8 66.6,398.5 64.2,395.1 62.9,391.7 62.3,388.5 62.2,385.4 62.7,382.3 63.6,379.3 65.2,376.3 67.7,373.3 71.5,370.5 77.5,368.2 83.7,366.1 91.5,364.7 99.4,363.7 107.4,363.1 115.1,362.6 122.8,362.3 130.5,362.2 138.3,362.2 146.3,362.4 154.5,362.8 162.5,363.8" fill="#ffff00"/>
<polygon points="169,365.7 175,367.7 179.7,370.2 183.2,372.8 186,375.6 188.1,378.4 189.7,381.2 190.9,384.2 191.6,387.2 191.7,390.5 190.8,393.8 188.4,397.2 183.9,400.3 177.2,402.9 169,404.8 160.1,406.2 151,407.1 141.9,407.8 132.8,408.2 123.6,408.5 114.3,408.5 104.8,408.2 95.2,407.5 86.1,406.2 78.2,404.1 72.2,401.3 68.2,398.1 65.8,394.8 64.4,391.5 63.8,388.4 63.7,385.3 64.1,382.4 65,379.4 66.6,376.5 69.1,373.6 72.8,370.8 78,368.4 84.7,366.5 92.2,365.1 100,364.1 107.8,363.5 115.4,363 122.9,362.7 130.5,362.6 138.1,362.6 145.9,362.8 153.9,363.3 161.7,364.2" fill="#ffff00"/>
<polygon points="168,366.1 173.9,368.1 178.5,370.5 181.9,373.1 184.6,375.8 186.7,378.5 188.3,381.3 189.4,384.2 190.1,387.2 190.1,390.3 189.2,393.6 186.7,396.8 182.3,399.8 175.8,402.3 167.9,404.2 159.2,405.6 150.4,406.5 141.5,407.2 132.7,407.6 123.7,407.8 114.6,407.8 105.4,407.5 96.1,406.8 87.3,405.5 79.6,403.5 73.7,400.8 69.7,397.7 67.3,394.5 65.9,391.3 65.3,388.3 65.2,385.3 65.6,382.4 66.5,379.5 68,376.6 70.5,373.8 74.1,371.1 79.2,368.7 85.7,366.9 93.1,365.5 100.6,364.6 108.2,363.9 115.6,363.5 123,363.2 130.4,363 137.9,363 145.5,363.3 153.3,363.7 160.9,364.6" fill="#ffff00"/>
<polygon points="167,366.5 172.7,368.5 177.2,370.8 180.6,373.3 183.3,375.9 185.3,378.6 186.8,381.3 187.9,384.1 188.5,387.1 188.5,390.1 187.5,393.3 185.1,396.4 180.7,399.4 174.4,401.8 166.7,403.6 158.4,404.9 149.8,405.9 141.2,406.5 132.5,406.9 123.8,407.2 115,407.1 106,406.9 97,406.1 88.4,404.9 80.9,402.9 75.2,400.3 71.3,397.3 68.9,394.2 67.5,391.1 66.8,388.1 66.7,385.2 67.1,382.4 68,379.6 69.5,376.8 71.9,374 75.4,371.4 80.4,369.1 86.8,367.3 93.9,365.9 101.3,365 108.6,364.3 115.9,363.9 123.1,363.6 130.3,363.5 137.6,363.5 145.1,363.7 152.7,364.2 160.1,365.1" fill="#9dff00"/>
<polygon points="165.9,366.9 171.6,368.8 176,371.1 179.3,373.6 181.9,376.1 183.9,378.7 185.4,381.4 186.4,384.1 187,387 186.9,389.9 185.9,393 183.4,396.1 179.2,398.9 173,401.2 165.6,403 157.5,404.3 149.2,405.2 140.8,405.9 132.4,406.3 123.9,406.5 115.3,406.5 106.6,406.2 97.9,405.5 89.6,404.2 82.3,402.3 76.7,399.8 72.9,396.9 70.5,393.9 69.1,390.9 68.4,388 68.2,385.2 68.6,382.4 69.5,379.7 71,377 73.3,374.3 76.8,371.7 81.7,369.5 87.8,367.7 94.7,366.4 101.9,365.4 109.1,364.8 116.2,364.3 123.2,364.1 130.3,363.9 137.4,364 144.7,364.2 152.1,364.7 159.3,365.6" fill="#24ff00"/>
<polygon points="164.9,367.4 170.4,369.2 174.7,371.4 178,373.8 180.5,376.3 182.4,378.8 183.9,381.4 184.9,384.1 185.4,386.9 185.2,389.7 184.2,392.7 181.8,395.7 177.6,398.4 171.7,400.7 164.5,402.4 156.6,403.7 148.5,404.6 140.4,405.2 132.2,405.6 124,405.8 115.7,405.8 107.2,405.5 98.8,404.8 90.8,403.6 83.7,401.7 78.3,399.3 74.5,396.5 72.1,393.6 70.7,390.7 70,387.9 69.8,385.1 70.1,382.4 71,379.8 72.4,377.1 74.7,374.5 78.2,372 82.9,369.9 88.8,368.1 95.5,366.8 102.5,365.9 109.5,365.2 116.4,364.8 123.3,364.5 130.2,364.4 137.2,364.4 144.3,364.6 151.4,365.1 158.5,366" fill="#00ff00"/>
<polygon points="163.9,367.8 169.2,369.6 173.4,371.7 176.6,374.1 179.1,376.5 181,379 182.4,381.5 183.3,384.1 183.8,386.8 183.6,389.6 182.5,392.4 180.1,395.3 176,397.9 170.3,400.1 163.3,401.8 155.7,403.1 147.9,404 140,404.6 132.1,405 124.1,405.2 116,405.1 107.8,404.8 99.7,404.1 91.9,402.9 85.1,401.1 79.8,398.8 76.1,396.1 73.7,393.3 72.3,390.5 71.5,387.8 71.4,385.1 71.7,382.5 72.5,379.9 73.9,377.3 76.2,374.7 79.5,372.3 84.1,370.2 89.9,368.5 96.4,367.2 103.2,366.3 110,365.7 116.7,365.3 123.4,365 130.1,364.9 136.9,364.9 143.8,365.1 150.8,365.6 157.6,366.5" fill="#00ff00"/>
<polygon points="162.8,368.3 168,370 172.1,372.1 175.2,374.3 177.7,376.7 179.5,379.1 180.8,381.5 181.7,384 182.1,386.7 181.9,389.4 180.8,392.2 178.4,394.9 174.4,397.5 168.9,399.6 162.1,401.2 154.8,402.5 147.3,403.3 139.6,403.9 132,404.3 124.2,404.5 116.4,404.5 108.5,404.1 100.6,403.5 93.1,402.3 86.5,400.5 81.4,398.3 77.7,395.7 75.3,393 73.9,390.3 73.1,387.6 72.9,385 73.2,382.5 74,380 75.5,377.5 77.7,375 80.9,372.7 85.4,370.6 91,368.9 97.3,367.7 103.8,366.8 110.4,366.2 117,365.7 123.5,365.5 130,365.3 136.7,365.4 143.4,365.6 150.1,366.1 156.7,367" fill="#00ff00"/>
<polygon points="161.8,368.7 166.8,370.4 170.8,372.4 173.8,374.6 176.2,376.9 178,379.2 179.3,381.6 180.1,384 180.5,386.6 180.2,389.2 179,391.9 176.7,394.5 172.8,397 167.4,399 161,400.6 153.9,401.8 146.6,402.7 139.2,403.3 131.8,403.6 124.3,403.8 116.7,403.8 109.1,403.4 101.5,402.8 94.3,401.6 87.9,400 82.9,397.8 79.3,395.3 77,392.7 75.5,390.1 74.8,387.5 74.6,385 74.8,382.5 75.6,380.1 77,377.6 79.2,375.2 82.4,373 86.7,371 92.1,369.4 98.1,368.1 104.5,367.3 110.9,366.6 117.3,366.2 123.6,365.9 130,365.8 136.4,365.9 142.9,366.1 149.5,366.6 155.9,367.4" fill="#00ff00"/>
<polygon points="160.7,369.2 165.5,370.8 169.4,372.7 172.4,374.9 174.7,377.1 176.4,379.3 177.7,381.6 178.5,384 178.8,386.5 178.5,389 177.3,391.6 175,394.1 171.2,396.5 166,398.5 159.8,400 153,401.2 146,402 138.8,402.6 131.7,403 124.4,403.1 117.1,403.1 109.7,402.7 102.4,402.1 95.5,401 89.4,399.4 84.5,397.3 81,394.9 78.7,392.4 77.2,389.8 76.4,387.4 76.2,384.9 76.4,382.5 77.2,380.2 78.6,377.8 80.7,375.5 83.8,373.3 88,371.4 93.2,369.8 99,368.6 105.2,367.7 111.4,367.1 117.6,366.7 123.7,366.4 129.9,366.3 136.1,366.4 142.5,366.6 148.8,367.1 155,367.9" fill="#00ff00"/>
<polygon points="159.6,369.6 164.3,371.2 168,373.1 171,375.1 173.2,377.3 174.9,379.4 176.1,381.7 176.8,384 177.1,386.3 176.7,388.8 175.5,391.3 173.2,393.7 169.6,396 164.6,397.9 158.6,399.4 152.1,400.6 145.3,401.4 138.4,401.9 131.5,402.3 124.5,402.4 117.5,402.4 110.4,402 103.3,401.4 96.7,400.3 90.8,398.7 86.1,396.7 82.7,394.5 80.3,392 78.9,389.6 78.1,387.2 77.9,384.9 78.1,382.6 78.8,380.3 80.2,378 82.2,375.8 85.3,373.7 89.3,371.8 94.3,370.3 99.9,369.1 105.9,368.2 111.9,367.6 117.9,367.2 123.8,366.9 129.8,366.8 135.9,366.9 142,367.1 148.1,367.6 154.1,368.4" fill="#00ff68"/>
<polygon points="158.4,370.1 163,371.6 166.6,373.4 169.5,375.4 171.7,377.5 173.3,379.6 174.4,381.7 175.1,384 175.4,386.2 175,388.6 173.7,391 171.5,393.3 167.9,395.5 163.1,397.3 157.4,398.8 151.2,399.9 144.6,400.7 138,401.2 131.4,401.6 124.6,401.7 117.8,401.7 111,401.3 104.3,400.7 97.9,399.6 92.2,398.1 87.7,396.2 84.3,394 82.1,391.7 80.6,389.4 79.8,387.1 79.5,384.8 79.8,382.6 80.5,380.4 81.8,378.2 83.8,376 86.7,374 90.7,372.2 95.5,370.7 100.9,369.6 106.6,368.7 112.4,368.1 118.2,367.7 123.9,367.5 129.7,367.4 135.6,367.4 141.5,367.7 147.4,368.2 153.2,369" fill="#00ffd1"/>
<polygon points="157.3,370.6 161.7,372.1 165.2,373.8 168,375.7 170.1,377.7 171.7,379.7 172.8,381.8 173.4,383.9 173.6,386.1 173.2,388.4 171.9,390.7 169.7,392.9 166.3,395 161.7,396.8 156.2,398.2 150.2,399.2 144,400 137.6,400.5 131.2,400.9 124.7,401 118.2,400.9 111.7,400.6 105.2,400 99.1,399 93.7,397.5 89.3,395.7 86.1,393.6 83.8,391.4 82.4,389.2 81.6,387 81.3,384.8 81.5,382.6 82.2,380.5 83.4,378.3 85.4,376.3 88.3,374.3 92,372.6 96.6,371.2 101.8,370 107.3,369.2 112.9,368.6 118.5,368.2 124.1,368 129.7,367.9 135.3,368 141,368.2 146.7,368.7 152.2,369.5" fill="#00edff"/>
<polygon points="156.1,371.1 160.3,372.5 163.8,374.2 166.4,376 168.5,377.9 170,379.8 171.1,381.8 171.7,383.9 171.8,386 171.3,388.2 170.1,390.4 167.9,392.5 164.6,394.5 160.2,396.2 155,397.5 149.3,398.6 143.3,399.3 137.2,399.8 131,400.2 124.8,400.3 118.6,400.2 112.3,399.9 106.2,399.3 100.3,398.3 95.2,396.9 91,395.2 87.8,393.2 85.6,391.1 84.1,388.9 83.3,386.8 83,384.7 83.2,382.6 83.9,380.6 85.1,378.5 87.1,376.6 89.8,374.7 93.4,373 97.8,371.6 102.8,370.6 108,369.7 113.4,369.2 118.8,368.8 124.2,368.5 129.6,368.4 135,368.5 140.5,368.8 146,369.2 151.3,370" fill="#00c2ff"/>
<polygon points="154.9,371.6 159,373 162.3,374.5 164.9,376.3 166.8,378.1 168.3,380 169.3,381.9 169.9,383.9 169.9,385.9 169.4,388 168.2,390.1 166.1,392.1 162.9,394 158.7,395.6 153.7,396.9 148.3,397.9 142.6,398.6 136.8,399.1 130.9,399.4 125,399.5 119,399.5 113,399.1 107.1,398.5 101.6,397.6 96.7,396.3 92.6,394.6 89.6,392.7 87.4,390.7 86,388.7 85.2,386.7 84.9,384.7 85,382.7 85.7,380.7 86.9,378.7 88.7,376.8 91.4,375.1 94.8,373.5 99.1,372.1 103.8,371.1 108.8,370.3 113.9,369.7 119.1,369.3 124.3,369.1 129.5,369 134.7,369.1 140,369.3 145.2,369.8 150.3,370.6" fill="#0097ff"/>
<polygon points="153.7,372.1 157.6,373.4 160.7,374.9 163.2,376.6 165.1,378.3 166.5,380.1 167.5,382 168,383.8 168,385.8 167.5,387.8 166.3,389.7 164.2,391.7 161.1,393.4 157.2,395 152.5,396.2 147.3,397.2 141.9,397.9 136.3,398.4 130.7,398.7 125.1,398.8 119.4,398.7 113.7,398.4 108.1,397.8 102.9,396.9 98.2,395.6 94.3,394.1 91.4,392.3 89.2,390.4 87.8,388.5 87,386.5 86.7,384.6 86.9,382.7 87.5,380.8 88.7,378.9 90.5,377.1 93,375.4 96.3,373.9 100.3,372.6 104.8,371.6 109.6,370.8 114.5,370.3 119.5,369.9 124.4,369.7 129.4,369.6 134.4,369.7 139.5,369.9 144.5,370.4 149.3,371.1" fill="#006eff"/>
<polygon points="152.4,372.7 156.1,373.9 159.1,375.3 161.5,376.9 163.4,378.5 164.7,380.3 165.6,382 166.1,383.8 166.1,385.7 165.5,387.5 164.3,389.4 162.3,391.2 159.4,392.9 155.6,394.4 151.2,395.6 146.3,396.5 141.1,397.2 135.9,397.6 130.6,397.9 125.2,398 119.8,397.9 114.4,397.6 109.1,397 104.1,396.2 99.7,395 96,393.5 93.2,391.8 91.1,390 89.8,388.2 88.9,386.4 88.6,384.5 88.8,382.7 89.4,380.9 90.5,379.1 92.2,377.4 94.7,375.8 97.8,374.3 101.6,373.1 105.9,372.1 110.4,371.4 115.1,370.9 119.8,370.5 124.5,370.3 129.3,370.2 134.1,370.3 138.9,370.5 143.7,371 148.2,371.7" fill="#0048ff"/>
<polygon points="151.1,373.2 154.6,374.4 157.5,375.7 159.8,377.2 161.6,378.8 162.8,380.4 163.7,382.1 164.1,383.8 164.1,385.5 163.5,387.3 162.3,389.1 160.4,390.8 157.6,392.4 154,393.7 149.8,394.9 145.2,395.8 140.4,396.4 135.4,396.9 130.4,397.1 125.3,397.2 120.2,397.1 115.1,396.8 110.1,396.3 105.5,395.4 101.3,394.3 97.8,392.9 95.1,391.4 93.1,389.7 91.7,387.9 90.9,386.2 90.6,384.5 90.7,382.7 91.3,381 92.4,379.4 94.1,377.7 96.4,376.2 99.4,374.8 102.9,373.6 107,372.7 111.3,372 115.7,371.5 120.2,371.1 124.7,370.9 129.2,370.8 133.8,370.9 138.3,371.2 142.9,371.6 147.2,372.3" fill="#0021ff"/>
<polygon points="149.8,373.8 153.1,374.9 155.8,376.1 158,377.5 159.7,379 160.9,380.6 161.7,382.1 162.1,383.8 162,385.4 161.4,387.1 160.2,388.7 158.4,390.3 155.7,391.8 152.4,393.1 148.5,394.2 144.2,395 139.6,395.6 135,396.1 130.2,396.3 125.4,396.4 120.6,396.3 115.8,396 111.2,395.5 106.8,394.7 102.9,393.6 99.6,392.3 97,390.9 95.1,389.3 93.8,387.7 93,386 92.7,384.4 92.8,382.8 93.3,381.2 94.4,379.6 96,378 98.1,376.6 101,375.3 104.3,374.2 108.1,373.3 112.1,372.6 116.3,372.1 120.6,371.8 124.8,371.6 129.1,371.5 133.4,371.6 137.8,371.8 142,372.2 146.1,372.9" fill="#0600fe"/>
<polygon points="148.4,374.4 151.5,375.4 154,376.6 156.1,377.9 157.7,379.3 158.9,380.7 159.6,382.2 159.9,383.7 159.8,385.3 159.2,386.8 158.1,388.4 156.3,389.9 153.8,391.2 150.7,392.4 147.1,393.4 143.1,394.2 138.8,394.8 134.5,395.2 130,395.5 125.6,395.5 121.1,395.4 116.6,395.1 112.3,394.6 108.2,393.9 104.6,392.9 101.5,391.7 99,390.4 97.2,388.9 95.9,387.4 95.1,385.9 94.8,384.3 94.9,382.8 95.4,381.3 96.4,379.8 97.9,378.4 100,377 102.6,375.8 105.8,374.8 109.3,373.9 113.1,373.2 117,372.8 121,372.4 125,372.2 129,372.2 133.1,372.3 137.1,372.5 141.1,372.9 144.9,373.5" fill="#3100f9"/>
<polygon points="146.9,375 149.8,375.9 152.2,377.1 154.1,378.3 155.6,379.6 156.7,380.9 157.4,382.3 157.7,383.7 157.6,385.1 157,386.6 155.9,388 154.1,389.4 151.8,390.6 148.9,391.8 145.6,392.7 141.9,393.4 138,394 134,394.4 129.8,394.6 125.7,394.6 121.5,394.5 117.4,394.3 113.4,393.8 109.7,393.1 106.3,392.2 103.4,391.1 101.1,389.8 99.4,388.5 98.1,387.1 97.4,385.7 97.1,384.3 97.1,382.8 97.6,381.4 98.6,380 100,378.7 101.9,377.5 104.4,376.3 107.3,375.4 110.5,374.6 114,373.9 117.7,373.5 121.4,373.1 125.1,373 128.9,372.9 132.7,373 136.5,373.2 140.2,373.6 143.7,374.2" fill="#5b00f4"/>
<polygon points="145.4,375.6 148,376.5 150.2,377.5 152,378.7 153.4,379.8 154.4,381.1 155,382.4 155.3,383.7 155.1,385 154.6,386.3 153.5,387.6 151.9,388.9 149.8,390 147.1,391 144.1,391.9 140.7,392.6 137.1,393.1 133.4,393.4 129.6,393.7 125.8,393.7 122,393.6 118.2,393.3 114.6,392.9 111.2,392.3 108.1,391.4 105.4,390.4 103.3,389.3 101.7,388.1 100.5,386.8 99.8,385.5 99.5,384.2 99.5,382.9 100,381.6 100.9,380.3 102.2,379.1 104,377.9 106.2,376.9 108.9,376 111.8,375.2 115.1,374.6 118.4,374.2 121.8,373.9 125.3,373.7 128.8,373.7 132.3,373.8 135.8,374 139.2,374.4 142.4,374.9" fill="#7e00ea"/>
<polygon points="143.7,376.4 146.1,377.2 148.1,378.1 149.8,379.1 151.1,380.2 152,381.3 152.5,382.4 152.7,383.6 152.6,384.8 152,386 151,387.2 149.5,388.3 147.6,389.4 145.2,390.3 142.4,391.1 139.4,391.7 136.2,392.2 132.8,392.5 129.4,392.7 126,392.7 122.5,392.6 119.1,392.4 115.8,392 112.8,391.4 110,390.6 107.6,389.7 105.6,388.7 104.1,387.6 103,386.5 102.3,385.3 102,384.1 102.1,382.9 102.5,381.7 103.3,380.6 104.5,379.5 106.1,378.4 108.2,377.5 110.6,376.7 113.3,376 116.2,375.4 119.2,375 122.3,374.7 125.5,374.6 128.7,374.5 131.9,374.6 135,374.8 138.1,375.2 141,375.7" fill="#8f00d9"/>
<polygon points="141.9,377.1 144,377.8 145.8,378.6 147.3,379.5 148.5,380.5 149.3,381.5 149.8,382.5 149.9,383.6 149.8,384.7 149.2,385.7 148.3,386.7 147,387.7 145.2,388.7 143.1,389.5 140.7,390.2 138,390.7 135.2,391.1 132.2,391.4 129.2,391.6 126.1,391.6 123.1,391.5 120.1,391.3 117.2,390.9 114.5,390.4 112,389.8 109.9,389 108.1,388.1 106.7,387.1 105.7,386.1 105.1,385.1 104.8,384 104.8,382.9 105.2,381.9 106,380.9 107,379.9 108.5,379 110.3,378.1 112.4,377.4 114.8,376.8 117.4,376.3 120.1,375.9 122.9,375.6 125.7,375.5 128.5,375.5 131.4,375.5 134.2,375.7 136.9,376.1 139.5,376.5" fill="#a000c7"/>
<polygon points="139.9,378 141.7,378.6 143.3,379.3 144.6,380.1 145.6,380.9 146.3,381.7 146.7,382.6 146.8,383.5 146.6,384.5 146.1,385.4 145.3,386.3 144.1,387.1 142.6,387.9 140.8,388.6 138.8,389.2 136.5,389.6 134.1,390 131.5,390.3 128.9,390.4 126.3,390.4 123.7,390.4 121.1,390.2 118.7,389.8 116.3,389.4 114.2,388.8 112.4,388.2 110.9,387.4 109.7,386.6 108.8,385.7 108.2,384.8 107.9,383.9 108,383 108.3,382.1 108.9,381.2 109.9,380.4 111.1,379.6 112.7,378.8 114.5,378.2 116.5,377.7 118.7,377.2 121.1,376.9 123.5,376.7 125.9,376.5 128.4,376.5 130.8,376.6 133.3,376.8 135.6,377.1 137.8,377.5" fill="#9300a9"/>
<polygon points="137.5,379 139,379.5 140.3,380 141.4,380.7 142.2,381.3 142.7,382 143.1,382.8 143.2,383.5 143,384.2 142.6,385 141.9,385.7 140.9,386.4 139.7,387 138.2,387.5 136.6,388 134.7,388.4 132.8,388.7 130.7,388.9 128.6,389 126.5,389.1 124.4,389 122.3,388.8 120.4,388.6 118.5,388.2 116.8,387.7 115.3,387.2 114.1,386.6 113.1,385.9 112.3,385.2 111.8,384.5 111.6,383.8 111.6,383 111.9,382.3 112.4,381.6 113.2,380.9 114.2,380.3 115.4,379.7 116.9,379.1 118.6,378.7 120.3,378.3 122.2,378.1 124.2,377.9 126.2,377.8 128.2,377.7 130.2,377.8 132.2,378 134.1,378.2 135.9,378.5" fill="#87008a"/>
<polygon points="134.5,380.2 135.6,380.6 136.5,381 137.2,381.4 137.8,381.9 138.2,382.4 138.4,382.9 138.5,383.4 138.3,383.9 138,384.5 137.5,385 136.8,385.4 136,385.9 134.9,386.2 133.8,386.6 132.5,386.9 131.1,387.1 129.7,387.2 128.3,387.3 126.8,387.3 125.3,387.3 123.9,387.1 122.5,386.9 121.2,386.7 120,386.4 119,386 118.1,385.6 117.4,385.1 116.8,384.7 116.5,384.1 116.3,383.6 116.3,383.1 116.5,382.6 116.8,382.1 117.4,381.6 118.1,381.1 119,380.7 120,380.4 121.2,380 122.4,379.8 123.7,379.6 125.1,379.4 126.5,379.4 128,379.4 129.4,379.4 130.8,379.5 132.1,379.7 133.4,379.9" fill="#80007a"/>
<path d="M134.4 380.3 135.4 380.6 136.3 381 137 381.5 137.6 381.9 138 382.4 138.2 382.9 138.3 383.4 138.1 383.9 137.8 384.4 137.3 384.9 136.6 385.4 135.8 385.8 134.8 386.2 133.6 386.5 132.4 386.8 131.1 387 129.7 387.1 128.2 387.2 126.8 387.2 125.3 387.2 123.9 387.1 122.6 386.9 121.3 386.6 120.2 386.3 119.1 386 118.3 385.5 117.6 385.1 117 384.6 116.7 384.1 116.5 383.6 116.5 383.1 116.7 382.6 117 382.1 117.6 381.6 118.3 381.2 119.2 380.8 120.2 380.4 121.3 380.1 122.5 379.9 123.8 379.7 125.2 379.5 126.5 379.4 127.9 379.4 129.3 379.5 130.7 379.6 132 379.8 133.3 380zM147.5 374.8 150.4 375.7 152.9 376.9 154.9 378.1 156.4 379.5 157.5 380.8 158.2 382.3 158.5 383.7 158.4 385.2 157.8 386.7 156.7 388.1 154.9 389.6 152.6 390.9 149.6 392 146.1 393 142.3 393.7 138.3 394.3 134.1 394.7 129.9 394.9 125.6 395 121.4 394.9 117.1 394.6 113 394.1 109.1 393.4 105.7 392.5 102.7 391.3 100.3 390 98.6 388.6 97.3 387.2 96.6 385.7 96.2 384.3 96.3 382.8 96.8 381.4 97.8 380 99.2 378.6 101.2 377.3 103.7 376.1 106.7 375.1 110.1 374.3 113.7 373.7 117.4 373.2 121.2 372.9 125.1 372.7 129 372.6 132.8 372.7 136.7 373 140.5 373.4 144.1 374zM155.8 371.2 160 372.6 163.4 374.2 166.1 376 168.1 377.9 169.6 379.9 170.6 381.9 171.2 383.9 171.3 386 170.9 388.1 169.6 390.3 167.5 392.4 164.2 394.4 159.8 396 154.7 397.4 149 398.4 143.1 399.2 137.1 399.7 131 400 124.9 400.1 118.7 400 112.5 399.7 106.4 399.1 100.6 398.1 95.5 396.7 91.4 395 88.2 393.1 86 391 84.6 388.9 83.8 386.8 83.5 384.7 83.7 382.6 84.3 380.6 85.6 378.6 87.5 376.6 90.2 374.8 93.8 373.1 98.1 371.7 103 370.7 108.2 369.9 113.5 369.3 118.9 368.9 124.2 368.7 129.6 368.6 135 368.6 140.4 368.9 145.8 369.4 151 370.1zM163 368.2 168.2 369.9 172.3 372 175.5 374.3 177.9 376.6 179.7 379.1 181.1 381.5 182 384 182.4 386.7 182.2 389.4 181 392.2 178.7 395 174.7 397.5 169.1 399.7 162.3 401.3 155 402.6 147.4 403.4 139.7 404 132 404.4 124.2 404.6 116.3 404.6 108.4 404.2 100.4 403.6 92.9 402.4 86.3 400.6 81.1 398.4 77.5 395.8 75.1 393 73.6 390.3 72.9 387.7 72.7 385 73 382.5 73.8 379.9 75.2 377.4 77.4 375 80.7 372.6 85.2 370.5 90.8 368.9 97.1 367.6 103.7 366.7 110.4 366.1 116.9 365.7 123.5 365.4 130.1 365.3 136.7 365.3 143.4 365.5 150.2 366 156.9 366.9zM169.4 365.5 175.6 367.5 180.4 370 183.9 372.7 186.7 375.5 188.8 378.3 190.5 381.2 191.7 384.2 192.5 387.3 192.6 390.6 191.7 394 189.3 397.4 184.6 400.5 178 403.2 169.6 405.1 160.6 406.5 151.4 407.5 142.1 408.1 132.9 408.6 123.6 408.8 114.1 408.8 104.5 408.6 94.8 407.8 85.5 406.5 77.6 404.3 71.3 401.6 67.3 398.3 64.9 394.9 63.5 391.6 62.9 388.5 62.9 385.4 63.3 382.3 64.2 379.4 65.8 376.4 68.3 373.4 72.1 370.6 77.5 368.2 84.2 366.3 91.8 364.9 99.7 363.9 107.5 363.2 115.2 362.8 122.9 362.5 130.5 362.3 138.2 362.4 146.2 362.5 154.2 363 162.2 364zM169.4 365.5 176.3 367.3 183.5 369.2 191.4 371.3 194.9 374.4 197.3 377.6 199.3 380.9 200.9 384.3 202.1 387.9 202 391.6 196 394.7 190.2 397.6 184.6 400.5 178.7 403.5 172.6 406.6 165.7 410.1 155.2 411.4 144.5 412.1 133.8 412.6 123 412.9 111.9 413 100.9 412.5 92.5 409.6 84.8 406.9 77.6 404.3 70.5 401.9 63.2 399.3 55.7 396.7 53.9 392.9 53.5 389.2 53.6 385.7 54.2 382.2 55.3 378.8 57.5 375.4 64.7 372.8 71.3 370.5 77.5 368.2 83.6 366 89.7 363.8 96.2 361.5 105 360.6 113.7 360.2 122.3 359.9 130.9 359.7 139.6 359.6 148.5 360 155.8 361.9 162.6 363.7zM169.4 365.5 176.3 367.3 183.5 369.2 191.4 371.3 200.4 373.7 205.4 377 207.7 380.6 209.7 384.4 208.5 388.3 202 391.6 196 394.7 190.2 397.6 184.6 400.5 178.7 403.5 172.6 406.6 165.7 410.1 157.9 414.1 146.8 416 134.6 416.6 122.4 417 110.4 415.9 100.9 412.5 92.5 409.6 84.8 406.9 77.6 404.3 70.5 401.9 63.2 399.3 55.7 396.7 47.4 393.8 44.5 389.9 44.8 386 45.5 382.1 49.3 378.4 57.5 375.4 64.7 372.8 71.3 370.5 77.5 368.2 83.6 366 89.7 363.8 96.2 361.5 103.3 358.9 112.2 357.7 121.7 357.4 131.3 357.2 140.6 357.9 148.5 360 155.8 361.9 162.6 363.7zM169.4 365.5 176.3 367.3 183.5 369.2 191.4 371.3 200.4 373.7 211.1 376.5 215.9 380.4 215.9 384.5 208.5 388.3 202 391.6 196 394.7 190.2 397.6 184.6 400.5 178.7 403.5 172.6 406.6 165.7 410.1 157.9 414.1 148.5 418.9 135.5 420.6 121.9 419.9 110.4 415.9 100.9 412.5 92.5 409.6 84.8 406.9 77.6 404.3 70.5 401.9 63.2 399.3 55.7 396.7 47.4 393.8 38 390.5 36.2 386.2 39.4 382 49.3 378.4 57.5 375.4 64.7 372.8 71.3 370.5 77.5 368.2 83.6 366 89.7 363.8 96.2 361.5 103.3 358.9 111.2 356 121.2 355.1 131.5 355.5 140.6 357.9 148.5 360 155.8 361.9 162.6 363.7z" fill="none" stroke="#203020" stroke-opacity=".5" stroke-width=".4"/>
<path d="M44.4 382.3L146.5 416.6M43.3 389.8L130.8 356.9M55.1 378.3L156.8 411.4M53.6 393.4L140.8 359.5M65.5 374.6L166.6 406.5M64.3 397.1L151.1 362.3M75.5 370.9L176.1 401.7M75.3 401L161.6 365.1M85.3 367.4L185.3 397.1M86.7 404.9L172.4 368M94.6 363.9L194.1 392.7M98.4 409L183.5 370.9M103.7 360.6L202.6 388.4M110.4 413.2L194.9 374M112.5 357.4L210.7 384.3M122.9 417.5L206.6 377.1" fill="none" stroke="#fff" stroke-opacity=".35" stroke-width=".4"/>
</g>
<g class="s"><path color="#c70000" d="M111.6 306.5l9.1-10.6 10.5 10.3-10.4-9.1z"/><path color="#dc0000" d="M111.6 306.5l9.2-9.4 10.4 9.1-10.4-7.9z"/><path color="#f20000" d="M111.6 306.5l9.2-8.2 10.4 7.9-10.3-6.6z"/><path color="#ff0000" d="M111.6 306.5l9.3-6.9 10.3 6.6-10.2-5.4z"/><path color="#ff0000" d="M111.6 306.5l9.4-5.7 10.2 5.4-10.1-4.2z"/><path color="#ff0000" d="M111.6 306.5l9.5-4.5 10.1 4.2-10-3z"/><path color="#ff0000" d="M111.6 306.5l9.6-3.3 10 3-9.9-1.7z"/><path color="#ff0000" d="M111.6 306.5l9.7-2 9.9 1.7-9.9-.5z"/><path color="#ff0000" d="M131.2 306.2l8.7 7.8-8.8-7.2z"/><path color="#ff0000" d="M104 314.7l7.6-8.2 9.7-.8 9.9 .5-.1 .6-9.7 .1-9.7 .3z"/><path color="#ff0000" d="M131.1 306.8l8.8 7.2-8.8-6z"/><path color="#ff0000" d="M104 314.7l7.7-7.5 9.7-.3 9.7-.1 0 1.2-9.6 .2-9.6 .2z"/><path color="#ff0000" d="M131.1 308l8.8 6-8.9-4.7z"/><path color="#ff0000" d="M131 309.3l8.9 4.7-8.9-3.4z"/><path color="#ff0000" d="M104 314.7l7.9-6.3 9.6-.2 9.6-.2-.1 1.3-9.4 .1-9.4 .3z"/><path color="#ff0000" d="M131 310.6l8.9 3.4-9-2.2z"/><path color="#ff0000" d="M104 314.7l8.2-5 9.4-.3 9.4-.1 0 1.3-9.3 .1-9.3 .2z"/><path color="#ff0000" d="M130.9 311.8l9 2.2-9-.9z"/><path color="#ff0000" d="M104 314.7l8.4-3.8 9.3-.2 9.3-.1-.1 1.2-9.1 .2-9.2 .2z"/><path color="#ff0000" d="M104 314.7l8.6-2.5 9.2-.2 9.1-.2 0 1.3-9 .1-9.1 .3z"/><path color="#ff0000" d="M121.9 313.2l9-.1 9 .9 7.6 6.1-7.7-5.8-9 .1-8.9 .1z"/><path color="#ff1d00" d="M121.9 314.5l8.9-.1 9-.1 7.7 5.8-7.9-4.5-8.8 0-8.8 .2z"/><path color="#ff4300" d="M122 315.8l8.8-.2 8.8 0 7.9 4.5-8.1-3.2-8.7 0-8.6 .1z"/><path color="#ff6400" d="M122.1 317l8.6-.1 8.7 0 8.1 3.2-8.3-1.9-8.6 0-8.4 .1z"/><path color="#ff0000" d="M97.3 321.2l6.7-6.5 8.8-1.2 9.1-.3 0 1.3-8.8 .2-9 .4z"/><path color="#ff1d00" d="M97.3 321.2l6.8-6.1 9-.4 8.8-.2 .1 1.3-8.7 .2-8.8 .4z"/><path color="#ff8600" d="M122.2 318.3l8.4-.1 8.6 0 8.3 1.9-8.5-.6-8.4 0-8.3 .1z"/><path color="#ff4300" d="M97.3 321.2l7.2-4.8 8.8-.4 8.7-.2 .1 1.2-8.5 .3-8.7 .4z"/><path color="#ffa800" d="M114 319.9l8.3-.3 8.3-.1 8.4 0-.2 1.3-8.3 0-8.1 .1-8.1 .3z"/><path color="#ff6400" d="M97.3 321.2l7.6-3.5 8.7-.4 8.5-.3 .1 1.3-8.4 .3-8.5 .3z"/><path color="#ffa800" d="M139 319.5l8.5 .6 6.9 4.6-7.2-3.7-8.4-.2z"/><path color="#ffc900" d="M114.3 321.2l8.1-.3 8.1-.1 8.3 0-.2 1.3-8.1 0-8 .1-8 .3z"/><path color="#ff8600" d="M97.3 321.2l8-2.3 8.5-.3 8.4-.3 .1 1.3-8.3 .3-8.3 .3z"/><path color="#ffc900" d="M138.8 320.8l8.4 .2 7.2 3.7-7.5-2.4-8.3-.2z"/><path color="#ffe600" d="M114.5 322.5l8-.3 8-.1 8.1 0-.3 1.4-7.9-.1-7.8 .2-7.8 .2z"/><path color="#ffe600" d="M138.6 322.1l8.3 .2 7.5 2.4-7.9-1.1-8.2-.1z"/><path color="#ffff00" d="M130.4 323.4l7.9 .1 8.2 .1 7.9 1.1-.3 .7-8-.4-8-.2-7.7 0z"/><path color="#ffff00" d="M106.9 324.2l7.9-.4 7.8-.2 7.8-.2 0 1.4-7.7 .1-7.7 .2-7.7 .4z"/><path color="#ffff00" d="M130.4 324.8l7.7 0 8 .2 8 .4-.6 1.3-7.8-.4-7.8-.2-7.6 0z"/><path color="#ffa800" d="M91.1 326.1l6.2-4.9 8.4-1 8.3-.3 .3 1.3-8.2 .3-8.4 .6z"/><path color="#ffff00" d="M122.8 326.2l7.5-.1 7.6 0 7.8 .2-.5 1.4-7.5-.2-7.5-.1-7.3 .2z"/><path color="#ffff00" d="M107.3 325.5l7.7-.4 7.7-.2 7.7-.1-.1 1.3-7.5 .1-7.5 .2-7.6 .4z"/><path color="#ffc900" d="M91.1 326.1l6.6-4 8.4-.6 8.2-.3 .2 1.3-8 .3-8.2 .6z"/><path color="#ffe600" d="M91.1 326.1l7.2-2.7 8.2-.6 8-.3 .3 1.3-7.9 .4-8 .5z"/><path color="#9fff00" d="M122.9 327.6l7.3-.2 7.5 .1 7.5 .2-.4 1.3-7.4-.2-7.2 0-7.2 .1z"/><path color="#ffff00" d="M154.4 324.7l6.6 3.3-6.9-2.6z"/><path color="#ffff00" d="M154.1 325.4l6.9 2.6-7.5-1.3z"/><path color="#2cff00" d="M123 328.9l7.2-.1 7.2 0 7.4 .2-.4 1.4-7.2-.2-7.1 0-7 .1z"/><path color="#ffff00" d="M100.1 327.4l7.6-.6 7.6-.4 7.5-.2 .1 1.4-7.3 .2-7.4 .4-7.5 .5z"/><path color="#ffff00" d="M145.7 326.3l7.8 .4 7.5 1.3 6.5 2-7-1.2-7.6-.7-7.7-.4z"/><path color="#00ff00" d="M123.1 330.3l7-.1 7.1 0 7.2 .2-.4 1.4-7-.2-7-.1-6.8 .1z"/><path color="#9fff00" d="M100.7 328.7l7.5-.5 7.4-.4 7.3-.2 .1 1.3-7.2 .2-7.2 .4-7.3 .5z"/><path color="#00ff00" d="M123.2 331.6l6.8-.1 7 .1 7 .2-.4 1.3-6.9-.2-6.7 0-6.7 .1z"/><path color="#2cff00" d="M101.3 330l7.3-.5 7.2-.4 7.2-.2 .1 1.4-7 .2-7 .3-7.2 .6z"/><path color="#9fff00" d="M145.2 327.7l7.7 .4 7.6 .7 7 1.2-1 1.4-6.8-1.2-7.4-.8-7.5-.4z"/><path color="#ffff00" d="M85.3 329.8l5.8-3.7 7.8-1.4 8-.5 .4 1.3-7.8 .5-7.9 .8z"/><path color="#ffff00" d="M85.3 329.8l6.3-3 7.9-.8 7.8-.5 .4 1.3-7.6 .6-7.7 .7z"/><path color="#00ff00" d="M101.9 331.4l7.2-.6 7-.3 7-.2 .1 1.3-6.8 .2-6.9 .4-6.9 .5z"/><path color="#00ff00" d="M123.3 333l6.7-.1 6.7 0 6.9 .2-.5 1.4-6.6-.2-6.6 0-6.5 .1z"/><path color="#2cff00" d="M144.8 329l7.5 .4 7.4 .8 6.8 1.2-1.1 1.3-6.5-1.1-7.2-.8-7.3-.4z"/><path color="#00ff00" d="M102.6 332.7l6.9-.5 6.9-.4 6.8-.2 .1 1.4-6.6 .2-6.7 .4-6.8 .5z"/><path color="#00ff00" d="M123.4 334.4l6.5-.1 6.6 0 6.6 .2-.4 1.4-6.5-.2-6.4 0-6.3 .1z"/><path color="#00ff00" d="M144.4 330.4l7.3 .4 7.2 .8 6.5 1.1-1 1.4-6.4-1.2-6.9-.7-7.1-.4z"/><path color="#00ff00" d="M103.2 334.1l6.8-.5 6.7-.4 6.6-.2 .1 1.4-6.5 .2-6.5 .4-6.5 .5z"/><path color="#00ff00" d="M123.5 335.8l6.3-.1 6.4 0 6.5 .2-.5 1.5-6.3-.3-6.1 0-6.2 .1z"/><path color="#00ff00" d="M144 331.8l7.1 .4 6.9 .7 6.4 1.2-1 1.3-6.2-1.1-6.7-.7-6.9-.5z"/><path color="#00ff00" d="M103.9 335.5l6.5-.5 6.5-.4 6.5-.2 .1 1.4-6.3 .2-6.3 .4-6.3 .5z"/><path color="#00ff00" d="M143.6 333.1l6.9 .5 6.7 .7 6.2 1.1-1.1 1.4-6-1.1-6.5-.7-6.7-.5z"/><path color="#00ff24" d="M123.6 337.2l6.2-.1 6.1 0 6.3 .3-.5 1.4-6-.2-6-.1-6 .1z"/><path color="#00ff00" d="M104.6 336.9l6.3-.5 6.3-.4 6.3-.2 .1 1.4-6.1 .2-6.1 .4-6.1 .5z"/><path color="#ffff00" d="M79.5 332.1l5.8-2.3 7.1-1.7 7.7-.7 .6 1.3-7.5 .8-7.3 1.1z"/><path color="#00ff00" d="M143.1 334.5l6.7 .5 6.5 .7 6 1.1-1 1.4-5.8-1.1-6.3-.7-6.5-.5z"/><path color="#00ffb6" d="M123.7 338.6l6-.1 6 .1 6 .2-.4 1.4-5.9-.2-5.8 0-5.7 0z"/><path color="#00ff24" d="M105.3 338.3l6.1-.5 6.1-.4 6.1-.2 .1 1.4-5.9 .2-5.9 .4-5.9 .5z"/><path color="#00ff00" d="M142.7 335.9l6.5 .5 6.3 .7 5.8 1.1-1.1 1.4-5.6-1.1-6.1-.7-6.3-.4z"/><path color="#00feff" d="M123.9 340l5.7 0 5.8 0 5.9 .2-.5 1.5-5.7-.2-5.6-.1-5.5 .1z"/><path color="#9fff00" d="M79.5 332.1l6.4-1.5 7.3-1.1 7.5-.8 .6 1.3-7.3 .8-7 1.1-6.3 1.5z"/><path color="#00ffb6" d="M106 339.7l5.9-.5 5.9-.4 5.9-.2 .2 1.4-5.8 .2-5.7 .4-5.7 .5z"/><path color="#00ff24" d="M142.2 337.4l6.3 .4 6.1 .7 5.6 1.1-1.1 1.4-5.4-1.1-5.9-.7-6.1-.4z"/><path color="#2cff00" d="M80.7 333.4l6.3-1.5 7-1.1 7.3-.8 .6 1.4-7.1 .8-6.8 1.1-6 1.5z"/><path color="#00d4ff" d="M124 341.5l5.5-.1 5.6 .1 5.7 .2-.5 1.5-5.4-.3-5.4 0-5.4 .1z"/><path color="#00feff" d="M106.7 341.1l5.7-.5 5.7-.4 5.8-.2 .1 1.5-5.6 .2-5.5 .3-5.5 .6z"/><path color="#00ff00" d="M82 334.8l6-1.5 6.8-1.1 7.1-.8 .7 1.3-6.9 .8-6.6 1.1-5.9 1.5z"/><path color="#00ffb6" d="M141.7 338.8l6.1 .4 5.9 .7 5.4 1.1-1.1 1.4-5.2-1-5.7-.7-5.8-.5z"/><path color="#00abff" d="M124.1 343l5.4-.1 5.4 0 5.4 .3-.5 1.5-5.2-.3-5.2 0-5.2 0z"/><path color="#00ff00" d="M83.2 336.1l5.9-1.5 6.6-1.1 6.9-.8 .6 1.4-6.7 .8-6.4 1.1-5.7 1.4z"/><path color="#00d4ff" d="M107.4 342.6l5.5-.6 5.5-.3 5.6-.2 .1 1.5-5.3 .2-5.4 .3-5.3 .5z"/><path color="#00feff" d="M141.3 340.2l5.8 .5 5.7 .7 5.2 1-1.2 1.4-5-1-5.4-.7-5.6-.4z"/><path color="#00ff00" d="M84.4 337.4l5.7-1.4 6.4-1.1 6.7-.8 .7 1.4-6.5 .8-6.2 1-5.5 1.4z"/><path color="#0081ff" d="M124.2 344.4l5.2 0 5.2 0 5.2 .3-.6 1.5-4.9-.3-5 0-4.9 0z"/><path color="#00abff" d="M108.1 344l5.3-.5 5.4-.3 5.3-.2 .1 1.4-5.1 .2-5.1 .4-5.1 .5z"/><path color="#00d4ff" d="M140.8 341.7l5.6 .4 5.4 .7 5 1-1.1 1.4-4.8-.9-5.2-.7-5.4-.4z"/><path color="#00ff00" d="M85.7 338.7l5.5-1.4 6.2-1 6.5-.8 .7 1.4-6.3 .7-6 1.1-5.3 1.4z"/><path color="#005cff" d="M124.4 345.9l4.9 0 5 0 4.9 .3-.5 1.5-4.7-.2-4.8-.1-4.7 .1z"/><path color="#0081ff" d="M108.9 345.5l5.1-.5 5.1-.4 5.1-.2 .2 1.5-5 .2-4.9 .4-4.8 .5z"/><path color="#00ff00" d="M87 340.1l5.3-1.4 6-1.1 6.3-.7 .7 1.4-6.1 .7-5.8 1.1-5.1 1.3z"/><path color="#00abff" d="M140.3 343.2l5.4 .4 5.2 .7 4.8 .9-1.2 1.5-4.6-1-5-.6-5.1-.4z"/><path color="#00ff24" d="M88.3 341.4l5.1-1.3 5.8-1.1 6.1-.7 .7 1.4-5.9 .7-5.6 1-4.9 1.4z"/><path color="#0037ff" d="M124.5 347.5l4.7-.1 4.8 .1 4.7 .2-.6 1.6-4.5-.3-4.5 0-4.5 0z"/><path color="#005cff" d="M109.7 347l4.8-.5 4.9-.4 5-.2 .1 1.6-4.7 .2-4.7 .3-4.6 .5z"/><path color="#0081ff" d="M139.8 344.7l5.1 .4 5 .6 4.6 1-1.2 1.4-4.4-.9-4.7-.6-5-.4z"/><path color="#9fff00" d="M167.5 330l5.8 1.7 4.6 2 3.5 2.1-1.3 1.2-3.4-2.1-4.5-1.9-5.7-1.6z"/><path color="#00ffb6" d="M89.6 342.8l4.9-1.4 5.6-1 5.9-.7 .7 1.4-5.7 .7-5.3 1-4.7 1.3z"/><path color="#2cff00" d="M166.5 331.4l5.7 1.6 4.5 1.9 3.4 2.1-1.3 1.2-3.4-2-4.4-1.9-5.6-1.6z"/><path color="#ffff00" d="M167.5 330l6.5 .9 5.1 1.5 3.6 2.2-1.3 1.2-3.5-2.1-4.6-2z"/><path color="#0037ff" d="M110.5 348.5l4.6-.5 4.7-.3 4.7-.2 .1 1.5-4.4 .2-4.5 .3-4.3 .5z"/><path color="#0012ff" d="M124.6 349l4.5 0 4.5 0 4.5 .3-.6 1.6-4.2-.3-4.3 0-4.2 0z"/><path color="#005cff" d="M139.2 346.2l5 .4 4.7 .6 4.4 .9-1.3 1.5-4.1-.9-4.5-.6-4.7-.4z"/><path color="#00feff" d="M91 344.1l4.7-1.3 5.3-1 5.7-.7 .7 1.5-5.4 .7-5.1 .9-4.6 1.3z"/><path color="#00ff00" d="M165.4 332.7l5.6 1.6 4.4 1.9 3.4 2-1.4 1.3-3.3-2-4.3-1.9-5.4-1.5z"/><path color="#00ff00" d="M164.4 334.1l5.4 1.5 4.3 1.9 3.3 2-1.3 1.2-3.3-2-4.1-1.7-5.3-1.6z"/><path color="#00d4ff" d="M92.3 345.5l4.6-1.3 5.1-.9 5.4-.7 .7 1.4-5.1 .7-4.9 1-4.4 1.2z"/><path color="#0012ff" d="M111.4 350l4.3-.5 4.5-.3 4.4-.2 .2 1.6-4.3 .2-4.1 .3-4.2 .4z"/><path color="#0037ff" d="M138.7 347.7l4.7 .4 4.5 .6 4.1 .9-1.2 1.5-4-.8-4.2-.6-4.5-.4z"/><path color="#1400fc" d="M124.8 350.6l4.2 0 4.3 0 4.2 .3-.6 1.6-4-.2-4-.1-4 0z"/><path color="#00ff00" d="M163.4 335.4l5.3 1.6 4.1 1.7 3.3 2-1.4 1.2-3.2-1.9-4-1.7-5.2-1.5z"/><path color="#00abff" d="M93.7 346.9l4.4-1.2 4.9-1 5.1-.7 .8 1.5-4.9 .7-4.7 .9-4.2 1.2z"/><path color="#00ff00" d="M162.3 336.8l5.2 1.5 4 1.7 3.2 1.9-1.4 1.3-3.1-1.9-4-1.7-4.9-1.4z"/><path color="#0012ff" d="M138.1 349.3l4.5 .4 4.2 .6 4 .8-1.4 1.5-3.7-.8-4-.6-4.2-.3z"/><path color="#1400fc" d="M112.2 351.5l4.2-.4 4.1-.3 4.3-.2 .1 1.6-4 .2-3.9 .3-3.9 .4z"/><path color="#00ff00" d="M161.3 338.2l4.9 1.4 4 1.7 3.1 1.9-1.4 1.2-3-1.8-3.9-1.6-4.8-1.4z"/><path color="#3d00f7" d="M124.9 352.2l4 0 4 .1 4 .2-.6 1.6-3.7-.2-3.8-.1-3.7 .1z"/><path color="#0081ff" d="M95.1 348.3l4.2-1.2 4.7-.9 4.9-.7 .8 1.5-4.7 .6-4.5 .9-3.9 1.2z"/><path color="#00ff24" d="M160.2 339.6l4.8 1.4 3.9 1.6 3 1.8-1.5 1.3-2.9-1.8-3.8-1.6-4.6-1.3z"/><path color="#1400fc" d="M137.5 350.9l4.2 .3 4 .6 3.7 .8-1.4 1.6-3.4-.8-3.8-.5-3.9-.4z"/><path color="#005cff" d="M96.6 349.7l3.9-1.2 4.5-.9 4.7-.6 .8 1.5-4.5 .6-4.2 .9-3.7 1.1z"/><path color="#3d00f7" d="M113.1 353.1l3.9-.4 3.9-.3 4-.2 .2 1.7-3.7 .1-3.7 .3-3.6 .4z"/><path color="#00ffb6" d="M159.1 341l4.6 1.3 3.8 1.6 2.9 1.8-1.4 1.2-2.9-1.7-3.6-1.5-4.5-1.3z"/><path color="#6600f2" d="M125.1 353.9l3.7-.1 3.8 .1 3.7 .2-.7 1.7-3.4-.2-3.5-.1-3.4 .1z"/><path color="#00feff" d="M158 342.4l4.5 1.3 3.6 1.5 2.9 1.7-1.6 1.3-2.7-1.6-3.5-1.5-4.4-1.3z"/><path color="#0037ff" d="M98.1 351.1l3.7-1.1 4.2-.9 4.5-.6 .9 1.5-4.3 .6-3.9 .9-3.6 1z"/><path color="#ffff00" d="M174 330.9l7-.4 4.2 1.6 2.9 2.4-1.3 1.1-2.8-2.2-3.7-2.3z"/><path color="#3d00f7" d="M136.9 352.5l3.9 .4 3.8 .5 3.4 .8-1.4 1.5-3.2-.7-3.5-.5-3.6-.4z"/><path color="#ffff00" d="M174 330.9l6.3 .2 3.7 2.3 2.8 2.2-1.4 1.2-2.7-2.2-3.6-2.2z"/><path color="#6600f2" d="M114.1 354.7l3.6-.4 3.7-.3 3.7-.1 .2 1.7-3.5 .1-3.4 .3-3.3 .4z"/><path color="#00d4ff" d="M156.8 343.8l4.4 1.3 3.5 1.5 2.7 1.6-1.5 1.3-2.7-1.6-3.4-1.4-4.1-1.3z"/><path color="#0012ff" d="M99.6 352.5l3.6-1 3.9-.9 4.3-.6 .8 1.5-4 .7-3.7 .8-3.3 .9z"/><path color="#8100e7" d="M125.3 355.6l3.4-.1 3.5 .1 3.4 .2-.7 1.8-3.2-.2-3.1-.1-3.2 .1z"/><path color="#00abff" d="M155.7 345.2l4.1 1.3 3.4 1.4 2.7 1.6-1.6 1.3-2.5-1.6-3.3-1.3-4-1.2z"/><path color="#6600f2" d="M136.3 354.1l3.6 .4 3.5 .5 3.2 .7-1.5 1.6-3-.6-3.2-.5-3.3-.4z"/><path color="#8100e7" d="M115.1 356.4l3.3-.4 3.4-.3 3.5-.1 .1 1.8-3.1 .1-3.1 .3-3 .3z"/><path color="#1400fc" d="M101.2 353.9l3.3-.9 3.7-.8 4-.7 .9 1.6-3.7 .6-3.4 .8-3.1 .9z"/><path color="#0081ff" d="M154.5 346.7l4 1.2 3.3 1.3 2.5 1.6-1.6 1.2-2.5-1.4-3.1-1.3-3.8-1.2z"/><path color="#005cff" d="M153.3 348.1l3.8 1.2 3.1 1.3 2.5 1.4-1.7 1.3-2.3-1.3-3-1.3-3.7-1.1z"/><path color="#9fff00" d="M68.3 338.6l2.5-2.3 3.6-2.2 5.1-2 1.2 1.3-4.9 1.9-3.6 2.2-2.4 2.3z"/><path color="#9200d6" d="M125.4 357.4l3.2-.1 3.1 .1 3.2 .2-.9 1.8-2.7-.1-2.8-.1-2.9 0z"/><path color="#ffff00" d="M67.3 333.2l6.3 .1-5.6 .5z"/><path color="#8100e7" d="M135.6 355.8l3.3 .4 3.2 .5 3 .6-1.7 1.7-2.6-.6-2.9-.5-3-.3z"/><path color="#3d00f7" d="M102.9 355.4l3.1-.9 3.4-.8 3.7-.6 1 1.6-3.4 .6-3.2 .7-2.9 .9z"/><path color="#ffff00" d="M68 333.8l5.6-.5-4.2 1.8z"/><path color="#2cff00" d="M69.8 339.8l2.4-2.3 3.6-2.2 4.9-1.9 1.3 1.4-4.9 1.8-3.5 2.1-2.3 2.2z"/><path color="#0037ff" d="M152 349.6l3.7 1.1 3 1.3 2.3 1.3-1.7 1.4-2.3-1.4-2.8-1.2-3.4-1z"/><path color="#00ff00" d="M71.3 340.9l2.3-2.2 3.5-2.1 4.9-1.8 1.2 1.3-4.7 1.8-3.4 2.1-2.3 2.1z"/><path color="#9200d6" d="M116.2 358.1l3-.3 3.1-.3 3.1-.1 .2 1.8-2.8 .1-2.7 .3-2.7 .3z"/><path color="#ffff00" d="M66.9 337.4l2.5-2.3 4.2-1.8 5.9-1.2-5.1 2-3.6 2.2-2.5 2.3z"/><path color="#00ff00" d="M72.8 342.1l2.3-2.1 3.4-2.1 4.7-1.8 1.2 1.3-4.5 1.8-3.4 2-2.2 2.1z"/><path color="#6600f2" d="M104.6 356.9l2.9-.9 3.2-.7 3.4-.6 1 1.7-3.1 .5-3 .7-2.6 .8z"/><path color="#0012ff" d="M150.8 351.1l3.4 1 2.8 1.2 2.3 1.4-1.8 1.3-2.1-1.3-2.7-1.1-3.3-1z"/><path color="#00ff00" d="M74.3 343.3l2.2-2.1 3.4-2 4.5-1.8 1.3 1.3-4.4 1.8-3.3 1.9-2.2 2.1z"/><path color="#9200d6" d="M134.9 357.6l3 .3 2.9 .5 2.6 .6-1.8 1.7-2.3-.5-2.6-.5-2.7-.3z"/><path color="#00ff00" d="M75.8 344.5l2.2-2.1 3.3-1.9 4.4-1.8 1.3 1.4-4.3 1.7-3.2 1.9-2.2 2z"/><path color="#9e00c3" d="M125.6 359.2l2.9 0 2.8 .1 2.7 .1-.9 2-2.4-.2-2.4 0-2.4 0z"/><path color="#00ff00" d="M77.3 345.7l2.2-2 3.2-1.9 4.3-1.7 1.3 1.3-4.2 1.7-3.1 1.8-2.1 2z"/><path color="#1400fc" d="M149.4 352.6l3.3 1 2.7 1.1 2.1 1.3-1.8 1.3-2.1-1.1-2.5-1.1-3.1-.9z"/><path color="#8100e7" d="M106.4 358.4l2.6-.8 3-.7 3.1-.5 1.1 1.7-2.8 .5-2.7 .6-2.3 .8z"/><path color="#00ff24" d="M78.9 346.9l2.1-2 3.1-1.8 4.2-1.7 1.3 1.4-4 1.6-3 1.8-2.1 1.9z"/><path color="#9e00c3" d="M117.4 359.9l2.7-.3 2.7-.3 2.8-.1 .3 2-2.4 .1-2.4 .2-2.3 .3z"/><path color="#ffa800" d="M181 330.5l7.6-1.6 3.4 2.1 2.3 2.5-1.3 1.1-2.3-2.5-3-2.4z"/><path color="#ffc900" d="M181 330.5l6.7-.8 3 2.4 2.3 2.5-1.4 1.1-2.2-2.4-2.9-2.4z"/><path color="#00ffb6" d="M80.5 348.1l2.1-1.9 3-1.8 4-1.6 1.4 1.3-3.9 1.6-2.9 1.7-2.1 1.9z"/><path color="#ffe600" d="M181 330.5l5.5 .4 2.9 2.4 2.2 2.4-1.3 1.2-2.2-2.4-2.9-2.4z"/><path color="#3d00f7" d="M148 354.2l3.1 .9 2.5 1.1 2.1 1.1-2 1.4-1.9-1.1-2.4-1-2.8-.9z"/><path color="#00feff" d="M82.1 349.3l2.1-1.9 2.9-1.7 3.9-1.6 1.3 1.4-3.7 1.5-2.8 1.7-2 1.8z"/><path color="#9e00c3" d="M134 359.4l2.7 .3 2.6 .5 2.3 .5-1.9 1.8-2.1-.5-2.2-.3-2.3-.3z"/><path color="#00d4ff" d="M83.8 350.5l2-1.8 2.8-1.7 3.7-1.5 1.4 1.4-3.6 1.4-2.7 1.6-1.9 1.8z"/><path color="#9200d6" d="M108.4 360l2.3-.8 2.7-.6 2.8-.5 1.2 1.8-2.5 .5-2.3 .5-2.1 .7z"/><path color="#6600f2" d="M146.6 355.7l2.8 .9 2.4 1 1.9 1.1-2.1 1.4-1.7-1-2.2-1-2.6-.8z"/><path color="#9200a6" d="M125.9 361.2l2.4 0 2.4 0 2.4 .2-1 2.1-2-.1-2-.1-2 0z"/><path color="#00abff" d="M85.5 351.7l1.9-1.8 2.7-1.6 3.6-1.4 1.4 1.4-3.4 1.3-2.6 1.6-1.9 1.7z"/><path color="#0081ff" d="M87.2 352.9l1.9-1.7 2.6-1.6 3.4-1.3 1.5 1.4-3.3 1.3-2.5 1.5-1.8 1.6z"/><path color="#9200a6" d="M118.8 361.8l2.3-.3 2.4-.2 2.4-.1 .2 2.1-1.9 .1-2 .2-1.8 .3z"/><path color="#8100e7" d="M145.1 357.3l2.6 .8 2.2 1 1.7 1-2.2 1.4-1.6-.9-2-.9-2.4-.7z"/><path color="#005cff" d="M89 354.1l1.8-1.6 2.5-1.5 3.3-1.3 1.5 1.4-3.1 1.3-2.4 1.4-1.8 1.5z"/><path color="#9e00c3" d="M110.5 361.6l2.1-.7 2.3-.5 2.5-.5 1.4 1.9-2.2 .4-2 .5-1.8 .6z"/><path color="#9200a6" d="M133.1 361.4l2.3 .3 2.2 .3 2.1 .5-2.4 1.9-1.6-.3-1.8-.4-1.8-.2z"/><path color="#0037ff" d="M90.8 355.3l1.8-1.5 2.4-1.4 3.1-1.3 1.5 1.4-2.9 1.2-2.3 1.4-1.7 1.4z"/><path color="#9200d6" d="M143.4 359l2.4 .7 2 .9 1.6 .9-2.4 1.4-1.5-.8-1.8-.7-2.1-.7z"/><path color="#0012ff" d="M92.7 356.5l1.7-1.4 2.3-1.4 2.9-1.2 1.6 1.4-2.8 1.2-2.1 1.3-1.6 1.4z"/><path color="#1400fc" d="M94.7 357.8l1.6-1.4 2.1-1.3 2.8-1.2 1.7 1.5-2.6 1.1-2.1 1.2-1.5 1.3z"/><path color="#860089" d="M126.1 363.3l2 0 2 .1 2 .1-1.4 2.5-1.4-.1-1.4-.1-1.4 0z"/><path color="#9200a6" d="M112.8 363.3l1.8-.6 2-.5 2.2-.4 1.6 2.1-1.8 .3-1.6 .4-1.4 .5z"/><path color="#3d00f7" d="M96.7 359l1.5-1.3 2.1-1.2 2.6-1.1 1.7 1.5-2.4 1-1.9 1.2-1.4 1.2z"/><path color="#9e00c3" d="M141.6 360.7l2.1 .7 1.8 .7 1.5 .8-2.7 1.5-1.3-.7-1.5-.6-1.8-.6z"/><path color="#860089" d="M120.4 363.9l1.8-.3 2-.2 1.9-.1 .4 2.5-1.4 .1-1.4 .1-1.3 .2z"/><path color="#6600f2" d="M98.9 360.3l1.4-1.2 1.9-1.2 2.4-1 1.8 1.5-2.2 1-1.8 1-1.3 1.1z"/><path color="#860089" d="M132.1 363.5l1.8 .2 1.8 .4 1.6 .3-2.9 2.2-1.2-.2-1.2-.3-1.3-.1z"/><path color="#ffff00" d="M182.7 334.6l2.7 2.2 2.1 2.3 1.7 2.4-1.5 1.1-1.6-2.3-2-2.3-2.7-2.2z"/><path color="#9fff00" d="M181.4 335.8l2.7 2.2 2 2.3 1.6 2.3-1.4 1-1.6-2.2-2-2.2-2.6-2.2z"/><path color="#8100e7" d="M101.1 361.5l1.3-1.1 1.8-1 2.2-1 2 1.6-2 .8-1.7 1-1.2 1z"/><path color="#2cff00" d="M180.1 337l2.6 2.2 2 2.2 1.6 2.2-1.5 1.1-1.5-2.2-2-2.1-2.5-2.2z"/><path color="#00ff00" d="M178.8 338.2l2.5 2.2 2 2.1 1.5 2.2-1.5 1.1-1.4-2.1-2-2.2-2.5-2z"/><path color="#9200a6" d="M139.7 362.5l1.8 .6 1.5 .6 1.3 .7-3.2 1.6-1-.6-1.3-.5-1.5-.5z"/><path color="#00ff00" d="M177.4 339.5l2.5 2 2 2.2 1.4 2.1-1.5 1.1-1.4-2.1-1.9-2.1-2.4-2z"/><path color="#00ff00" d="M176.1 340.7l2.4 2 1.9 2.1 1.4 2.1-1.5 1.1-1.4-2.1-1.8-2-2.4-2z"/><path color="#00ff00" d="M174.7 341.9l2.4 2 1.8 2 1.4 2.1-1.6 1.1-1.3-2-1.8-2-2.3-1.9z"/><path color="#00ff00" d="M173.3 343.2l2.3 1.9 1.8 2 1.3 2-1.6 1.1-1.2-2-1.7-1.9-2.3-1.9z"/><path color="#ff1d00" d="M188.6 328.9l8.4-2.6 2.5 2.6 2.1 2.7-1.3 1.1-2.1-2.6-2.5-2.6z"/><path color="#860089" d="M115.6 365.1l1.4-.5 1.6-.4 1.8-.3 2 2.3-1.2 .3-1.1 .3-1.1 .3z"/><path color="#ff0000" d="M188.6 328.9l8.7-2.9 3.5 1.8 2.2 2.7-1.4 1.1-2.1-2.7-2.5-2.6z"/><path color="#ff4300" d="M188.6 328.9l7.1-1.4 2.5 2.6 2.1 2.6-1.4 1.1-2-2.6-2.4-2.6z"/><path color="#ff6400" d="M188.6 328.9l5.9-.3 2.4 2.6 2 2.6-1.3 1.1-2-2.6-2.4-2.5z"/><path color="#9200d6" d="M103.5 362.8l1.2-1 1.7-1 2-.8 2.1 1.6-1.8 .8-1.4 .8-1.1 .9z"/><path color="#ff8600" d="M188.6 328.9l4.6 .9 2.4 2.5 2 2.6-1.4 1.1-1.9-2.5-2.3-2.5z"/><path color="#00ff24" d="M171.9 344.4l2.3 1.9 1.7 1.9 1.2 2-1.6 1.1-1.2-1.9-1.6-1.9-2.3-1.8z"/><path color="#00ffb6" d="M170.4 345.7l2.3 1.8 1.6 1.9 1.2 1.9-1.6 1.1-1.2-1.9-1.6-1.8-2.1-1.8z"/><path color="#00feff" d="M169 346.9l2.1 1.8 1.6 1.8 1.2 1.9-1.7 1.1-1.1-1.8-1.5-1.8-2.2-1.7z"/><path color="#00d4ff" d="M167.4 348.2l2.2 1.7 1.5 1.8 1.1 1.8-1.7 1.1-1-1.8-1.6-1.7-2-1.6z"/><path color="#ffa800" d="M58.2 334.2l2.1-2.3 7 1.3-6-.5-1.7 2.6z"/><path color="#ffc900" d="M59.6 335.3l1.7-2.6 6 .5-4.6 .7-1.7 2.6z"/><path color="#ffe600" d="M61 336.5l1.7-2.6 4.6-.7-3.2 1.9-1.7 2.5z"/><path color="#00abff" d="M165.9 349.5l2 1.6 1.6 1.7 1 1.8-1.8 1.1-.9-1.7-1.5-1.6-2-1.6z"/><path color="#9e00c3" d="M106.2 364.1l1.1-.9 1.4-.8 1.8-.8 2.3 1.7-1.5 .6-1.2 .8-1 .8z"/><path color="#0081ff" d="M164.3 350.8l2 1.6 1.5 1.6 .9 1.7-1.7 1.1-1-1.6-1.4-1.6-1.9-1.6z"/><path color="#005cff" d="M162.7 352l1.9 1.6 1.4 1.6 1 1.6-1.9 1.1-.9-1.6-1.3-1.5-1.9-1.5z"/><path color="#860089" d="M137.3 364.4l1.5 .5 1.3 .5 1 .6-4.1 1.7-.7-.4-.9-.3-1-.4z"/><path color="#0037ff" d="M161 353.3l1.9 1.5 1.3 1.5 .9 1.6-1.9 1.1-.9-1.5-1.2-1.4-1.8-1.4z"/><path color="#0012ff" d="M159.3 354.7l1.8 1.4 1.2 1.4 .9 1.5-2 1.1-.8-1.4-1.2-1.4-1.7-1.3z"/><path color="#1400fc" d="M157.5 356l1.7 1.3 1.2 1.4 .8 1.4-2.1 1.1-.7-1.3-1.2-1.3-1.5-1.3z"/><path color="#9200a6" d="M109.1 365.5l1-.8 1.2-.8 1.5-.6 2.8 1.8-1.3 .5-1 .6-.8 .7z"/><path color="#3d00f7" d="M155.7 357.3l1.5 1.3 1.2 1.3 .7 1.3-2.2 1.1-.6-1.2-1.1-1.3-1.5-1.1z"/><path color="#ffff00" d="M188.1 334.5l2.2 2.4 1.7 2.4-1.4 1.1-1.7-2.4-2.1-2.4z"/><path color="#ffff00" d="M186.8 335.6l2.1 2.4 1.7 2.4-1.4 1.1-1.7-2.4-2.1-2.3z"/><path color="#6600f2" d="M153.7 358.7l1.5 1.1 1.1 1.3 .6 1.2-2.3 1.1-.6-1.1-1-1.2-1.4-1z"/><path color="#8100e7" d="M151.6 360.1l1.4 1 1 1.2 .6 1.1-2.5 1.1-.5-1-.9-1-1.3-1z"/><path color="#ffff00" d="M61.4 340.1l1-2.5 1.7-2.5 3.2-1.9 .7 .6-2.5 2.5-1.6 2.4-1 2.5z"/><path color="#ffff00" d="M62.9 341.2l1-2.5 1.6-2.4 2.5-2.5 1.4 1.3-2.5 2.3-1.6 2.4-.9 2.5z"/><path color="#9200d6" d="M149.4 361.5l1.3 1 .9 1 .5 1-2.7 1.2-.5-1-.8-.9-1.1-.9z"/><path color="#860089" d="M112.5 366.9l.8-.7 1-.6 1.3-.5 3.4 2-.8 .4-.7 .4-.6 .4z"/><path color="#80007a" d="M126.5 365.8l1.4 0 1.4 .1 1.4 .1-3.4 4.5z"/><path color="#9e00c3" d="M147 362.9l1.1 .9 .8 .9 .5 1-3 1.1-.4-.8-.7-.8-1-.8z"/><path color="#ff0000" d="M197.3 326l4.8 .7 2.2 2.7-1.3 1.1-2.2-2.7z"/><path color="#80007a" d="M122.4 366.2l1.3-.2 1.4-.1 1.4-.1 .8 4.7z"/><path color="#ff0000" d="M197.3 326l6.1-.4 2.2 2.7-1.3 1.1-2.2-2.7z"/><path color="#ff0000" d="M197.3 326l7.3-1.6 2.3 2.8-1.3 1.1-2.2-2.7z"/><path color="#ff0000" d="M197.3 326l8.6-2.7 2.3 2.8-1.3 1.1-2.3-2.8z"/><path color="#ff0000" d="M197.3 326l9.8-3.8 2.5 2.8-1.4 1.1-2.3-2.8z"/><path color="#ff0000" d="M197.3 326l10.5-4.4 3.1 2.3-1.3 1.1-2.5-2.8z"/><path color="#80007a" d="M130.7 366l1.3 .1 1.2 .3 1.2 .2-7.1 3.9z"/><path color="#9200a6" d="M144.3 364.4l1 .8 .7 .8 .4 .8-3.6 1.1-.3-.6-.6-.7-.8-.6z"/><path color="#80007a" d="M119 367.1l1.1-.3 1.1-.3 1.2-.3 4.9 4.3z"/><path color="#860089" d="M141.1 366l.8 .6 .6 .7 .3 .6-4.6 1.2-.2-.5-.4-.4-.6-.5z"/><path color="#80007a" d="M134.4 366.6l1 .4 .9 .3 .7 .4-9.7 2.8z"/><path color="#ffe600" d="M191.6 335.7l1.8 2.5-1.4 1.1-1.7-2.4z"/><path color="#ffc900" d="M193 334.6l1.8 2.5-1.4 1.1-1.8-2.5z"/><path color="#ffa800" d="M194.3 333.5l1.9 2.5-1.4 1.1-1.8-2.5z"/><path color="#80007a" d="M116.9 368.3l.6-.4 .7-.4 .8-.4 8.3 3.4z"/><path color="#80007a" d="M137 367.7l.6 .5 .4 .4 .2 .5-10.9 1.4z"/><path color="#9200a6" d="M108.1 367.9l.1-.8 .3-.8 .6-.8 3.4 1.4-.5 .6-.2 .7 0 .7z"/><path color="#9e00c3" d="M105 367l.1-1 .4-.9 .7-1 2.9 1.4-.6 .8-.3 .8-.1 .8z"/><path color="#9200d6" d="M102.3 366l0-1.1 .4-1 .8-1.1 2.7 1.3-.7 1-.4 .9-.1 1z"/><path color="#860089" d="M111.8 368.9l0-.7 .2-.7 .5-.6 4.4 1.4-.3 .5-.2 .5 0 .5z"/><path color="#8100e7" d="M99.7 365l.1-1.2 .5-1.1 .8-1.2 2.4 1.3-.8 1.1-.4 1 0 1.1z"/><path color="#6600f2" d="M97.4 364l0-1.2 .5-1.3 1-1.2 2.2 1.2-.8 1.2-.5 1.1-.1 1.2z"/><path color="#3d00f7" d="M95.1 363.1l.1-1.4 .5-1.4 1-1.3 2.2 1.3-1 1.2-.5 1.3 0 1.2z"/><path color="#1400fc" d="M93 362.1l.1-1.5 .6-1.4 1-1.4 2 1.2-1 1.3-.5 1.4-.1 1.4z"/><path color="#80007a" d="M116.4 369.8l0-.5 .2-.5 .3-.5 10.4 2.2z"/><path color="#0012ff" d="M90.9 361.1l.2-1.6 .5-1.5 1.1-1.5 2 1.3-1 1.4-.6 1.4-.1 1.5z"/><path color="#0037ff" d="M89 360.1l.1-1.6 .6-1.6 1.1-1.6 1.9 1.2-1.1 1.5-.5 1.5-.2 1.6z"/><path color="#005cff" d="M87.1 359.1l.1-1.7 .6-1.7 1.2-1.6 1.8 1.2-1.1 1.6-.6 1.6-.1 1.6z"/><path color="#0081ff" d="M85.2 358l.2-1.7 .6-1.7 1.2-1.7 1.8 1.2-1.2 1.6-.6 1.7-.1 1.7z"/><path color="#ff0000" d="M207.8 321.6l4.3 1.2-1.2 1.1z"/><path color="#00abff" d="M83.4 357l.2-1.8 .7-1.8 1.2-1.7 1.7 1.2-1.2 1.7-.6 1.7-.2 1.7z"/><path color="#ff0000" d="M207.8 321.6l5.6 .1-1.3 1.1z"/><path color="#ff0000" d="M207.8 321.6l6.9-1-1.3 1.1z"/><path color="#00d4ff" d="M81.6 356l.2-1.9 .7-1.8 1.3-1.8 1.7 1.2-1.2 1.7-.7 1.8-.2 1.8z"/><path color="#ff0000" d="M207.8 321.6l8.2-2.1-1.3 1.1z"/><path color="#00feff" d="M79.9 355l.2-1.9 .7-2 1.3-1.8 1.7 1.2-1.3 1.8-.7 1.8-.2 1.9z"/><path color="#ff0000" d="M207.8 321.6l9.5-3.2-1.3 1.1z"/><path color="#80007a" d="M138.2 369.1l.1 .5-.2 .5-.3 .5-10.5-.1z"/><path color="#00ffb6" d="M78.2 354l.2-2 .8-2 1.3-1.9 1.6 1.2-1.3 1.8-.7 2-.2 1.9z"/><path color="#f20000" d="M207.8 321.6l10.7-4.3-1.2 1.1z"/><path color="#dc0000" d="M207.8 321.6l12-5.4-1.3 1.1z"/><path color="#00ff24" d="M76.5 353l.3-2.1 .7-2 1.4-2 1.6 1.2-1.3 1.9-.8 2-.2 2z"/><path color="#c70000" d="M207.8 321.6l13.3-6.5-1.3 1.1z"/><path color="#00ff00" d="M74.9 351.9l.3-2.1 .7-2.1 1.4-2 1.6 1.2-1.4 2-.7 2-.3 2.1z"/><path color="#00ff00" d="M73.3 350.9l.3-2.2 .8-2.1 1.4-2.1 1.5 1.2-1.4 2-.7 2.1-.3 2.1z"/><path color="#00ff00" d="M71.7 349.9l.3-2.2 .8-2.2 1.5-2.2 1.5 1.2-1.4 2.1-.8 2.1-.3 2.2z"/><path color="#00ff00" d="M70.1 348.8l.3-2.2 .9-2.3 1.5-2.2 1.5 1.2-1.5 2.2-.8 2.2-.3 2.2z"/><path color="#860089" d="M142.8 367.9l.1 .7-.2 .7-.4 .7-4.5 .6 .3-.5 .2-.5-.1-.5z"/><path color="#00ff00" d="M68.5 347.8l.4-2.3 .9-2.3 1.5-2.3 1.5 1.2-1.5 2.2-.9 2.3-.3 2.2z"/><path color="#80007a" d="M117.5 371.2l-.6-.5-.3-.4-.2-.5 10.9 .7z"/><path color="#2cff00" d="M67 346.8l.4-2.4 .9-2.3 1.5-2.3 1.5 1.1-1.5 2.3-.9 2.3-.4 2.3z"/><path color="#9fff00" d="M65.5 345.7l.4-2.4 .9-2.3 1.5-2.4 1.5 1.2-1.5 2.3-.9 2.3-.4 2.4z"/><path color="#ffff00" d="M64 344.7l.4-2.4 .9-2.5 1.6-2.4 1.4 1.2-1.5 2.4-.9 2.3-.4 2.4z"/><path color="#9200a6" d="M146.4 366.8l.1 .8-.2 .9-.5 .8-3.5 .7 .4-.7 .2-.7-.1-.7z"/><path color="#80007a" d="M137.8 370.6l-.5 .4-.7 .4-.8 .4-8.5-1.3z"/><path color="#9e00c3" d="M149.4 365.7l.2 .9-.2 1-.5 1-3.1 .7 .5-.8 .2-.9-.1-.8z"/><path color="#9200d6" d="M152.1 364.5l.2 1.1-.1 1.1-.6 1.1-2.7 .8 .5-1 .2-1-.2-.9z"/><path color="#80007a" d="M120.1 372.3l-1.1-.3-.8-.4-.7-.4 9.8-.7z"/><path color="#8100e7" d="M154.6 363.4l.3 1.2-.2 1.2-.6 1.2-2.5 .8 .6-1.1 .1-1.1-.2-1.1z"/><path color="#80007a" d="M135.8 371.8l-1 .4-1.2 .3-1.2 .3-5.1-2.3z"/><path color="#860089" d="M113.2 370.9l-.7-.7-.5-.6-.2-.7 4.6 .9 .2 .5 .3 .4 .6 .5z"/><path color="#6600f2" d="M156.9 362.3l.3 1.3-.1 1.3-.6 1.3-2.4 .8 .6-1.2 .2-1.2-.3-1.2z"/><path color="#80007a" d="M123.9 373l-1.4-.1-1.3-.3-1.1-.3 7.2-1.8z"/><path color="#3d00f7" d="M159.1 361.2l.3 1.4-.1 1.3-.6 1.4-2.2 .9 .6-1.3 .1-1.3-.3-1.3z"/><path color="#ff8600" d="M55.1 338.4l.6-2.7 1.1-2.6 3.5-1.2-2.1 2.3-1.1 2.6-.5 2.7z"/><path color="#80007a" d="M132.4 372.8l-1.4 .2-1.4 .1-1.4 .1-.9-2.7z"/><path color="#ff6400" d="M53.7 337.4l.6-2.8 1.1-2.7 4.9 0-3.5 1.2-1.1 2.6-.6 2.7z"/><path color="#1400fc" d="M161.2 360.1l.4 1.4-.1 1.5-.6 1.5-2.2 .8 .6-1.4 .1-1.3-.3-1.4z"/><path color="#80007a" d="M128.2 373.2l-1.5 0-1.4-.1-1.4-.1 3.4-2.5z"/><path color="#ff4300" d="M52.2 336.3l.7-2.7 1.1-2.8 6.3 1.1-4.9 0-1.1 2.7-.6 2.8z"/><path color="#ff0000" d="M48.7 330.3l3.6-.9-2.2 2z"/><path color="#ff1d00" d="M50.8 335.3l.7-2.8 1.1-2.8 7.7 2.2-6.3-1.1-1.1 2.8-.7 2.7z"/><path color="#9200a6" d="M109.9 370.4l-.9-.8-.6-.8-.3-.9 3.7 1 .2 .7 .5 .6 .7 .7z"/><path color="#0012ff" d="M163.2 359l.4 1.5-.1 1.6-.5 1.5-2.1 .9 .6-1.5 .1-1.5-.4-1.4z"/><path color="#ff0000" d="M47.3 329.2l5 .2-3.6 .9z"/><path color="#ff0000" d="M49.4 334.2l.7-2.8 2.2-2 8 2.5-7.7-2.2-1.1 2.8-.7 2.8z"/><path color="#ff0000" d="M46 328.1l6.3 1.3-5-.2z"/><path color="#ff0000" d="M44.6 327l7.7 2.4-6.3-1.3z"/><path color="#0037ff" d="M165.1 357.9l.5 1.6-.1 1.6-.5 1.7-2 .8 .5-1.5 .1-1.6-.4-1.5z"/><path color="#ff0000" d="M43.2 325.9l9.1 3.5-7.7-2.4z"/><path color="#860089" d="M142.3 370l-.7 .6-.9 .7-1.3 .5-3.6 0 .8-.4 .7-.4 .5-.4z"/><path color="#ff0000" d="M42.5 325.3l9.8 4.1-9.1-3.5z"/><path color="#005cff" d="M167 356.8l.5 1.7 0 1.7-.6 1.7-1.9 .9 .5-1.7 .1-1.6-.5-1.6z"/><path color="#9e00c3" d="M107 369.8l-1-.9-.7-1-.3-.9 3.1 .9 .3 .9 .6 .8 .9 .8z"/><path color="#ff0000" d="M212.1 322.8l.2 4.6-1.4-3.5z"/><path color="#0081ff" d="M168.7 355.7l.6 1.7 .1 1.8-.6 1.8-1.9 .9 .6-1.7 0-1.7-.5-1.7z"/><path color="#ff0000" d="M213.4 321.7l-1.1 5.7-.2-4.6z"/><path color="#ff0000" d="M214.7 320.6l-2.4 6.8 1.1-5.7z"/><path color="#ff0000" d="M216 319.5l-3.7 7.9 2.4-6.8z"/><path color="#ff0000" d="M217.3 318.4l-5 9 3.7-7.9z"/><path color="#00abff" d="M170.5 354.6l.6 1.8 .1 1.8-.5 1.9-1.9 .9 .6-1.8-.1-1.8-.6-1.7z"/><path color="#f20000" d="M218.5 317.3l-6.2 10.1 5-9z"/><path color="#dc0000" d="M219.8 316.2l-7.5 11.2 6.2-10.1z"/><path color="#c70000" d="M221.1 315.1l-8.8 12.3 7.5-11.2z"/><path color="#00d4ff" d="M172.2 353.5l.6 1.9 .2 1.9-.5 1.9-1.8 .9 .5-1.9-.1-1.8-.6-1.8z"/><path color="#9200d6" d="M104.3 369.2l-1-1-.7-1.1-.3-1.1 2.7 1 .3 .9 .7 1 1 .9z"/><path color="#9200a6" d="M145.8 369.3l-.8 .8-1.2 .8-1.4 .7-3 .2 1.3-.5 .9-.7 .7-.6z"/><path color="#00feff" d="M173.9 352.4l.7 1.9 .1 2-.4 2-1.8 .9 .5-1.9-.2-1.9-.6-1.9z"/><path color="#860089" d="M116.9 372.5l-1.5-.5-1.2-.5-1-.6 4.3 .3 .7 .4 .8 .4 1.1 .3z"/><path color="#00ffb6" d="M175.5 351.3l.7 2 .3 2-.4 2.1-1.8 .9 .4-2-.1-2-.7-1.9z"/><path color="#8100e7" d="M101.9 368.6l-1.1-1.2-.7-1.2-.4-1.2 2.6 1 .3 1.1 .7 1.1 1 1z"/><path color="#00ff24" d="M177.1 350.2l.8 2 .3 2.1-.4 2.2-1.7 .9 .4-2.1-.3-2-.7-2z"/><path color="#00ff00" d="M178.7 349.1l.8 2.1 .4 2.2-.4 2.2-1.7 .9 .4-2.2-.3-2.1-.8-2z"/><path color="#6600f2" d="M99.7 367.9l-1.3-1.3-.7-1.3-.3-1.3 2.3 1 .4 1.2 .7 1.2 1.1 1.2z"/><path color="#860089" d="M139.4 371.8l-1.4 .5-1.6 .5-1.8 .3-2.2-.3 1.2-.3 1.2-.3 1-.4z"/><path color="#00ff00" d="M180.3 348l.8 2.2 .4 2.2-.3 2.3-1.7 .9 .4-2.2-.4-2.2-.8-2.1z"/><path color="#9e00c3" d="M148.9 368.6l-1 .9-1.3 .9-1.7 .8-2.5 .4 1.4-.7 1.2-.8 .8-.8z"/><path color="#ff0000" d="M204.3 329.4l1.8 2.8-1.2 4.8-.2-3.7-1.7-2.8z"/><path color="#ff0000" d="M205.6 328.3l1.9 2.9-2.6 5.8 1.2-4.8-1.8-2.8z"/><path color="#00ff00" d="M181.8 346.9l.9 2.2 .4 2.3-.2 2.3-1.7 1 .3-2.3-.4-2.2-.8-2.2z"/><path color="#ff0000" d="M206.9 327.2l1.9 2.9-3.9 6.9 2.6-5.8-1.9-2.9z"/><path color="#ffe600" d="M59.5 344.2l0-2.6 .5-2.6 1-2.5 1.4 1.1-1 2.5-.4 2.5 0 2.6z"/><path color="#ff0000" d="M208.2 326.1l2 2.9-5.3 8 3.9-6.9-1.9-2.9z"/><path color="#3d00f7" d="M97.5 367.2l-1.3-1.4-.7-1.4-.4-1.3 2.3 .9 .3 1.3 .7 1.3 1.3 1.3z"/><path color="#00ff00" d="M183.3 345.8l1 2.3 .5 2.3-.2 2.4-1.7 .9 .2-2.3-.4-2.3-.9-2.2z"/><path color="#ff0000" d="M209.6 325l2 3-6.7 9 5.3-8-2-2.9z"/><path color="#ffc900" d="M58 343.2l0-2.7 .5-2.6 1.1-2.6 1.4 1.2-1 2.5-.5 2.6 0 2.6z"/><path color="#ff0000" d="M210.9 323.9l1.4 3.5-7.4 9.6 6.7-9-2-3z"/><path color="#9200a6" d="M114.4 372.5l-1.8-.7-1.5-.7-1.2-.7 3.3 .5 1 .6 1.2 .5 1.5 .5z"/><path color="#00ff00" d="M184.8 344.7l1 2.3 .5 2.4-.1 2.5-1.6 .9 .2-2.4-.5-2.3-1-2.3z"/><path color="#ffa800" d="M56.5 342.2l.1-2.7 .5-2.7 1.1-2.6 1.4 1.1-1.1 2.6-.5 2.6 0 2.7z"/><path color="#860089" d="M122.4 373.5l-2-.2-1.8-.4-1.7-.4 3.2-.2 1.1 .3 1.3 .3 1.4 .1z"/><path color="#9200d6" d="M151.6 367.8l-1 1.1-1.5 1-1.9 .9-2.3 .4 1.7-.8 1.3-.9 1-.9z"/><path color="#2cff00" d="M186.3 343.6l1 2.4 .6 2.4 0 2.5-1.7 1 .1-2.5-.5-2.4-1-2.3z"/><path color="#1400fc" d="M95.4 366.4l-1.3-1.4-.8-1.5-.3-1.4 2.1 1 .4 1.3 .7 1.4 1.3 1.4z"/><path color="#9fff00" d="M187.7 342.6l1.2 2.3 .6 2.5 0 2.6-1.6 .9 0-2.5-.6-2.4-1-2.4z"/><path color="#860089" d="M134.6 373.1l-2 .3-2 .2-2 .1-.4-.5 1.4-.1 1.4-.1 1.4-.2z"/><path color="#ffff00" d="M189.2 341.5l1.2 2.4 .6 2.5 .1 2.6-1.6 1 0-2.6-.6-2.5-1.2-2.3z"/><path color="#0012ff" d="M93.4 365.7l-1.3-1.5-.8-1.6-.4-1.5 2.1 1 .3 1.4 .8 1.5 1.3 1.4z"/><path color="#860089" d="M128.6 373.7l-2.1 0-2.1 0-2-.2 1.5-.5 1.4 .1 1.4 .1 1.5 0z"/><path color="#ffff00" d="M190.6 340.4l1.2 2.4 .8 2.6 .1 2.7-1.6 .9-.1-2.6-.6-2.5-1.2-2.4z"/><path color="#ff8600" d="M197.6 334.9l1.5 2.6 1 2.8-1.6 4.2 .1-3.2-1-2.7-1.4-2.6z"/><path color="#8100e7" d="M154.1 367l-1 1.2-1.6 1.1-2.1 1-2.2 .5 1.9-.9 1.5-1 1-1.1z"/><path color="#9200a6" d="M142.4 371.6l-1.8 .6-2.1 .6-2.2 .4-1.7-.1 1.8-.3 1.6-.5 1.4-.5z"/><path color="#ff6400" d="M198.9 333.8l1.6 2.7 1.1 2.8-3.1 5.2 1.6-4.2-1-2.8-1.5-2.6z"/><path color="#ffff00" d="M192 339.3l1.3 2.5 .8 2.6 .2 2.7-1.6 1-.1-2.7-.8-2.6-1.2-2.4z"/><path color="#0037ff" d="M91.5 364.9l-1.4-1.6-.8-1.6-.3-1.6 1.9 1 .4 1.5 .8 1.6 1.3 1.5z"/><path color="#9e00c3" d="M112.2 372.2l-2.1-.7-1.8-.8-1.3-.9 2.9 .6 1.2 .7 1.5 .7 1.8 .7z"/><path color="#ff4300" d="M200.3 332.7l1.6 2.7 1.2 2.9-4.6 6.2 3.1-5.2-1.1-2.8-1.6-2.7z"/><path color="#ffe600" d="M193.4 338.2l1.4 2.5 .8 2.7 .2 2.8-1.5 .9-.2-2.7-.8-2.6-1.3-2.5z"/><path color="#ff1d00" d="M201.6 331.6l1.7 2.8 1.2 2.9-6 7.2 4.6-6.2-1.2-2.9-1.6-2.7z"/><path color="#ff0000" d="M203 330.5l1.7 2.8 .2 3.7-6.4 7.5 6-7.2-1.2-2.9-1.7-2.8z"/><path color="#ffc900" d="M194.8 337.1l1.4 2.6 .9 2.7 .3 2.8-1.6 1-.2-2.8-.8-2.7-1.4-2.5z"/><path color="#005cff" d="M89.6 364.2l-1.4-1.8-.8-1.7-.3-1.6 1.9 1 .3 1.6 .8 1.6 1.4 1.6z"/><path color="#6600f2" d="M156.5 366.2l-1.1 1.3-1.7 1.2-2.3 1.1-2 .5 2.1-1 1.6-1.1 1-1.2z"/><path color="#ffa800" d="M196.2 336l1.4 2.6 1 2.7-.1 3.2-1.1 .7-.3-2.8-.9-2.7-1.4-2.6z"/><path color="#0081ff" d="M87.8 363.4l-1.5-1.8-.8-1.8-.3-1.8 1.9 1.1 .3 1.6 .8 1.7 1.4 1.8z"/><path color="#9200a6" d="M121.2 373.7l-2.5-.3-2.3-.4-2-.5 2.5 0 1.7 .4 1.8 .4 2 .2z"/><path color="#9200d6" d="M110.2 371.9l-2.4-.8-1.9-.9-1.6-1 2.7 .6 1.3 .9 1.8 .8 2.1 .7z"/><path color="#3d00f7" d="M158.7 365.3l-1.1 1.4-1.8 1.3-2.4 1.3-2 .5 2.3-1.1 1.7-1.2 1.1-1.3z"/><path color="#00abff" d="M86 362.6l-1.5-1.9-.8-1.8-.3-1.9 1.8 1 .3 1.8 .8 1.8 1.5 1.8z"/><path color="#9e00c3" d="M144.9 371.2l-2.1 .8-2.4 .6-2.6 .5-1.5 .1 2.2-.4 2.1-.6 1.8-.6z"/><path color="#9200a6" d="M136.3 373.2l-2.4 .4-2.5 .2-2.6 .1-.2-.2 2-.1 2-.2 2-.3z"/><path color="#00d4ff" d="M84.2 361.8l-1.5-2-.8-1.9-.3-1.9 1.8 1 .3 1.9 .8 1.8 1.5 1.9z"/><path color="#9200a6" d="M128.8 373.9l-2.5 0-2.6 0-2.5-.2 1.2-.2 2 .2 2.1 0 2.1 0z"/><path color="#1400fc" d="M160.9 364.5l-1.2 1.5-1.9 1.4-2.6 1.3-1.8 .6 2.4-1.3 1.8-1.3 1.1-1.4z"/><path color="#00feff" d="M82.4 361l-1.4-2.1-.8-1.9-.3-2 1.7 1 .3 1.9 .8 1.9 1.5 2z"/><path color="#8100e7" d="M108.3 371.6l-2.6-.9-2.1-1-1.7-1.1 2.4 .6 1.6 1 1.9 .9 2.4 .8z"/><path color="#ffff00" d="M63.1 348.8l-.6-2.6 0-2.5 .4-2.5 1.5 1.1-.4 2.4 0 2.5 .7 2.6z"/><path color="#00ffb6" d="M80.7 360.1l-1.4-2-.8-2.1-.3-2 1.7 1 .3 2 .8 1.9 1.4 2.1z"/><path color="#ffff00" d="M61.6 347.9l-.6-2.7 0-2.6 .4-2.5 1.5 1.1-.4 2.5 0 2.5 .6 2.6z"/><path color="#9e00c3" d="M120.1 373.7l-2.8-.4-2.7-.5-2.4-.6 2.2 .3 2 .5 2.3 .4 2.5 .3z"/><path color="#0012ff" d="M163 363.6l-1.2 1.6-2 1.5-2.7 1.4-1.9 .6 2.6-1.3 1.9-1.4 1.2-1.5z"/><path color="#9200d6" d="M147.2 370.8l-2.3 .8-2.8 .8-2.9 .5-1.4 .2 2.6-.5 2.4-.6 2.1-.8z"/><path color="#00ff24" d="M79 359.3l-1.4-2.1-.8-2.2-.3-2 1.7 1 .3 2 .8 2.1 1.4 2z"/><path color="#6600f2" d="M106.5 371.2l-2.8-1-2.3-1.1-1.7-1.2 2.2 .7 1.7 1.1 2.1 1 2.6 .9z"/><path color="#9e00c3" d="M137.8 373.1l-2.8 .4-2.9 .3-3 .1-.3 0 2.6-.1 2.5-.2 2.4-.4z"/><path color="#0037ff" d="M165 362.8l-1.2 1.6-2.1 1.6-2.9 1.5-1.7 .6 2.7-1.4 2-1.5 1.2-1.6z"/><path color="#00ff00" d="M77.4 358.5l-1.5-2.3-.8-2.1-.2-2.2 1.6 1.1 .3 2 .8 2.2 1.4 2.1z"/><path color="#9e00c3" d="M129.1 373.9l-3 .1-3-.1-3-.2 1.1 0 2.5 .2 2.6 0 2.5 0z"/><path color="#ff0000" d="M41.3 331.4l-1.7-4.6 2.9-1.5-1.5 2.5z"/><path color="#00ff00" d="M75.7 357.6l-1.5-2.3-.7-2.2-.2-2.2 1.6 1 .2 2.2 .8 2.1 1.5 2.3z"/><path color="#ff0000" d="M41.3 331.4l-3-5.7 4.2-.4-2.9 1.5z"/><path color="#8100e7" d="M149.4 370.3l-2.6 1-3.1 .7-3.3 .6-1.2 .3 2.9-.5 2.8-.8 2.3-.8z"/><path color="#ff0000" d="M50.6 340.9l-2.8-4.8 .2-3 .7-2.8 1.4 1.1-.7 2.8-.2 2.9z"/><path color="#005cff" d="M166.9 361.9l-1.2 1.7-2.1 1.7-3 1.6-1.8 .6 2.9-1.5 2.1-1.6 1.2-1.6z"/><path color="#ff0000" d="M41.3 331.4l-4.4-6.8 5.6 .7-4.2 .4z"/><path color="#ff0000" d="M50.6 340.9l-4.3-5.8 .3-3 .7-2.9 1.4 1.1-.7 2.8-.2 3z"/><path color="#ff0000" d="M41.3 331.4l-5.8-7.9 7 1.8-5.6-.7z"/><path color="#9200d6" d="M119.2 373.5l-3.3-.3-3-.6-2.7-.7 2 .3 2.4 .6 2.7 .5 2.8 .4z"/><path color="#3d00f7" d="M104.8 370.8l-3-1.1-2.5-1.2-1.8-1.3 2.2 .7 1.7 1.2 2.3 1.1 2.8 1z"/><path color="#00ff00" d="M74.1 356.8l-1.5-2.4-.7-2.3-.2-2.2 1.6 1 .2 2.2 .7 2.2 1.5 2.3z"/><path color="#ff0000" d="M41.3 331.4l-7.1-8.9 8.3 2.8-7-1.8z"/><path color="#ff0000" d="M50.6 340.9l-5.7-6.9 .3-3 .8-2.9 1.3 1.1-.7 2.9-.3 3z"/><path color="#f20000" d="M41.3 331.4l-8.5-10 9.7 3.9-8.3-2.8z"/><path color="#dc0000" d="M41.3 331.4l-9.9-11.1 11.1 5-9.7-3.9z"/><path color="#ff0000" d="M50.6 340.9l-7.1-7.9 .3-3 .8-3 1.4 1.1-.8 2.9-.3 3z"/><path color="#c70000" d="M41.3 331.4l-11.2-12.2 12.4 6.1-11.1-5z"/><path color="#0081ff" d="M168.8 361l-1.2 1.8-2.1 1.8-3.2 1.6-1.7 .7 3-1.6 2.1-1.7 1.2-1.7z"/><path color="#00ff00" d="M72.4 355.9l-1.4-2.4-.7-2.4-.2-2.3 1.6 1.1 .2 2.2 .7 2.3 1.5 2.4z"/><path color="#ff0000" d="M50.6 340.9l-8.6-8.9 .4-3.1 .8-3 1.4 1.1-.8 3-.3 3z"/><path color="#9200d6" d="M139.2 372.9l-3.2 .4-3.3 .3-3.4 .2-.2 .1 3-.1 2.9-.3 2.8-.4z"/><path color="#ff0000" d="M50.6 340.9l-9.3-9.5-.3-3.6 1.5-2.5 .7 .6-.8 3-.4 3.1z"/><path color="#00ff00" d="M70.8 355l-1.4-2.4-.7-2.4-.2-2.4 1.6 1 .2 2.3 .7 2.4 1.4 2.4z"/><path color="#6600f2" d="M151.4 369.8l-2.8 1-3.3 .9-3.7 .6-1.2 .3 3.3-.6 3.1-.7 2.6-1z"/><path color="#1400fc" d="M103.2 370.3l-3.3-1.2-2.6-1.3-1.9-1.4 2.1 .8 1.8 1.3 2.5 1.2 3 1.1z"/><path color="#00abff" d="M170.7 360.1l-1.2 1.9-2.2 1.9-3.3 1.7-1.7 .6 3.2-1.6 2.1-1.8 1.2-1.8z"/><path color="#9200d6" d="M129.3 373.8l-3.4 .1-3.4-.1-3.3-.3 .9 .2 3 .2 3 .1 3-.1z"/><path color="#2cff00" d="M69.2 354.2l-1.4-2.6-.7-2.4-.1-2.4 1.5 1 .2 2.4 .7 2.4 1.4 2.4z"/><path color="#8100e7" d="M118.3 373.3l-3.6-.4-3.4-.6-3-.7 1.9 .3 2.7 .7 3 .6 3.3 .3z"/><path color="#9fff00" d="M67.6 353.3l-1.4-2.6-.6-2.5-.1-2.5 1.5 1.1 .1 2.4 .7 2.4 1.4 2.6z"/><path color="#00d4ff" d="M172.5 359.2l-1.2 2-2.2 1.9-3.5 1.8-1.6 .7 3.3-1.7 2.2-1.9 1.2-1.9z"/><path color="#0012ff" d="M101.6 369.8l-3.5-1.2-2.7-1.4-2-1.5 2 .7 1.9 1.4 2.6 1.3 3.3 1.2z"/><path color="#3d00f7" d="M153.4 369.3l-3.1 1.1-3.6 .8-3.9 .8-1.2 .3 3.7-.6 3.3-.9 2.8-1z"/><path color="#ffff00" d="M66.1 352.4l-1.4-2.6-.7-2.6 0-2.5 1.5 1 .1 2.5 .6 2.5 1.4 2.6z"/><path color="#8100e7" d="M140.4 372.6l-3.5 .5-3.6 .3-3.8 .2-.2 .2 3.4-.2 3.3-.3 3.2-.4z"/><path color="#00feff" d="M174.3 358.3l-1.2 2.1-2.3 2-3.5 1.8-1.7 .7 3.5-1.8 2.2-1.9 1.2-2z"/><path color="#0037ff" d="M100 369.3l-3.6-1.3-2.9-1.5-2-1.6 1.9 .8 2 1.5 2.7 1.4 3.5 1.2z"/><path color="#8100e7" d="M129.5 373.6l-3.7 .1-3.8-.1-3.7-.3 .9 .2 3.3 .3 3.4 .1 3.4-.1z"/><path color="#6600f2" d="M117.5 373.1l-4-.5-3.7-.6-3.3-.8 1.8 .4 3 .7 3.4 .6 3.6 .4z"/><path color="#00ffb6" d="M176.1 357.4l-1.2 2.1-2.3 2.1-3.7 2-1.6 .6 3.5-1.8 2.3-2 1.2-2.1z"/><path color="#1400fc" d="M155.2 368.7l-3.3 1.2-3.8 .9-4.3 .8-1 .4 3.9-.8 3.6-.8 3.1-1.1z"/><path color="#ff8600" d="M58.8 348.2l-3.3-4.2-.5-2.8 .1-2.8 1.5 1.1-.1 2.7 .5 2.8z"/><path color="#00ff24" d="M177.8 356.5l-1.2 2.2-2.3 2.2-3.8 2-1.6 .7 3.7-2 2.3-2.1 1.2-2.1z"/><path color="#6600f2" d="M141.6 372.3l-3.8 .5-4 .4-4.1 .2-.2 .2 3.8-.2 3.6-.3 3.5-.5z"/><path color="#005cff" d="M98.5 368.7l-3.9-1.3-2.9-1.6-2.1-1.6 1.9 .7 2 1.6 2.9 1.5 3.6 1.3z"/><path color="#ff6400" d="M58.8 348.2l-4.8-5.1-.4-2.9 .1-2.8 1.4 1-.1 2.8 .5 2.8z"/><path color="#ff4300" d="M58.8 348.2l-6.3-6.1-.4-2.9 .1-2.9 1.5 1.1-.1 2.8 .4 2.9z"/><path color="#3d00f7" d="M116.7 372.8l-4.3-.5-4-.7-3.6-.8 1.7 .4 3.3 .8 3.7 .6 4 .5z"/><path color="#ff1d00" d="M58.8 348.2l-7.8-7.1-.3-3 .1-2.8 1.4 1-.1 2.9 .4 2.9z"/><path color="#00ff00" d="M179.5 355.6l-1.1 2.3-2.4 2.2-3.9 2.1-1.6 .7 3.8-2 2.3-2.2 1.2-2.2z"/><path color="#0012ff" d="M157.1 368.1l-3.5 1.2-4.2 1-4.5 .8-1.1 .5 4.3-.8 3.8-.9 3.3-1.2z"/><path color="#6600f2" d="M129.7 373.4l-4.1 0-4.1-.1-4-.2 .8 .2 3.7 .3 3.8 .1 3.7-.1z"/><path color="#ffe600" d="M195.8 346.2l-3.2 4.2 1.7-3.3z"/><path color="#ff0000" d="M58.8 348.2l-8.2-7.3-1.4-3.8 .2-2.9 1.4 1.1-.1 2.8 .3 3z"/><path color="#0081ff" d="M97 368.2l-4-1.4-3.1-1.7-2.1-1.7 1.8 .8 2.1 1.6 2.9 1.6 3.9 1.3z"/><path color="#ffc900" d="M197.4 345.2l-4.8 5.2 3.2-4.2z"/><path color="#00ff00" d="M181.2 354.7l-1.1 2.3-2.4 2.3-4 2.2-1.6 .7 3.9-2.1 2.4-2.2 1.1-2.3z"/><path color="#ffa800" d="M198.5 344.5l-5.9 5.9 4.8-5.2z"/><path color="#3d00f7" d="M142.8 372l-4.2 .5-4.3 .3-4.4 .3-.2 .3 4.1-.2 4-.4 3.8-.5z"/><path color="#0037ff" d="M158.8 367.5l-3.7 1.3-4.4 1-4.8 .9-1 .4 4.5-.8 4.2-1 3.5-1.2z"/><path color="#00abff" d="M95.5 367.6l-4.2-1.5-3.1-1.7-2.2-1.8 1.8 .8 2.1 1.7 3.1 1.7 4 1.4z"/><path color="#1400fc" d="M115.9 372.4l-4.6-.5-4.3-.7-3.8-.9 1.6 .5 3.6 .8 4 .7 4.3 .5z"/><path color="#00ff00" d="M182.9 353.7l-1.1 2.4-2.4 2.4-4.1 2.2-1.6 .8 4-2.2 2.4-2.3 1.1-2.3z"/><path color="#3d00f7" d="M129.9 373.1l-4.4 0-4.4-.1-4.4-.2 .8 .3 4 .2 4.1 .1 4.1 0z"/><path color="#ffff00" d="M192.7 348.1l-.9 2.8-4.7 3.9 3-3 1-2.8z"/><path color="#00ff00" d="M184.6 352.8l-1.1 2.5-2.5 2.4-4.1 2.3-1.6 .7 4.1-2.2 2.4-2.4 1.1-2.4z"/><path color="#ffff00" d="M194.3 347.1l-1.7 3.3-5.5 4.4 4.7-3.9 .9-2.8z"/><path color="#00d4ff" d="M94 367.1l-4.3-1.6-3.3-1.8-2.2-1.9 1.8 .8 2.2 1.8 3.1 1.7 4.2 1.5z"/><path color="#1400fc" d="M143.8 371.6l-4.4 .5-4.6 .4-4.7 .2-.2 .4 4.4-.3 4.3-.3 4.2-.5z"/><path color="#005cff" d="M160.6 366.9l-3.9 1.3-4.7 1.1-5.1 .9-1 .5 4.8-.9 4.4-1 3.7-1.3z"/><path color="#0012ff" d="M115.2 372l-4.9-.5-4.6-.7-4.1-1 1.6 .5 3.8 .9 4.3 .7 4.6 .5z"/><path color="#00ff00" d="M186.2 351.9l-1 2.5-2.5 2.5-4.2 2.4-1.6 .7 4.1-2.3 2.5-2.4 1.1-2.5z"/><path color="#ffe600" d="M66.1 353.9l-4.7-4.1-1.3-2.9-.6-2.7 1.5 1 .6 2.7 1.3 2.7z"/><path color="#00feff" d="M92.6 366.5l-4.5-1.7-3.4-1.9-2.3-1.9 1.8 .8 2.2 1.9 3.3 1.8 4.3 1.6z"/><path color="#1400fc" d="M130.1 372.7l-4.7 .1-4.8-.1-4.7-.3 .8 .4 4.4 .2 4.4 .1 4.4 0z"/><path color="#2cff00" d="M187.9 350.9l-1.1 2.6-2.4 2.6-4.4 2.4-1.5 .8 4.2-2.4 2.5-2.5 1-2.5z"/><path color="#ffc900" d="M66.1 353.9l-6.3-5-1.3-2.9-.5-2.8 1.5 1 .6 2.7 1.3 2.9z"/><path color="#0081ff" d="M162.3 366.2l-4.1 1.5-4.9 1.1-5.4 .9-1 .5 5.1-.9 4.7-1.1 3.9-1.3z"/><path color="#ffff00" d="M191.1 349l-1 2.8-3 3-5.5 3 4.4-2.5 2.5-2.6 1-2.7z"/><path color="#0012ff" d="M144.9 371.1l-4.8 .6-4.9 .4-4.9 .2-.2 .4 4.7-.2 4.6-.4 4.4-.5z"/><path color="#ffa800" d="M66.1 353.9l-7.3-5.7-1.8-3.2-.5-2.8 1.5 1 .5 2.8 1.3 2.9z"/><path color="#0037ff" d="M114.4 371.6l-5.1-.5-4.9-.8-4.4-1 1.6 .5 4.1 1 4.6 .7 4.9 .5z"/><path color="#00ffb6" d="M91.1 365.9l-4.6-1.8-3.5-1.9-2.3-2.1 1.7 .9 2.3 1.9 3.4 1.9 4.5 1.7z"/><path color="#9fff00" d="M189.5 350l-1 2.7-2.5 2.6-4.4 2.5-1.6 .7 4.4-2.4 2.4-2.6 1.1-2.6z"/><path color="#00abff" d="M164 365.6l-4.3 1.5-5.2 1.1-5.6 .9-1 .6 5.4-.9 4.9-1.1 4.1-1.5z"/><path color="#0012ff" d="M130.3 372.3l-5.1 .1-5-.1-5-.3 .7 .4 4.7 .3 4.8 .1 4.7-.1z"/><path color="#00ff24" d="M89.7 365.2l-4.8-1.7-3.5-2.1-2.4-2.1 1.7 .8 2.3 2.1 3.5 1.9 4.6 1.8z"/><path color="#0037ff" d="M145.9 370.7l-5 .6-5.2 .4-5.3 .2-.1 .4 4.9-.2 4.9-.4 4.8-.6z"/><path color="#005cff" d="M113.7 371.2l-5.4-.5-5.2-.9-4.6-1.1 1.5 .6 4.4 1 4.9 .8 5.1 .5z"/><path color="#00d4ff" d="M165.6 364.9l-4.5 1.6-5.4 1.2-5.9 .9-.9 .5 5.6-.9 5.2-1.1 4.3-1.5z"/><path color="#00ff00" d="M88.3 364.6l-5-1.8-3.6-2.1-2.3-2.2 1.6 .8 2.4 2.1 3.5 2.1 4.8 1.7z"/><path color="#0037ff" d="M130.4 371.9l-5.3 .1-5.3-.1-5.4-.3 .8 .4 5 .3 5 .1 5.1-.1z"/><path color="#005cff" d="M146.9 370.2l-5.3 .6-5.5 .4-5.5 .3-.2 .4 5.3-.2 5.2-.4 5-.6z"/><path color="#0081ff" d="M113.1 370.7l-5.8-.5-5.5-.9-4.8-1.1 1.5 .5 4.6 1.1 5.2 .9 5.4 .5z"/><path color="#00ff00" d="M86.9 364l-5.2-1.9-3.6-2.2-2.4-2.3 1.7 .9 2.3 2.2 3.6 2.1 5 1.8z"/><path color="#00feff" d="M167.3 364.2l-4.7 1.6-5.7 1.3-6.1 .9-1 .6 5.9-.9 5.4-1.2 4.5-1.6z"/><path color="#ffff00" d="M73.1 358l-6.2-3.7-2.4-2.8-1.4-2.7 1.6 1 1.4 2.6 2.4 2.7z"/><path color="#005cff" d="M130.6 371.5l-5.6 .1-5.6-.1-5.7-.3 .7 .4 5.4 .3 5.3 .1 5.3-.1z"/><path color="#ffff00" d="M73.1 358l-7-4.1-3.2-3.3-1.3-2.7 1.5 .9 1.4 2.7 2.4 2.8z"/><path color="#00ff00" d="M85.5 363.4l-5.3-2-3.7-2.3-2.4-2.3 1.6 .8 2.4 2.3 3.6 2.2 5.2 1.9z"/><path color="#0081ff" d="M147.9 369.7l-5.6 .6-5.7 .4-5.9 .3-.1 .5 5.5-.3 5.5-.4 5.3-.6z"/><path color="#00ffb6" d="M168.9 363.6l-4.9 1.6-5.9 1.3-6.4 1-.9 .5 6.1-.9 5.7-1.3 4.7-1.6z"/><path color="#00abff" d="M112.4 370.2l-6.1-.5-5.7-.9-5.1-1.2 1.5 .6 4.8 1.1 5.5 .9 5.8 .5z"/><path color="#00ff00" d="M84.1 362.7l-5.5-2-3.7-2.4-2.5-2.4 1.7 .9 2.4 2.3 3.7 2.3 5.3 2z"/><path color="#0081ff" d="M130.7 371l-5.8 .1-5.9-.1-5.9-.3 .6 .5 5.7 .3 5.6 .1 5.6-.1z"/><path color="#00ff24" d="M170.5 362.9l-5.1 1.7-6.1 1.3-6.7 1-.9 .6 6.4-1 5.9-1.3 4.9-1.6z"/><path color="#00abff" d="M148.9 369.1l-5.9 .7-6 .4-6.1 .3-.2 .5 5.9-.3 5.7-.4 5.6-.6z"/><path color="#00d4ff" d="M111.7 369.8l-6.3-.6-6.1-.9-5.3-1.2 1.5 .5 5.1 1.2 5.7 .9 6.1 .5z"/><path color="#00ff00" d="M82.7 362l-5.6-2.1-3.8-2.4-2.5-2.5 1.6 .9 2.5 2.4 3.7 2.4 5.5 2z"/><path color="#00ff00" d="M172.1 362.2l-5.3 1.7-6.3 1.4-7 1-.9 .6 6.7-1 6.1-1.3 5.1-1.7z"/><path color="#00abff" d="M130.9 370.5l-6.1 .1-6.2-.1-6.2-.3 .7 .5 5.9 .3 5.9 .1 5.8-.1z"/><path color="#00d4ff" d="M149.8 368.6l-6.1 .7-6.3 .4-6.4 .3-.1 .5 6.1-.3 6-.4 5.9-.7z"/><path color="#2cff00" d="M81.3 361.4l-5.7-2.2-3.9-2.5-2.5-2.5 1.6 .8 2.5 2.5 3.8 2.4 5.6 2.1z"/><path color="#00feff" d="M111.1 369.2l-6.7-.5-6.3-.9-5.5-1.3 1.4 .6 5.3 1.2 6.1 .9 6.3 .6z"/><path color="#ffff00" d="M79.9 360.7l-6.8-2.7-4.6-2.9-2.4-2.7 1.5 .9 2.5 2.6 3.9 2.6z"/><path color="#00ff00" d="M173.7 361.5l-5.5 1.8-6.6 1.4-7.2 1-.9 .6 7-1 6.3-1.4 5.3-1.7z"/><path color="#9fff00" d="M79.9 360.7l-5.9-2.2-3.9-2.6-2.5-2.6 1.6 .9 2.5 2.5 3.9 2.5 5.7 2.2z"/><path color="#00d4ff" d="M131 370l-6.4 .1-6.4-.1-6.5-.2 .7 .4 6.2 .3 6.2 .1 6.1-.1z"/><path color="#00feff" d="M150.8 368l-6.5 .7-6.5 .5-6.6 .3-.2 .5 6.4-.3 6.3-.4 6.1-.7z"/><path color="#00ffb6" d="M110.4 368.7l-6.9-.6-6.6-.9-5.8-1.3 1.5 .6 5.5 1.3 6.3 .9 6.7 .5z"/><path color="#00ff00" d="M175.3 360.7l-5.7 1.9-6.8 1.4-7.5 1.1-.9 .6 7.2-1 6.6-1.4 5.5-1.8z"/><path color="#00ffb6" d="M151.7 367.5l-6.7 .7-6.8 .5-6.9 .3-.1 .5 6.6-.3 6.5-.5 6.5-.7z"/><path color="#00feff" d="M131.2 369.5l-6.7 .1-6.7-.1-6.7-.3 .6 .6 6.5 .2 6.4 .1 6.4-.1z"/><path color="#00ff24" d="M109.8 368.2l-7.2-.6-6.9-1-6-1.4 1.4 .7 5.8 1.3 6.6 .9 6.9 .6z"/><path color="#00ff00" d="M176.9 360l-5.9 1.9-7.1 1.5-7.7 1-.9 .7 7.5-1.1 6.8-1.4 5.7-1.9z"/><path color="#00ff24" d="M152.6 366.9l-7 .7-7 .5-7.1 .3-.2 .6 6.9-.3 6.8-.5 6.7-.7z"/><path color="#00ffb6" d="M131.3 369l-6.9 .1-7-.1-7-.3 .7 .5 6.7 .3 6.7 .1 6.7-.1z"/><path color="#00ff00" d="M109.1 367.6l-7.5-.6-7.1-.9-6.2-1.5 1.4 .6 6 1.4 6.9 1 7.2 .6z"/><path color="#00ff00" d="M178.5 359.3l-6.1 1.9-7.3 1.5-8 1.1-.9 .6 7.7-1 7.1-1.5 5.9-1.9z"/><path color="#00ff00" d="M153.5 366.3l-7.2 .7-7.3 .5-7.4 .3-.1 .6 7.1-.3 7-.5 7-.7z"/><path color="#2cff00" d="M180 358.5l-6.2 2-7.6 1.6-8.3 1.1-.8 .6 8-1.1 7.3-1.5 6.1-1.9z"/><path color="#00ff24" d="M131.5 368.4l-7.2 .1-7.2 0-7.3-.3 .6 .5 7 .3 7 .1 6.9-.1z"/><path color="#00ff00" d="M108.5 367.1l-7.8-.6-7.4-1-6.4-1.5 1.4 .6 6.2 1.5 7.1 .9 7.5 .6z"/><path color="#9fff00" d="M181.6 357.8l-6.4 2-7.9 1.6-8.5 1.1-.9 .7 8.3-1.1 7.6-1.6 6.2-2z"/><path color="#00ff00" d="M154.4 365.7l-7.5 .7-7.5 .5-7.6 .4-.2 .5 7.4-.3 7.3-.5 7.2-.7z"/><path color="#00ff00" d="M107.9 366.5l-8.1-.6-7.6-1-6.7-1.5 1.4 .6 6.4 1.5 7.4 1 7.8 .6z"/><path color="#00ff00" d="M131.6 367.8l-7.4 .2-7.5-.1-7.6-.3 .7 .6 7.3 .3 7.2 0 7.2-.1z"/><path color="#00ff00" d="M155.3 365.1l-7.7 .7-7.8 .5-7.9 .4-.1 .6 7.6-.4 7.5-.5 7.5-.7z"/><path color="#00ff00" d="M107.3 365.9l-8.4-.6-7.9-1-6.9-1.6 1.4 .7 6.7 1.5 7.6 1 8.1 .6z"/><path color="#00ff00" d="M131.8 367.3l-7.7 .1-7.8-.1-7.8-.2 .6 .5 7.6 .3 7.5 .1 7.4-.2z"/><path color="#ffff00" d="M181.6 357.8l-5.6 1.6-7.5 1.3-8.8 1.1-.9 .7 8.5-1.1 7.9-1.6z"/><path color="#00ff00" d="M156.2 364.4l-8 .8-8.1 .5-8.1 .4-.1 .6 7.9-.4 7.8-.5 7.7-.7z"/><path color="#00ff00" d="M106.6 365.3l-8.6-.6-8.2-1.1-7.1-1.6 1.4 .7 6.9 1.6 7.9 1 8.4 .6z"/><path color="#00ff00" d="M131.9 366.7l-7.9 .1-8 0-8.1-.3 .6 .6 7.8 .2 7.8 .1 7.7-.1z"/><path color="#00ff00" d="M157.1 363.8l-8.3 .8-8.3 .5-8.3 .3-.2 .7 8.1-.4 8.1-.5 8-.8z"/><path color="#2cff00" d="M106 364.7l-8.9-.6-8.4-1.1-7.4-1.6 1.4 .6 7.1 1.6 8.2 1.1 8.6 .6z"/><path color="#00ff00" d="M132 366.1l-8.1 .1-8.3 0-8.3-.3 .6 .6 8.1 .3 8 0 7.9-.1z"/><path color="#2cff00" d="M157.9 363.2l-8.5 .7-8.5 .6-8.6 .3-.1 .6 8.3-.3 8.3-.5 8.3-.8z"/><path color="#9fff00" d="M105.4 364.1l-9.2-.6-8.7-1.1-7.6-1.7 1.4 .7 7.4 1.6 8.4 1.1 8.9 .6z"/><path color="#ffff00" d="M176 359.4l-6.4 .6-9.1 1.2-9.2 .8-.6 .6 9-.8 8.8-1.1z"/><path color="#00ff00" d="M132.2 365.4l-8.4 .2-8.5 0-8.7-.3 .7 .6 8.3 .3 8.3 0 8.1-.1z"/><path color="#9fff00" d="M158.8 362.5l-8.7 .8-8.8 .5-8.8 .4-.2 .6 8.6-.3 8.5-.6 8.5-.7z"/><path color="#ffff00" d="M176 359.4l-5.8 .3-8.8 .8-9.5 .8-.6 .7 9.2-.8 9.1-1.2z"/><path color="#2cff00" d="M132.3 364.8l-8.6 .2-8.8 0-8.9-.3 .6 .6 8.7 .3 8.5 0 8.4-.2z"/><path color="#ffff00" d="M104.8 363.4l-9.4-.6-8.6-.8-6.9-1.3 7.6 1.7 8.7 1.1 9.2 .6z"/><path color="#ffff00" d="M159.7 361.8l-9 .8-9.1 .6-9 .3-.1 .7 8.8-.4 8.8-.5 8.7-.8z"/><path color="#9fff00" d="M132.5 364.2l-8.9 .2-9-.1-9.2-.2 .6 .6 8.9 .3 8.8 0 8.6-.2z"/><path color="#ffff00" d="M94.5 362.2l-7.7-.2 8.6 .8z"/><path color="#ffff00" d="M94 361.9l-7.2 .1 7.7 .2z"/><path color="#ffff00" d="M132.6 363.5l-9.1 .2-9.3 0-9.4-.3 .6 .7 9.2 .2 9 .1 8.9-.2z"/><path color="#ffff00" d="M151.3 362l-9.3 .5-9.3 .4-9.3 .2 .1 .6 9.1-.2 9-.3 9.1-.6z"/><path color="#ffe600" d="M170.2 359.7l-8 .1-9.7 .8-9.8 .6-.3 .7 9.5-.6 9.5-.8z"/><path color="#ffff00" d="M123.4 363.1l-9.5 0-9.7-.3-9.7-.6 .9 .6 9.4 .6 9.4 .3 9.3 0z"/><path color="#ffc900" d="M170.2 359.7l-7.1-.6-10 .8-10 .6-.4 .7 9.8-.6 9.7-.8z"/><path color="#ffff00" d="M151.9 361.3l-9.5 .6-9.5 .3-9.6 .2 .1 .7 9.3-.2 9.3-.4 9.3-.5z"/><path color="#ffff00" d="M123.3 362.4l-9.8 0-9.9-.2-9.6-.3 .5 .3 9.7 .6 9.7 .3 9.5 0z"/><path color="#ffa800" d="M170.2 359.7l-6.5-1.1-10 .6-10.2 .6-.4 .7 10-.6 10-.8z"/><path color="#ffe600" d="M113.2 361.7l-10.2-.2-9 .4 9.6 .3 9.9 .2z"/><path color="#ffe600" d="M142.7 361.2l-9.7 .3-9.8 .2-10 0 .3 .7 9.8 0 9.6-.2 9.5-.3z"/><path color="#ffc900" d="M112.8 361.1l-10.4-.3-8.4 1.1 9-.4 10.2 .2z"/><path color="#ffc900" d="M143.1 360.5l-10 .4-10 .2-10.3 0 .4 .6 10 0 9.8-.2 9.7-.3z"/><path color="#ffa800" d="M112.5 360.4l-10.6 0-7.9 1.5 8.4-1.1 10.4 .3z"/><path color="#ff8600" d="M163.7 358.6l-9.4-.1-10.5 .6-10.4 .4-.1 .7 10.2-.4 10.2-.6z"/><path color="#ffa800" d="M143.5 359.8l-10.2 .4-10.3 .2-10.5 0 .3 .7 10.3 0 10-.2 10-.4z"/><path color="#ff6400" d="M163.7 358.6l-8.8-.8-10.7 .6-10.7 .4-.1 .7 10.4-.4 10.5-.6z"/><path color="#ff8600" d="M133.4 359.5l-10.5 .2-10.8 0-10.2 .7 10.6 0 10.5 0 10.3-.2z"/><path color="#ff4300" d="M163.7 358.6l-8.2-1.5-10.9 .6-10.9 .4-.2 .7 10.7-.4 10.7-.6z"/><path color="#ff6400" d="M133.5 358.8l-10.7 .2-11 0-9.9 1.4 10.2-.7 10.8 0 10.5-.2z"/><path color="#ff1d00" d="M163.7 358.6l-7.6-2.3-11.2 .6-11.1 .4-.1 .8 10.9-.4 10.9-.6z"/><path color="#ff0000" d="M163.7 358.6l-7.4-2.5-11 .1-11.4 .4-.1 .7 11.1-.4 11.2-.6z"/><path color="#ff4300" d="M133.7 358.1l-11 .2-11.3 0-9.5 2.1 9.9-1.4 11 0 10.7-.2z"/><path color="#ff1d00" d="M133.8 357.3l-11.2 .3-11.5 0-9.2 2.8 9.5-2.1 11.3 0 11-.2z"/><path color="#ff0000" d="M133.9 356.6l-11.4 .3-11.5 .5-9.1 3 9.2-2.8 11.5 0 11.2-.3z"/><path color="#ff0000" d="M156.3 356.1l-10.6-.6-11.6 .4-11.7 .2 .1 .8 11.4-.3 11.4-.4z"/><path color="#ff0000" d="M122.4 356.1l-11.4 1.3 11.5-.5z"/><path color="#ff0000" d="M156.3 356.1l-10.3-1.4-11.8 .4-11.9 .3 .1 .7 11.7-.2 11.6-.4z"/><path color="#ff0000" d="M122.3 355.4l-11.3 2 11.4-1.3z"/><path color="#ff0000" d="M156.3 356.1l-9.9-2.1-12.1 .4-12.1 .2 .1 .8 11.9-.3 11.8-.4z"/><path color="#ff0000" d="M122.2 354.6l-11.2 2.8 11.3-2z"/><path color="#ff0000" d="M156.3 356.1l-9.5-2.9-12.3 .4-12.4 .3 .1 .7 12.1-.2 12.1-.4z"/><path color="#ff0000" d="M122.1 353.9l-11.1 3.5 11.2-2.8z"/><path color="#ff0000" d="M122 353.1l-11 4.3 11.1-3.5z"/><path color="#ff0000" d="M156.3 356.1l-9.2-3.7-12.5 .5-12.6 .2 .1 .8 12.4-.3 12.3-.4z"/><path color="#ff0000" d="M121.9 352.7l-10.9 4.7 11-4.3z"/><path color="#ff0000" d="M156.3 356.1l-9-4.1-12.6 .1-12.8 .6 .1 .4 12.6-.2 12.5-.5z"/><path color="#ff0000" d="M147.3 352l-12.4-.7-13 1.4 12.8-.6z"/><path color="#ff0000" d="M147.3 352l-12.3-1.5-13.1 2.2 13-1.4z"/><path color="#ff0000" d="M147.3 352l-12.2-2.2-13.2 2.9 13.1-2.2z"/><path color="#ff0000" d="M147.3 352l-12-3-13.4 3.7 13.2-2.9z"/><path color="#ff0000" d="M147.3 352l-11.9-3.8-13.5 4.5 13.4-3.7z"/><path color="#f20000" d="M147.3 352l-11.8-4.6-13.6 5.3 13.5-4.5z"/><path color="#dc0000" d="M147.3 352l-11.6-5.5-13.8 6.2 13.6-5.3z"/><path color="#c70000" d="M147.3 352l-11.5-6.3-13.9 7 13.8-6.2z"/></g>
<text class="t3" text-anchor="end" transform="translate(24.8 24.9) rotate(-11) scale(.9 1)">&#8722;56</text>
<text class="t3" text-anchor="end" transform="translate(25.5 40.4) rotate(-11) scale(.9 1)">&#8722;58</text>
<text class="t3" text-anchor="end" transform="translate(26.3 55.8) rotate(-11) scale(.9 1)">&#8722;60</text>
<text class="t3" text-anchor="end" transform="translate(27 70.9) rotate(-11) scale(.9 1)">&#8722;62</text>
<text class="t3" text-anchor="end" transform="translate(27.7 85.9) rotate(-11) scale(.9 1)">&#8722;64</text>
<text class="t3" text-anchor="end" transform="translate(28.4 100.7) rotate(-11) scale(.9 1)">&#8722;66</text>
<text class="t3" text-anchor="end" transform="translate(29 115.2) rotate(-11) scale(.9 1)">&#8722;68</text>
<text class="t3" text-anchor="end" transform="translate(29.7 129.6) rotate(-11) scale(.9 1)">&#8722;70</text>
<text class="t3" text-anchor="end" transform="translate(30.4 143.8) rotate(-11) scale(.9 1)">&#8722;72</text>
<text class="t3" text-anchor="end" transform="translate(31 157.8) rotate(-11) scale(.9 1)">&#8722;74</text>
<path d="M27 22.1h-2M27.7 37.6h-2M28.5 53h-2M29.2 68.1h-2M29.9 83.1h-2M30.6 97.9h-2M31.2 112.4h-2M31.9 126.8h-2M32.6 141h-2M33.2 155h-2" stroke="#555" stroke-width=".5"/>
<path d="M27 22.1L33.2 155" stroke="#7a7d88" stroke-width="1"/>
<text style="font-size:6.2px" textLength="73.2" lengthAdjust="spacingAndGlyphs" text-anchor="middle" transform="translate(15.9 92.8) rotate(-92.6)">settlement of the raft(mm)</text>
<text class="t4" text-anchor="middle" transform="translate(141.4 194.2) rotate(20)">0</text>
<text class="t4" text-anchor="middle" transform="translate(38.7 161.3) rotate(-28)">2</text>
<text class="t4" text-anchor="middle" transform="translate(152.1 188.8) rotate(20)">2</text>
<text class="t4" text-anchor="middle" transform="translate(49.1 165) rotate(-28)">4</text>
<text class="t4" text-anchor="middle" transform="translate(162.3 183.5) rotate(20)">4</text>
<text class="t4" text-anchor="middle" transform="translate(59.8 168.8) rotate(-28)">6</text>
<text class="t4" text-anchor="middle" transform="translate(172.1 178.5) rotate(20)">6</text>
<text class="t4" text-anchor="middle" transform="translate(70.8 172.6) rotate(-28)">8</text>
<text class="t4" text-anchor="middle" transform="translate(181.6 173.6) rotate(20)">8</text>
<text class="t4" text-anchor="middle" transform="translate(82.1 176.6) rotate(-28)">10</text>
<text class="t4" text-anchor="middle" transform="translate(190.7 169) rotate(20)">10</text>
<text class="t4" text-anchor="middle" transform="translate(93.9 180.8) rotate(-28)">12</text>
<text class="t4" text-anchor="middle" transform="translate(199.4 164.5) rotate(20)">12</text>
<text class="t4" text-anchor="middle" transform="translate(106 185) rotate(-28)">14</text>
<text class="t4" text-anchor="middle" transform="translate(207.9 160.2) rotate(20)">14</text>
<text class="t4" text-anchor="middle" transform="translate(118.5 189.4) rotate(-28)">16</text>
<text class="t4" text-anchor="middle" transform="translate(216 156) rotate(20)">16</text>
<text class="t4" text-anchor="middle" transform="translate(131.4 194) rotate(-28)">18</text>
<text class="t4" text-anchor="middle" transform="translate(223.9 152) rotate(20)">18</text>
<path d="M33.2 155L30.4 156.1M135.8 190.7L139.1 191.8M43.3 158.5L40.4 159.6M146.5 185.3L149.8 186.4M53.6 162.1L50.8 163.2M156.8 180.1L160 181.2M64.3 165.8L61.5 167M166.6 175.2L169.9 176.2M75.3 169.7L72.5 170.8M176.1 170.4L179.3 171.4M86.7 173.6L83.8 174.8M185.3 165.8L188.4 166.7M98.4 177.7L95.6 178.9M194.1 161.4L197.2 162.3M110.4 181.9L107.7 183.2M202.6 157.1L205.7 158M122.9 186.2L120.1 187.5M210.7 153L213.8 153.8M135.8 190.7L133.1 192.1M218.6 149L221.7 149.8" stroke="#555" stroke-width=".5"/>
<path d="M33.2 155L135.8 190.7 218.6 149" fill="none" stroke="#444" stroke-width=".7"/>
<text class="t5" text-anchor="middle" transform="translate(68.2 178.9) rotate(24)">Y-axis(m)</text>
<text class="t5" text-anchor="middle" transform="translate(195.3 175.2) rotate(-28)">X-axis(m)</text>
<text class="t3" text-anchor="end" transform="translate(24.8 256.2) rotate(-11) scale(.9 1)">&#8722;56</text>
<text class="t3" text-anchor="end" transform="translate(25.5 271.7) rotate(-11) scale(.9 1)">&#8722;58</text>
<text class="t3" text-anchor="end" transform="translate(26.3 287.1) rotate(-11) scale(.9 1)">&#8722;60</text>
<text class="t3" text-anchor="end" transform="translate(27 302.2) rotate(-11) scale(.9 1)">&#8722;62</text>
<text class="t3" text-anchor="end" transform="translate(27.7 317.2) rotate(-11) scale(.9 1)">&#8722;64</text>
<text class="t3" text-anchor="end" transform="translate(28.4 332) rotate(-11) scale(.9 1)">&#8722;66</text>
<text class="t3" text-anchor="end" transform="translate(29 346.5) rotate(-11) scale(.9 1)">&#8722;68</text>
<text class="t3" text-anchor="end" transform="translate(29.7 360.9) rotate(-11) scale(.9 1)">&#8722;70</text>
<text class="t3" text-anchor="end" transform="translate(30.4 375.1) rotate(-11) scale(.9 1)">&#8722;72</text>
<text class="t3" text-anchor="end" transform="translate(31 389.1) rotate(-11) scale(.9 1)">&#8722;74</text>
<path d="M27 253.4h-2M27.7 268.9h-2M28.5 284.3h-2M29.2 299.4h-2M29.9 314.4h-2M30.6 329.2h-2M31.2 343.7h-2M31.9 358.1h-2M32.6 372.3h-2M33.2 386.3h-2" stroke="#555" stroke-width=".5"/>
<path d="M27 253.4L33.2 386.3" stroke="#7a7d88" stroke-width="1"/>
<text style="font-size:6.8px" textLength="82" lengthAdjust="spacingAndGlyphs" text-anchor="middle" transform="translate(16.1 325) rotate(-92.6)">Settlement of the raft(mm)</text>
<text class="t4" text-anchor="middle" transform="translate(141.4 425.5) rotate(20)">0</text>
<text class="t4" text-anchor="middle" transform="translate(38.7 392.6) rotate(-28)">2</text>
<text class="t4" text-anchor="middle" transform="translate(152.1 420.1) rotate(20)">2</text>
<text class="t4" text-anchor="middle" transform="translate(49.1 396.3) rotate(-28)">4</text>
<text class="t4" text-anchor="middle" transform="translate(162.3 414.8) rotate(20)">4</text>
<text class="t4" text-anchor="middle" transform="translate(59.8 400.1) rotate(-28)">6</text>
<text class="t4" text-anchor="middle" transform="translate(172.1 409.8) rotate(20)">6</text>
<text class="t4" text-anchor="middle" transform="translate(70.8 403.9) rotate(-28)">8</text>
<text class="t4" text-anchor="middle" transform="translate(181.6 404.9) rotate(20)">8</text>
<text class="t4" text-anchor="middle" transform="translate(82.1 407.9) rotate(-28)">10</text>
<text class="t4" text-anchor="middle" transform="translate(190.7 400.3) rotate(20)">10</text>
<text class="t4" text-anchor="middle" transform="translate(93.9 412.1) rotate(-28)">12</text>
<text class="t4" text-anchor="middle" transform="translate(199.4 395.8) rotate(20)">12</text>
<text class="t4" text-anchor="middle" transform="translate(106 416.3) rotate(-28)">14</text>
<text class="t4" text-anchor="middle" transform="translate(207.9 391.5) rotate(20)">14</text>
<text class="t4" text-anchor="middle" transform="translate(118.5 420.7) rotate(-28)">16</text>
<text class="t4" text-anchor="middle" transform="translate(216 387.3) rotate(20)">16</text>
<text class="t4" text-anchor="middle" transform="translate(131.4 425.3) rotate(-28)">18</text>
<text class="t4" text-anchor="middle" transform="translate(223.9 383.3) rotate(20)">18</text>
<path d="M33.2 386.3L30.4 387.4M135.8 422L139.1 423.1M43.3 389.8L40.4 390.9M146.5 416.6L149.8 417.7M53.6 393.4L50.8 394.5M156.8 411.4L160 412.5M64.3 397.1L61.5 398.3M166.6 406.5L169.9 407.5M75.3 401L72.5 402.1M176.1 401.7L179.3 402.7M86.7 404.9L83.8 406.1M185.3 397.1L188.4 398M98.4 409L95.6 410.2M194.1 392.7L197.2 393.6M110.4 413.2L107.7 414.5M202.6 388.4L205.7 389.3M122.9 417.5L120.1 418.8M210.7 384.3L213.8 385.1M135.8 422L133.1 423.4M218.6 380.3L221.7 381.1" stroke="#555" stroke-width=".5"/>
<path d="M33.2 386.3L135.8 422 218.6 380.3" fill="none" stroke="#444" stroke-width=".7"/>
<text class="t5" text-anchor="middle" transform="translate(68.2 410.2) rotate(24)">Y-axis(m)</text>
<text class="t5" text-anchor="middle" transform="translate(195.3 406.5) rotate(-28)">X-axis(m)</text>
<linearGradient id="cba" x1="0" y1="0" x2="0" y2="1"><stop offset="0.0000" stop-color="#600000"/><stop offset="0.0700" stop-color="#b00000"/><stop offset="0.1400" stop-color="#ff0000"/><stop offset="0.3600" stop-color="#ff0000"/><stop offset="0.3800" stop-color="#ff3000"/><stop offset="0.4250" stop-color="#ff8000"/><stop offset="0.4600" stop-color="#ffc000"/><stop offset="0.5000" stop-color="#ffff00"/><stop offset="0.5420" stop-color="#ffff00"/><stop offset="0.5650" stop-color="#80ff00"/><stop offset="0.5850" stop-color="#00ff00"/><stop offset="0.6875" stop-color="#00ff00"/><stop offset="0.7000" stop-color="#00ff90"/><stop offset="0.7275" stop-color="#00ffff"/><stop offset="0.7850" stop-color="#0080ff"/><stop offset="0.8500" stop-color="#0000ff"/><stop offset="0.9050" stop-color="#7800f0"/><stop offset="0.9500" stop-color="#a000c8"/><stop offset="1.0000" stop-color="#80007a"/></linearGradient>
<rect x="227.8" y="14.2" width="7.3" height="119.6" fill="url(#cba)"/>
<text x="240.4" y="17.8" class="cl" textLength="14.8" lengthAdjust="spacingAndGlyphs">&#8722;56.0</text>
<text x="240.4" y="26.3" class="cl" textLength="14.8" lengthAdjust="spacingAndGlyphs">&#8722;57.0</text>
<text x="240.4" y="34.9" class="cl" textLength="14.8" lengthAdjust="spacingAndGlyphs">&#8722;58.0</text>
<text x="240.4" y="43.4" class="cl" textLength="14.8" lengthAdjust="spacingAndGlyphs">&#8722;59.0</text>
<text x="240.4" y="52" class="cl" textLength="14.8" lengthAdjust="spacingAndGlyphs">&#8722;60.0</text>
<text x="240.4" y="60.5" class="cl" textLength="14.8" lengthAdjust="spacingAndGlyphs">&#8722;61.0</text>
<text x="240.4" y="69.1" class="cl" textLength="14.8" lengthAdjust="spacingAndGlyphs">&#8722;62.0</text>
<text x="240.4" y="77.6" class="cl" textLength="14.8" lengthAdjust="spacingAndGlyphs">&#8722;63.0</text>
<text x="240.4" y="86.1" class="cl" textLength="14.8" lengthAdjust="spacingAndGlyphs">&#8722;64.0</text>
<text x="240.4" y="94.7" class="cl" textLength="14.8" lengthAdjust="spacingAndGlyphs">&#8722;65.0</text>
<text x="240.4" y="103.2" class="cl" textLength="14.8" lengthAdjust="spacingAndGlyphs">&#8722;66.0</text>
<text x="240.4" y="111.8" class="cl" textLength="14.8" lengthAdjust="spacingAndGlyphs">&#8722;67.0</text>
<text x="240.4" y="120.3" class="cl" textLength="14.8" lengthAdjust="spacingAndGlyphs">&#8722;68.0</text>
<text x="240.4" y="128.9" class="cl" textLength="14.8" lengthAdjust="spacingAndGlyphs">&#8722;69.0</text>
<text x="240.4" y="137.4" class="cl" textLength="14.8" lengthAdjust="spacingAndGlyphs">&#8722;70.0</text>
<linearGradient id="cbc" x1="0" y1="0" x2="0" y2="1"><stop offset="0.0000" stop-color="#600000"/><stop offset="0.0700" stop-color="#b00000"/><stop offset="0.1400" stop-color="#ff0000"/><stop offset="0.3600" stop-color="#ff0000"/><stop offset="0.3800" stop-color="#ff3000"/><stop offset="0.4250" stop-color="#ff8000"/><stop offset="0.4600" stop-color="#ffc000"/><stop offset="0.5000" stop-color="#ffff00"/><stop offset="0.5420" stop-color="#ffff00"/><stop offset="0.5650" stop-color="#80ff00"/><stop offset="0.5850" stop-color="#00ff00"/><stop offset="0.6875" stop-color="#00ff00"/><stop offset="0.7000" stop-color="#00ff90"/><stop offset="0.7275" stop-color="#00ffff"/><stop offset="0.7850" stop-color="#0080ff"/><stop offset="0.8500" stop-color="#0000ff"/><stop offset="0.9050" stop-color="#7800f0"/><stop offset="0.9500" stop-color="#a000c8"/><stop offset="1.0000" stop-color="#80007a"/></linearGradient>
<rect x="227.8" y="245.6" width="7.3" height="119.7" fill="url(#cbc)"/>
<text x="240.4" y="249.2" class="cl" textLength="14.8" lengthAdjust="spacingAndGlyphs">&#8722;64.0</text>
<text x="240.4" y="264.2" class="cl" textLength="14.8" lengthAdjust="spacingAndGlyphs">&#8722;65.0</text>
<text x="240.4" y="279.1" class="cl" textLength="14.8" lengthAdjust="spacingAndGlyphs">&#8722;66.0</text>
<text x="240.4" y="294.1" class="cl" textLength="14.8" lengthAdjust="spacingAndGlyphs">&#8722;67.0</text>
<text x="240.4" y="309.1" class="cl" textLength="14.8" lengthAdjust="spacingAndGlyphs">&#8722;68.0</text>
<text x="240.4" y="324" class="cl" textLength="14.8" lengthAdjust="spacingAndGlyphs">&#8722;69.0</text>
<text x="240.4" y="339" class="cl" textLength="14.8" lengthAdjust="spacingAndGlyphs">&#8722;70.0</text>
<text x="240.4" y="353.9" class="cl" textLength="14.8" lengthAdjust="spacingAndGlyphs">&#8722;71.0</text>
<text x="240.4" y="368.9" class="cl" textLength="14.8" lengthAdjust="spacingAndGlyphs">&#8722;72.0</text>
<rect x="344.5" y="20.5" width="135" height="134.8" fill="#dbe4fa"/>
<path d="M359.5 20.5V155.3M344.5 35.5H479.5M374.5 20.5V155.3M344.5 50.5H479.5M389.5 20.5V155.3M344.5 65.4H479.5M404.5 20.5V155.3M344.5 80.4H479.5M419.5 20.5V155.3M344.5 95.4H479.5M434.5 20.5V155.3M344.5 110.4H479.5M449.5 20.5V155.3M344.5 125.4H479.5M464.5 20.5V155.3M344.5 140.3H479.5" stroke="#d0d9f0" stroke-width=".6" fill="none"/>
<linearGradient id="gb" gradientUnits="userSpaceOnUse" x1="0" y1="20.5" x2="0" y2="125.4"><stop offset="0.0000" stop-color="#600000"/><stop offset="0.0700" stop-color="#b00000"/><stop offset="0.1400" stop-color="#ff0000"/><stop offset="0.3600" stop-color="#ff0000"/><stop offset="0.3800" stop-color="#ff3000"/><stop offset="0.4250" stop-color="#ff8000"/><stop offset="0.4600" stop-color="#ffc000"/><stop offset="0.5000" stop-color="#ffff00"/><stop offset="0.5420" stop-color="#ffff00"/><stop offset="0.5650" stop-color="#80ff00"/><stop offset="0.5850" stop-color="#00ff00"/><stop offset="0.6875" stop-color="#00ff00"/><stop offset="0.7000" stop-color="#00ff90"/><stop offset="0.7275" stop-color="#00ffff"/><stop offset="0.7850" stop-color="#0080ff"/><stop offset="0.8500" stop-color="#0000ff"/><stop offset="0.9050" stop-color="#7800f0"/><stop offset="0.9500" stop-color="#a000c8"/><stop offset="1.0000" stop-color="#80007a"/></linearGradient>
<polygon points="344.5,33.7 346,35.3 347.5,36.9 349,38.5 350.5,40.1 352,41.7 353.5,43.2 355,44.7 356.5,46.3 358,47.7 359.5,49.2 361,50.7 362.5,52.1 364,53.5 365.5,54.9 367,56.3 368.5,57.6 370,58.9 371.5,60.2 373,61.5 374.5,62.7 376,63.9 377.5,65.1 379,66.2 380.5,67.3 382,68.4 383.5,69.4 385,70.4 386.5,71.3 388,72.2 389.5,73 391,73.8 392.5,74.6 394,75.3 395.5,76 397,76.6 398.5,77.1 400,77.6 401.5,78.1 403,78.4 404.5,78.8 406,79 407.5,79.3 409,79.4 410.5,79.5 412,79.5 413.5,79.5 415,79.4 416.5,79.3 418,79 419.5,78.8 421,78.4 422.5,78.1 424,77.6 425.5,77.1 427,76.6 428.5,76 430,75.3 431.5,74.6 433,73.8 434.5,73 436,72.2 437.5,71.3 439,70.4 440.5,69.4 442,68.4 443.5,67.3 445,66.2 446.5,65.1 448,63.9 449.5,62.7 451,61.5 452.5,60.2 454,58.9 455.5,57.6 457,56.3 458.5,54.9 460,53.5 461.5,52.1 463,50.7 464.5,49.2 466,47.7 467.5,46.3 469,44.7 470.5,43.2 472,41.7 473.5,40.1 475,38.5 476.5,36.9 478,35.3 479.5,33.7 479.5,79.5 478,81.1 476.5,82.8 475,84.3 473.5,85.9 472,87.5 470.5,89 469,90.6 467.5,92.1 466,93.6 464.5,95.1 463,96.5 461.5,98 460,99.4 458.5,100.8 457,102.1 455.5,103.5 454,104.8 452.5,106.1 451,107.3 449.5,108.6 448,109.7 446.5,110.9 445,112 443.5,113.1 442,114.2 440.5,115.2 439,116.2 437.5,117.1 436,118 434.5,118.9 433,119.7 431.5,120.4 430,121.1 428.5,121.8 427,122.4 425.5,123 424,123.5 422.5,123.9 421,124.3 419.5,124.6 418,124.9 416.5,125.1 415,125.2 413.5,125.3 412,125.4 410.5,125.3 409,125.2 407.5,125.1 406,124.9 404.5,124.6 403,124.3 401.5,123.9 400,123.5 398.5,123 397,122.4 395.5,121.8 394,121.1 392.5,120.4 391,119.7 389.5,118.9 388,118 386.5,117.1 385,116.2 383.5,115.2 382,114.2 380.5,113.1 379,112 377.5,110.9 376,109.7 374.5,108.6 373,107.3 371.5,106.1 370,104.8 368.5,103.5 367,102.1 365.5,100.8 364,99.4 362.5,98 361,96.5 359.5,95.1 358,93.6 356.5,92.1 355,90.6 353.5,89 352,87.5 350.5,85.9 349,84.3 347.5,82.8 346,81.1 344.5,79.5" fill="url(#gb)"/>
<path d="M344.5 20.5H479.5V155.3" stroke="#b4bccb" stroke-width=".7" fill="none"/>
<path d="M344.5 20.5V155.3H479.5" stroke="#6f7480" stroke-width="1.2" fill="none"/>
<path d="M344.5 20.5h-2.4M344.5 35.5h-2.4M344.5 50.5h-2.4M344.5 65.4h-2.4M344.5 80.4h-2.4M344.5 95.4h-2.4M344.5 110.4h-2.4M344.5 125.4h-2.4M344.5 140.3h-2.4M344.5 155.3h-2.4M344.5 155.3v2.4M352 155.3v1.4M359.5 155.3v2.4M367 155.3v1.4M374.5 155.3v2.4M382 155.3v1.4M389.5 155.3v2.4M397 155.3v1.4M404.5 155.3v2.4M412 155.3v1.4M419.5 155.3v2.4M427 155.3v1.4M434.5 155.3v2.4M442 155.3v1.4M449.5 155.3v2.4M457 155.3v1.4M464.5 155.3v2.4M472 155.3v1.4M479.5 155.3v2.4" stroke="#333" stroke-width=".7" fill="none"/>
<text x="340.6" y="23.2" class="tl" text-anchor="end">&#8722;56</text>
<text x="340.6" y="38.2" class="tl" text-anchor="end">&#8722;58</text>
<text x="340.6" y="53.2" class="tl" text-anchor="end">&#8722;60</text>
<text x="340.6" y="68.1" class="tl" text-anchor="end">&#8722;62</text>
<text x="340.6" y="83.1" class="tl" text-anchor="end">&#8722;64</text>
<text x="340.6" y="98.1" class="tl" text-anchor="end">&#8722;66</text>
<text x="340.6" y="113.1" class="tl" text-anchor="end">&#8722;68</text>
<text x="340.6" y="128.1" class="tl" text-anchor="end">&#8722;70</text>
<text x="340.6" y="143" class="tl" text-anchor="end">&#8722;72</text>
<text x="340.6" y="158" class="tl" text-anchor="end">&#8722;74</text>
<text x="344.5" y="167.8" class="tl" text-anchor="middle">0</text>
<text x="359.5" y="167.8" class="tl" text-anchor="middle">2</text>
<text x="374.5" y="167.8" class="tl" text-anchor="middle">4</text>
<text x="389.5" y="167.8" class="tl" text-anchor="middle">6</text>
<text x="404.5" y="167.8" class="tl" text-anchor="middle">8</text>
<text x="419.5" y="167.8" class="tl" text-anchor="middle">10</text>
<text x="434.5" y="167.8" class="tl" text-anchor="middle">12</text>
<text x="449.5" y="167.8" class="tl" text-anchor="middle">14</text>
<text x="464.5" y="167.8" class="tl" text-anchor="middle">16</text>
<text x="479.5" y="167.8" class="tl" text-anchor="middle">18</text>
<text x="412.6" y="177.6" class="al" text-anchor="middle">X-axis(m)</text>
<text style="font-size:7.85px" text-anchor="middle" transform="translate(325 87.9) rotate(-90)">settlement of the raft(mm)</text>
<rect x="344.5" y="252" width="135" height="134.8" fill="#dbe4fa"/>
<path d="M359.5 252V386.8M344.5 267H479.5M374.5 252V386.8M344.5 282H479.5M389.5 252V386.8M344.5 296.9H479.5M404.5 252V386.8M344.5 311.9H479.5M419.5 252V386.8M344.5 326.9H479.5M434.5 252V386.8M344.5 341.9H479.5M449.5 252V386.8M344.5 356.9H479.5M464.5 252V386.8M344.5 371.8H479.5" stroke="#d0d9f0" stroke-width=".6" fill="none"/>
<linearGradient id="gd" gradientUnits="userSpaceOnUse" x1="0" y1="311.9" x2="0" y2="371.8"><stop offset="0.0000" stop-color="#600000"/><stop offset="0.0700" stop-color="#b00000"/><stop offset="0.1400" stop-color="#ff0000"/><stop offset="0.3600" stop-color="#ff0000"/><stop offset="0.3800" stop-color="#ff3000"/><stop offset="0.4250" stop-color="#ff8000"/><stop offset="0.4600" stop-color="#ffc000"/><stop offset="0.5000" stop-color="#ffff00"/><stop offset="0.5420" stop-color="#ffff00"/><stop offset="0.5650" stop-color="#80ff00"/><stop offset="0.5850" stop-color="#00ff00"/><stop offset="0.6875" stop-color="#00ff00"/><stop offset="0.7000" stop-color="#00ff90"/><stop offset="0.7275" stop-color="#00ffff"/><stop offset="0.7850" stop-color="#0080ff"/><stop offset="0.8500" stop-color="#0000ff"/><stop offset="0.9050" stop-color="#7800f0"/><stop offset="0.9500" stop-color="#a000c8"/><stop offset="1.0000" stop-color="#80007a"/></linearGradient>
<polygon points="344.5,316.8 346,317.7 347.5,318.7 349,319.6 350.5,320.5 352,321.4 353.5,322.3 355,323.3 356.5,324.1 358,325 359.5,325.9 361,326.8 362.5,327.6 364,328.5 365.5,329.3 367,330.1 368.5,331 370,331.8 371.5,332.5 373,333.3 374.5,334.1 376,334.8 377.5,335.5 379,336.2 380.5,336.9 382,337.6 383.5,338.2 385,338.9 386.5,339.5 388,340 389.5,340.6 391,341.1 392.5,341.6 394,342.1 395.5,342.5 397,342.9 398.5,343.3 400,343.6 401.5,343.9 403,344.1 404.5,344.4 406,344.6 407.5,344.7 409,344.8 410.5,344.9 412,344.9 413.5,344.9 415,344.8 416.5,344.7 418,344.6 419.5,344.4 421,344.1 422.5,343.9 424,343.6 425.5,343.3 427,342.9 428.5,342.5 430,342.1 431.5,341.6 433,341.1 434.5,340.6 436,340 437.5,339.5 439,338.9 440.5,338.2 442,337.6 443.5,336.9 445,336.2 446.5,335.5 448,334.8 449.5,334.1 451,333.3 452.5,332.5 454,331.8 455.5,331 457,330.1 458.5,329.3 460,328.5 461.5,327.6 463,326.8 464.5,325.9 466,325 467.5,324.1 469,323.3 470.5,322.3 472,321.4 473.5,320.5 475,319.6 476.5,318.7 478,317.7 479.5,316.8 479.5,344.9 478,345.8 476.5,346.8 475,347.7 473.5,348.6 472,349.5 470.5,350.4 469,351.3 467.5,352.2 466,353.1 464.5,354 463,354.9 461.5,355.7 460,356.6 458.5,357.4 457,358.2 455.5,359 454,359.8 452.5,360.6 451,361.4 449.5,362.2 448,362.9 446.5,363.6 445,364.3 443.5,365 442,365.7 440.5,366.3 439,367 437.5,367.6 436,368.1 434.5,368.7 433,369.2 431.5,369.7 430,370.2 428.5,370.6 427,371 425.5,371.4 424,371.7 422.5,372 421,372.2 419.5,372.5 418,372.6 416.5,372.8 415,372.9 413.5,372.9 412,373 410.5,372.9 409,372.9 407.5,372.8 406,372.6 404.5,372.5 403,372.2 401.5,372 400,371.7 398.5,371.4 397,371 395.5,370.6 394,370.2 392.5,369.7 391,369.2 389.5,368.7 388,368.1 386.5,367.6 385,367 383.5,366.3 382,365.7 380.5,365 379,364.3 377.5,363.6 376,362.9 374.5,362.2 373,361.4 371.5,360.6 370,359.8 368.5,359 367,358.2 365.5,357.4 364,356.6 362.5,355.7 361,354.9 359.5,354 358,353.1 356.5,352.2 355,351.3 353.5,350.4 352,349.5 350.5,348.6 349,347.7 347.5,346.8 346,345.8 344.5,344.9" fill="url(#gd)"/>
<path d="M344.5 252H479.5V386.8" stroke="#b4bccb" stroke-width=".7" fill="none"/>
<path d="M344.5 252V386.8H479.5" stroke="#6f7480" stroke-width="1.2" fill="none"/>
<path d="M344.5 252h-2.4M344.5 267h-2.4M344.5 282h-2.4M344.5 296.9h-2.4M344.5 311.9h-2.4M344.5 326.9h-2.4M344.5 341.9h-2.4M344.5 356.9h-2.4M344.5 371.8h-2.4M344.5 386.8h-2.4M344.5 386.8v2.4M352 386.8v1.4M359.5 386.8v2.4M367 386.8v1.4M374.5 386.8v2.4M382 386.8v1.4M389.5 386.8v2.4M397 386.8v1.4M404.5 386.8v2.4M412 386.8v1.4M419.5 386.8v2.4M427 386.8v1.4M434.5 386.8v2.4M442 386.8v1.4M449.5 386.8v2.4M457 386.8v1.4M464.5 386.8v2.4M472 386.8v1.4M479.5 386.8v2.4" stroke="#333" stroke-width=".7" fill="none"/>
<text x="340.6" y="254.7" class="tl" text-anchor="end">&#8722;56</text>
<text x="340.6" y="269.7" class="tl" text-anchor="end">&#8722;58</text>
<text x="340.6" y="284.7" class="tl" text-anchor="end">&#8722;60</text>
<text x="340.6" y="299.6" class="tl" text-anchor="end">&#8722;62</text>
<text x="340.6" y="314.6" class="tl" text-anchor="end">&#8722;64</text>
<text x="340.6" y="329.6" class="tl" text-anchor="end">&#8722;66</text>
<text x="340.6" y="344.6" class="tl" text-anchor="end">&#8722;68</text>
<text x="340.6" y="359.6" class="tl" text-anchor="end">&#8722;70</text>
<text x="340.6" y="374.5" class="tl" text-anchor="end">&#8722;72</text>
<text x="340.6" y="389.5" class="tl" text-anchor="end">&#8722;74</text>
<text x="344.5" y="399.3" class="tl" text-anchor="middle">0</text>
<text x="359.5" y="399.3" class="tl" text-anchor="middle">2</text>
<text x="374.5" y="399.3" class="tl" text-anchor="middle">4</text>
<text x="389.5" y="399.3" class="tl" text-anchor="middle">6</text>
<text x="404.5" y="399.3" class="tl" text-anchor="middle">8</text>
<text x="419.5" y="399.3" class="tl" text-anchor="middle">10</text>
<text x="434.5" y="399.3" class="tl" text-anchor="middle">12</text>
<text x="449.5" y="399.3" class="tl" text-anchor="middle">14</text>
<text x="464.5" y="399.3" class="tl" text-anchor="middle">16</text>
<text x="479.5" y="399.3" class="tl" text-anchor="middle">18</text>
<text x="412.6" y="409.1" class="al" text-anchor="middle">X-axis(m)</text>
<text style="font-size:8.5px" text-anchor="middle" transform="translate(324.5 319.4) rotate(-90)">Settlement of the raft(mm)</text>
<linearGradient id="cbb" x1="0" y1="0" x2="0" y2="1"><stop offset="0.0000" stop-color="#600000"/><stop offset="0.0700" stop-color="#b00000"/><stop offset="0.1400" stop-color="#ff0000"/><stop offset="0.3600" stop-color="#ff0000"/><stop offset="0.3800" stop-color="#ff3000"/><stop offset="0.4250" stop-color="#ff8000"/><stop offset="0.4600" stop-color="#ffc000"/><stop offset="0.5000" stop-color="#ffff00"/><stop offset="0.5420" stop-color="#ffff00"/><stop offset="0.5650" stop-color="#80ff00"/><stop offset="0.5850" stop-color="#00ff00"/><stop offset="0.6875" stop-color="#00ff00"/><stop offset="0.7000" stop-color="#00ff90"/><stop offset="0.7275" stop-color="#00ffff"/><stop offset="0.7850" stop-color="#0080ff"/><stop offset="0.8500" stop-color="#0000ff"/><stop offset="0.9050" stop-color="#7800f0"/><stop offset="0.9500" stop-color="#a000c8"/><stop offset="1.0000" stop-color="#80007a"/></linearGradient>
<rect x="513.3" y="14.2" width="7.3" height="120.2" fill="url(#cbb)"/>
<text x="526" y="17.8" class="cl" textLength="14.8" lengthAdjust="spacingAndGlyphs">&#8722;56.0</text>
<text x="526" y="26.4" class="cl" textLength="14.8" lengthAdjust="spacingAndGlyphs">&#8722;57.0</text>
<text x="526" y="35" class="cl" textLength="14.8" lengthAdjust="spacingAndGlyphs">&#8722;58.0</text>
<text x="526" y="43.6" class="cl" textLength="14.8" lengthAdjust="spacingAndGlyphs">&#8722;59.0</text>
<text x="526" y="52.1" class="cl" textLength="14.8" lengthAdjust="spacingAndGlyphs">&#8722;60.0</text>
<text x="526" y="60.7" class="cl" textLength="14.8" lengthAdjust="spacingAndGlyphs">&#8722;61.0</text>
<text x="526" y="69.3" class="cl" textLength="14.8" lengthAdjust="spacingAndGlyphs">&#8722;62.0</text>
<text x="526" y="77.9" class="cl" textLength="14.8" lengthAdjust="spacingAndGlyphs">&#8722;63.0</text>
<text x="526" y="86.5" class="cl" textLength="14.8" lengthAdjust="spacingAndGlyphs">&#8722;64.0</text>
<text x="526" y="95.1" class="cl" textLength="14.8" lengthAdjust="spacingAndGlyphs">&#8722;65.0</text>
<text x="526" y="103.7" class="cl" textLength="14.8" lengthAdjust="spacingAndGlyphs">&#8722;66.0</text>
<text x="526" y="112.2" class="cl" textLength="14.8" lengthAdjust="spacingAndGlyphs">&#8722;67.0</text>
<text x="526" y="120.8" class="cl" textLength="14.8" lengthAdjust="spacingAndGlyphs">&#8722;68.0</text>
<text x="526" y="129.4" class="cl" textLength="14.8" lengthAdjust="spacingAndGlyphs">&#8722;69.0</text>
<text x="526" y="138" class="cl" textLength="14.8" lengthAdjust="spacingAndGlyphs">&#8722;70.0</text>
<linearGradient id="cbd" x1="0" y1="0" x2="0" y2="1"><stop offset="0.0000" stop-color="#600000"/><stop offset="0.0700" stop-color="#b00000"/><stop offset="0.1400" stop-color="#ff0000"/><stop offset="0.3600" stop-color="#ff0000"/><stop offset="0.3800" stop-color="#ff3000"/><stop offset="0.4250" stop-color="#ff8000"/><stop offset="0.4600" stop-color="#ffc000"/><stop offset="0.5000" stop-color="#ffff00"/><stop offset="0.5420" stop-color="#ffff00"/><stop offset="0.5650" stop-color="#80ff00"/><stop offset="0.5850" stop-color="#00ff00"/><stop offset="0.6875" stop-color="#00ff00"/><stop offset="0.7000" stop-color="#00ff90"/><stop offset="0.7275" stop-color="#00ffff"/><stop offset="0.7850" stop-color="#0080ff"/><stop offset="0.8500" stop-color="#0000ff"/><stop offset="0.9050" stop-color="#7800f0"/><stop offset="0.9500" stop-color="#a000c8"/><stop offset="1.0000" stop-color="#80007a"/></linearGradient>
<rect x="513.3" y="245.6" width="7.3" height="119.9" fill="url(#cbd)"/>
<text x="526" y="249.2" class="cl" textLength="14.8" lengthAdjust="spacingAndGlyphs">&#8722;64.0</text>
<text x="526" y="264.2" class="cl" textLength="14.8" lengthAdjust="spacingAndGlyphs">&#8722;65.0</text>
<text x="526" y="279.2" class="cl" textLength="14.8" lengthAdjust="spacingAndGlyphs">&#8722;66.0</text>
<text x="526" y="294.2" class="cl" textLength="14.8" lengthAdjust="spacingAndGlyphs">&#8722;67.0</text>
<text x="526" y="309.2" class="cl" textLength="14.8" lengthAdjust="spacingAndGlyphs">&#8722;68.0</text>
<text x="526" y="324.1" class="cl" textLength="14.8" lengthAdjust="spacingAndGlyphs">&#8722;69.0</text>
<text x="526" y="339.1" class="cl" textLength="14.8" lengthAdjust="spacingAndGlyphs">&#8722;70.0</text>
<text x="526" y="354.1" class="cl" textLength="14.8" lengthAdjust="spacingAndGlyphs">&#8722;71.0</text>
<text x="526" y="369.1" class="cl" textLength="14.8" lengthAdjust="spacingAndGlyphs">&#8722;72.0</text>
<text x="127.25" y="223" class="cap" text-anchor="middle">(<tspan font-weight="bold">a</tspan>)</text>
<text x="412.85" y="223.6" class="cap" text-anchor="middle">(<tspan font-weight="bold">b</tspan>)</text>
<text x="127.25" y="454.7" class="cap" text-anchor="middle">(<tspan font-weight="bold">c</tspan>)</text>
<text x="412.8" y="454.7" class="cap" text-anchor="middle">(<tspan font-weight="bold">d</tspan>)</text>
</svg>
</body></html>
